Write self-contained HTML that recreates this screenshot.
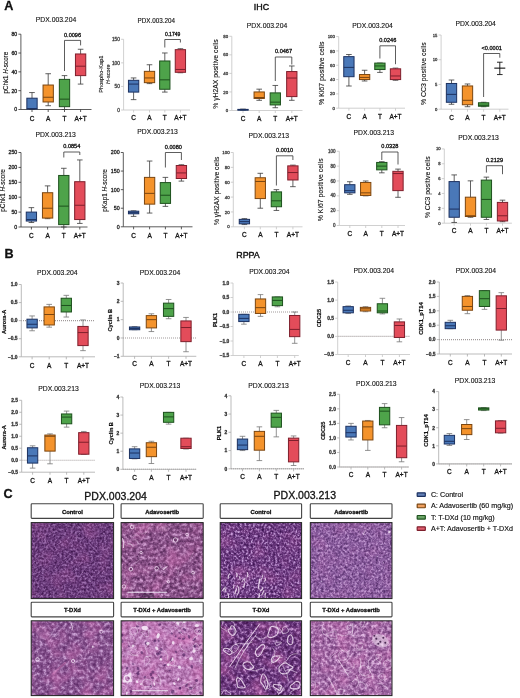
<!DOCTYPE html>
<html><head><meta charset="utf-8"><title>Figure</title>
<style>html,body{margin:0;padding:0;background:#fff;width:520px;height:698px;overflow:hidden}svg{display:block}</style>
</head><body>
<svg width="520" height="698" viewBox="0 0 520 698" font-family="'Liberation Sans', Arial, Helvetica, sans-serif">
<style>text{stroke:#111;stroke-width:0.3px;stroke-linejoin:round}</style>
<defs>
<filter id="tex00" x="0" y="0" width="1" height="1" color-interpolation-filters="sRGB"><feTurbulence type="fractalNoise" baseFrequency="0.45" numOctaves="3" seed="1"/><feColorMatrix type="matrix" values="1 0 0 0 0 1 0 0 0 0 1 0 0 0 0 0 0 0 0 1"/><feComponentTransfer result="base"><feFuncR type="table" tableValues="0.251 0.251 0.251 0.251 0.261 0.287 0.313 0.338 0.364 0.390 0.416 0.450 0.484 0.519 0.553 0.587 0.622 0.635 0.635 0.635 0.635"/><feFuncG type="table" tableValues="0.094 0.094 0.094 0.094 0.103 0.124 0.146 0.167 0.188 0.210 0.231 0.268 0.304 0.340 0.376 0.412 0.448 0.463 0.463 0.463 0.463"/><feFuncB type="table" tableValues="0.310 0.310 0.310 0.310 0.321 0.348 0.375 0.401 0.428 0.455 0.482 0.517 0.552 0.587 0.622 0.657 0.692 0.706 0.706 0.706 0.706"/></feComponentTransfer><feTurbulence type="fractalNoise" baseFrequency="0.06" numOctaves="2" seed="41"/><feColorMatrix type="matrix" values="0 0 0 0 0.86 0 0 0 0 0.45 0 0 0 0 0.72 0.60 0 0 0 -0.270" result="pink"/><feMerge><feMergeNode in="base"/><feMergeNode in="pink"/></feMerge><feGaussianBlur stdDeviation="0.3"/><feComposite in2="SourceGraphic" operator="in"/></filter>
<filter id="tex01" x="0" y="0" width="1" height="1" color-interpolation-filters="sRGB"><feTurbulence type="fractalNoise" baseFrequency="0.3" numOctaves="3" seed="2"/><feColorMatrix type="matrix" values="1 0 0 0 0 1 0 0 0 0 1 0 0 0 0 0 0 0 0 1"/><feComponentTransfer result="base"><feFuncR type="table" tableValues="0.333 0.333 0.333 0.333 0.346 0.379 0.411 0.444 0.476 0.509 0.541 0.585 0.629 0.674 0.718 0.762 0.806 0.824 0.824 0.824 0.824"/><feFuncG type="table" tableValues="0.157 0.157 0.157 0.157 0.167 0.193 0.219 0.244 0.270 0.296 0.322 0.369 0.417 0.465 0.513 0.561 0.608 0.627 0.627 0.627 0.627"/><feFuncB type="table" tableValues="0.345 0.345 0.345 0.345 0.357 0.387 0.417 0.447 0.477 0.507 0.537 0.582 0.627 0.671 0.716 0.761 0.806 0.824 0.824 0.824 0.824"/></feComponentTransfer><feTurbulence type="fractalNoise" baseFrequency="0.06" numOctaves="2" seed="42"/><feColorMatrix type="matrix" values="0 0 0 0 0.86 0 0 0 0 0.45 0 0 0 0 0.72 1.00 0 0 0 -0.450" result="pink"/><feMerge><feMergeNode in="base"/><feMergeNode in="pink"/></feMerge><feGaussianBlur stdDeviation="0.3"/><feComposite in2="SourceGraphic" operator="in"/></filter>
<filter id="tex02" x="0" y="0" width="1" height="1" color-interpolation-filters="sRGB"><feTurbulence type="fractalNoise" baseFrequency="0.45" numOctaves="3" seed="3"/><feColorMatrix type="matrix" values="1 0 0 0 0 1 0 0 0 0 1 0 0 0 0 0 0 0 0 1"/><feComponentTransfer result="base"><feFuncR type="table" tableValues="0.235 0.235 0.235 0.235 0.248 0.278 0.309 0.339 0.370 0.401 0.431 0.487 0.542 0.597 0.652 0.707 0.762 0.784 0.784 0.784 0.784"/><feFuncG type="table" tableValues="0.078 0.078 0.078 0.078 0.088 0.113 0.137 0.162 0.186 0.211 0.235 0.297 0.358 0.419 0.480 0.542 0.603 0.627 0.627 0.627 0.627"/><feFuncB type="table" tableValues="0.322 0.322 0.322 0.322 0.333 0.363 0.392 0.422 0.451 0.480 0.510 0.565 0.620 0.675 0.730 0.786 0.841 0.863 0.863 0.863 0.863"/></feComponentTransfer><feTurbulence type="fractalNoise" baseFrequency="0.06" numOctaves="2" seed="43"/><feColorMatrix type="matrix" values="0 0 0 0 0.86 0 0 0 0 0.45 0 0 0 0 0.72 0.60 0 0 0 -0.270" result="pink"/><feMerge><feMergeNode in="base"/><feMergeNode in="pink"/></feMerge><feGaussianBlur stdDeviation="0.3"/><feComposite in2="SourceGraphic" operator="in"/></filter>
<filter id="tex03" x="0" y="0" width="1" height="1" color-interpolation-filters="sRGB"><feTurbulence type="fractalNoise" baseFrequency="0.42" numOctaves="3" seed="4"/><feColorMatrix type="matrix" values="1 0 0 0 0 1 0 0 0 0 1 0 0 0 0 0 0 0 0 1"/><feComponentTransfer result="base"><feFuncR type="table" tableValues="0.337 0.337 0.337 0.337 0.350 0.382 0.414 0.446 0.477 0.509 0.541 0.579 0.617 0.655 0.693 0.731 0.769 0.784 0.784 0.784 0.784"/><feFuncG type="table" tableValues="0.188 0.188 0.188 0.188 0.199 0.226 0.253 0.280 0.307 0.334 0.361 0.402 0.444 0.486 0.527 0.569 0.611 0.627 0.627 0.627 0.627"/><feFuncB type="table" tableValues="0.424 0.424 0.424 0.424 0.436 0.466 0.497 0.528 0.558 0.589 0.620 0.655 0.689 0.724 0.759 0.794 0.829 0.843 0.843 0.843 0.843"/></feComponentTransfer><feTurbulence type="fractalNoise" baseFrequency="0.06" numOctaves="2" seed="44"/><feColorMatrix type="matrix" values="0 0 0 0 0.86 0 0 0 0 0.45 0 0 0 0 0.72 0.40 0 0 0 -0.180" result="pink"/><feMerge><feMergeNode in="base"/><feMergeNode in="pink"/></feMerge><feGaussianBlur stdDeviation="0.3"/><feComposite in2="SourceGraphic" operator="in"/></filter>
<filter id="tex10" x="0" y="0" width="1" height="1" color-interpolation-filters="sRGB"><feTurbulence type="fractalNoise" baseFrequency="0.3" numOctaves="3" seed="5"/><feColorMatrix type="matrix" values="1 0 0 0 0 1 0 0 0 0 1 0 0 0 0 0 0 0 0 1"/><feComponentTransfer result="base"><feFuncR type="table" tableValues="0.369 0.369 0.369 0.369 0.379 0.404 0.429 0.454 0.479 0.504 0.529 0.572 0.615 0.658 0.701 0.744 0.787 0.804 0.804 0.804 0.804"/><feFuncG type="table" tableValues="0.173 0.173 0.173 0.173 0.182 0.206 0.230 0.254 0.278 0.302 0.325 0.376 0.426 0.476 0.526 0.577 0.627 0.647 0.647 0.647 0.647"/><feFuncB type="table" tableValues="0.408 0.408 0.408 0.408 0.417 0.441 0.465 0.489 0.513 0.537 0.561 0.605 0.649 0.693 0.737 0.781 0.825 0.843 0.843 0.843 0.843"/></feComponentTransfer><feTurbulence type="fractalNoise" baseFrequency="0.06" numOctaves="2" seed="45"/><feColorMatrix type="matrix" values="0 0 0 0 0.86 0 0 0 0 0.45 0 0 0 0 0.72 1.20 0 0 0 -0.540" result="pink"/><feMerge><feMergeNode in="base"/><feMergeNode in="pink"/></feMerge><feGaussianBlur stdDeviation="0.3"/><feComposite in2="SourceGraphic" operator="in"/></filter>
<filter id="tex11" x="0" y="0" width="1" height="1" color-interpolation-filters="sRGB"><feTurbulence type="fractalNoise" baseFrequency="0.3" numOctaves="3" seed="6"/><feColorMatrix type="matrix" values="1 0 0 0 0 1 0 0 0 0 1 0 0 0 0 0 0 0 0 1"/><feComponentTransfer result="base"><feFuncR type="table" tableValues="0.518 0.518 0.518 0.518 0.530 0.562 0.594 0.626 0.658 0.690 0.722 0.747 0.773 0.799 0.825 0.850 0.876 0.886 0.886 0.886 0.886"/><feFuncG type="table" tableValues="0.275 0.275 0.275 0.275 0.287 0.319 0.351 0.383 0.415 0.447 0.478 0.514 0.550 0.585 0.621 0.656 0.692 0.706 0.706 0.706 0.706"/><feFuncB type="table" tableValues="0.498 0.498 0.498 0.498 0.512 0.545 0.579 0.613 0.646 0.680 0.714 0.741 0.768 0.795 0.822 0.849 0.875 0.886 0.886 0.886 0.886"/></feComponentTransfer><feTurbulence type="fractalNoise" baseFrequency="0.06" numOctaves="2" seed="46"/><feColorMatrix type="matrix" values="0 0 0 0 0.86 0 0 0 0 0.45 0 0 0 0 0.72 1.20 0 0 0 -0.540" result="pink"/><feMerge><feMergeNode in="base"/><feMergeNode in="pink"/></feMerge><feGaussianBlur stdDeviation="0.3"/><feComposite in2="SourceGraphic" operator="in"/></filter>
<filter id="tex12" x="0" y="0" width="1" height="1" color-interpolation-filters="sRGB"><feTurbulence type="fractalNoise" baseFrequency="0.32" numOctaves="3" seed="7"/><feColorMatrix type="matrix" values="1 0 0 0 0 1 0 0 0 0 1 0 0 0 0 0 0 0 0 1"/><feComponentTransfer result="base"><feFuncR type="table" tableValues="0.259 0.259 0.259 0.259 0.268 0.290 0.312 0.334 0.356 0.378 0.400 0.460 0.520 0.580 0.640 0.700 0.760 0.784 0.784 0.784 0.784"/><feFuncG type="table" tableValues="0.078 0.078 0.078 0.078 0.086 0.106 0.125 0.145 0.165 0.184 0.204 0.265 0.326 0.388 0.449 0.510 0.572 0.596 0.596 0.596 0.596"/><feFuncB type="table" tableValues="0.310 0.310 0.310 0.310 0.320 0.347 0.373 0.399 0.426 0.452 0.478 0.534 0.589 0.644 0.699 0.754 0.809 0.831 0.831 0.831 0.831"/></feComponentTransfer><feTurbulence type="fractalNoise" baseFrequency="0.06" numOctaves="2" seed="47"/><feColorMatrix type="matrix" values="0 0 0 0 0.86 0 0 0 0 0.45 0 0 0 0 0.72 1.20 0 0 0 -0.540" result="pink"/><feMerge><feMergeNode in="base"/><feMergeNode in="pink"/></feMerge><feGaussianBlur stdDeviation="0.3"/><feComposite in2="SourceGraphic" operator="in"/></filter>
<filter id="tex13" x="0" y="0" width="1" height="1" color-interpolation-filters="sRGB"><feTurbulence type="fractalNoise" baseFrequency="0.32" numOctaves="3" seed="8"/><feColorMatrix type="matrix" values="1 0 0 0 0 1 0 0 0 0 1 0 0 0 0 0 0 0 0 1"/><feComponentTransfer result="base"><feFuncR type="table" tableValues="0.416 0.416 0.416 0.416 0.429 0.462 0.495 0.528 0.561 0.594 0.627 0.670 0.713 0.756 0.799 0.842 0.885 0.902 0.902 0.902 0.902"/><feFuncG type="table" tableValues="0.212 0.212 0.212 0.212 0.224 0.255 0.285 0.316 0.347 0.377 0.408 0.461 0.513 0.566 0.619 0.671 0.724 0.745 0.745 0.745 0.745"/><feFuncB type="table" tableValues="0.447 0.447 0.447 0.447 0.459 0.490 0.521 0.551 0.582 0.613 0.643 0.685 0.726 0.768 0.810 0.851 0.893 0.910 0.910 0.910 0.910"/></feComponentTransfer><feTurbulence type="fractalNoise" baseFrequency="0.06" numOctaves="2" seed="48"/><feColorMatrix type="matrix" values="0 0 0 0 0.86 0 0 0 0 0.45 0 0 0 0 0.72 1.00 0 0 0 -0.450" result="pink"/><feMerge><feMergeNode in="base"/><feMergeNode in="pink"/></feMerge><feGaussianBlur stdDeviation="0.3"/><feComposite in2="SourceGraphic" operator="in"/></filter>
<filter id="soft" x="-0.1" y="-0.1" width="1.2" height="1.2"><feGaussianBlur stdDeviation="0.3"/></filter>
</defs>
<rect width="520" height="698" fill="#fff"/>
<text x="4.3" y="10.2" font-size="12.6" font-weight="bold" fill="#111">A</text>
<text x="261.5" y="9.8" font-size="8.9" text-anchor="middle" fill="#111" style="stroke-width:0.4px">IHC</text>
<text x="4.5" y="258.3" font-size="12.6" font-weight="bold" fill="#111">B</text>
<text x="248" y="258.2" font-size="8.9" text-anchor="middle" fill="#111" style="stroke-width:0.4px">RPPA</text>
<text x="3.6" y="497.9" font-size="12.6" font-weight="bold" fill="#111">C</text>
<text x="56" y="22" font-size="6.8" text-anchor="middle" fill="#111" style="stroke-width:0.12px">PDX.003.204</text>
<text transform="translate(8.29,72.70) rotate(-90)" font-size="6.28" text-anchor="middle" fill="#111" style="stroke-width:0.12px">pChk1 <tspan font-style="italic">H</tspan>-score</text>
<line x1="20.90" y1="34.20" x2="20.90" y2="109.50" stroke="#333" stroke-width="0.8"/>
<line x1="20.90" y1="109.50" x2="91.50" y2="109.50" stroke="#333" stroke-width="0.8"/>
<line x1="18.40" y1="109.50" x2="20.90" y2="109.50" stroke="#333" stroke-width="0.8"/>
<text x="17.20" y="111.37" font-size="5.2" text-anchor="end" fill="#222" style="stroke:#222">0</text>
<line x1="18.40" y1="90.67" x2="20.90" y2="90.67" stroke="#333" stroke-width="0.8"/>
<text x="17.20" y="92.55" font-size="5.2" text-anchor="end" fill="#222" style="stroke:#222">20</text>
<line x1="18.40" y1="71.85" x2="20.90" y2="71.85" stroke="#333" stroke-width="0.8"/>
<text x="17.20" y="73.72" font-size="5.2" text-anchor="end" fill="#222" style="stroke:#222">40</text>
<line x1="18.40" y1="53.02" x2="20.90" y2="53.02" stroke="#333" stroke-width="0.8"/>
<text x="17.20" y="54.90" font-size="5.2" text-anchor="end" fill="#222" style="stroke:#222">60</text>
<line x1="18.40" y1="34.20" x2="20.90" y2="34.20" stroke="#333" stroke-width="0.8"/>
<text x="17.20" y="36.07" font-size="5.2" text-anchor="end" fill="#222" style="stroke:#222">80</text>
<line x1="32.00" y1="109.50" x2="32.00" y2="112.00" stroke="#333" stroke-width="0.8"/>
<text x="32.00" y="121.20" font-size="6.5" text-anchor="middle" fill="#111">C</text>
<line x1="48.20" y1="109.50" x2="48.20" y2="112.00" stroke="#333" stroke-width="0.8"/>
<text x="48.20" y="121.20" font-size="6.5" text-anchor="middle" fill="#111">A</text>
<line x1="64.50" y1="109.50" x2="64.50" y2="112.00" stroke="#333" stroke-width="0.8"/>
<text x="64.50" y="121.20" font-size="6.5" text-anchor="middle" fill="#111">T</text>
<line x1="80.60" y1="109.50" x2="80.60" y2="112.00" stroke="#333" stroke-width="0.8"/>
<text x="80.60" y="121.20" font-size="6.5" text-anchor="middle" fill="#111">A+T</text>
<line x1="32.00" y1="92.56" x2="32.00" y2="98.20" stroke="#3a3a3a" stroke-width="0.8"/>
<line x1="32.00" y1="109.03" x2="32.00" y2="109.50" stroke="#3a3a3a" stroke-width="0.8"/>
<line x1="29.20" y1="109.50" x2="34.80" y2="109.50" stroke="#3a3a3a" stroke-width="0.8"/>
<line x1="29.20" y1="92.56" x2="34.80" y2="92.56" stroke="#3a3a3a" stroke-width="0.8"/>
<rect x="26.85" y="98.20" width="10.30" height="10.82" fill="#4a78b8" stroke="#1c3160" stroke-width="1.0"/>
<line x1="26.85" y1="108.56" x2="37.15" y2="108.56" stroke="#1c3160" stroke-width="1"/>
<line x1="48.20" y1="73.73" x2="48.20" y2="85.03" stroke="#3a3a3a" stroke-width="0.8"/>
<line x1="48.20" y1="101.97" x2="48.20" y2="105.73" stroke="#3a3a3a" stroke-width="0.8"/>
<line x1="45.40" y1="105.73" x2="51.00" y2="105.73" stroke="#3a3a3a" stroke-width="0.8"/>
<line x1="45.40" y1="73.73" x2="51.00" y2="73.73" stroke="#3a3a3a" stroke-width="0.8"/>
<rect x="43.05" y="85.03" width="10.30" height="16.94" fill="#f4932c" stroke="#7a4510" stroke-width="1.0"/>
<line x1="43.05" y1="97.26" x2="53.35" y2="97.26" stroke="#7a4510" stroke-width="1"/>
<line x1="64.50" y1="75.62" x2="64.50" y2="79.38" stroke="#3a3a3a" stroke-width="0.8"/>
<line x1="64.50" y1="106.68" x2="64.50" y2="109.50" stroke="#3a3a3a" stroke-width="0.8"/>
<line x1="61.70" y1="109.50" x2="67.30" y2="109.50" stroke="#3a3a3a" stroke-width="0.8"/>
<line x1="61.70" y1="75.62" x2="67.30" y2="75.62" stroke="#3a3a3a" stroke-width="0.8"/>
<rect x="59.35" y="79.38" width="10.30" height="27.30" fill="#4ea34a" stroke="#1d501d" stroke-width="1.0"/>
<line x1="59.35" y1="99.15" x2="69.65" y2="99.15" stroke="#1d501d" stroke-width="1"/>
<line x1="80.60" y1="49.26" x2="80.60" y2="53.97" stroke="#3a3a3a" stroke-width="0.8"/>
<line x1="80.60" y1="75.62" x2="80.60" y2="84.09" stroke="#3a3a3a" stroke-width="0.8"/>
<line x1="77.80" y1="84.09" x2="83.40" y2="84.09" stroke="#3a3a3a" stroke-width="0.8"/>
<line x1="77.80" y1="49.26" x2="83.40" y2="49.26" stroke="#3a3a3a" stroke-width="0.8"/>
<rect x="75.45" y="53.97" width="10.30" height="21.65" fill="#e34c5a" stroke="#7e1f2c" stroke-width="1.0"/>
<line x1="75.45" y1="66.20" x2="85.75" y2="66.20" stroke="#7e1f2c" stroke-width="1"/>
<polyline points="64.50,71.00 64.50,40.40 80.60,40.40 80.60,45.40" fill="none" stroke="#333" stroke-width="0.8"/>
<text x="72.55" y="36.80" font-size="5.6" text-anchor="middle" fill="#111">0.0096</text>
<text x="156.3" y="22.6" font-size="6.3" text-anchor="middle" fill="#111" style="stroke-width:0.12px">PDX.003.204</text>
<text transform="translate(102.62,74.15) rotate(-90)" font-size="5.62" text-anchor="middle" fill="#111" style="stroke-width:0.12px">Phospho-Kap1</text>
<text transform="translate(110.01,74.15) rotate(-90)" font-size="5.62" text-anchor="middle" fill="#111" style="stroke-width:0.12px"><tspan font-style="italic">H</tspan>-score</text>
<line x1="123.60" y1="39.30" x2="123.60" y2="110.00" stroke="#c4c4c4" stroke-width="0.8"/>
<line x1="123.60" y1="110.00" x2="190.00" y2="110.00" stroke="#c4c4c4" stroke-width="0.8"/>
<line x1="121.10" y1="110.00" x2="123.60" y2="110.00" stroke="#c4c4c4" stroke-width="0.8"/>
<text x="119.90" y="111.73" font-size="4.8" text-anchor="end" fill="#444" style="stroke:#444">0</text>
<line x1="121.10" y1="86.43" x2="123.60" y2="86.43" stroke="#c4c4c4" stroke-width="0.8"/>
<text x="119.90" y="88.16" font-size="4.8" text-anchor="end" fill="#444" style="stroke:#444">50</text>
<line x1="121.10" y1="62.87" x2="123.60" y2="62.87" stroke="#c4c4c4" stroke-width="0.8"/>
<text x="119.90" y="64.59" font-size="4.8" text-anchor="end" fill="#444" style="stroke:#444">100</text>
<line x1="121.10" y1="39.30" x2="123.60" y2="39.30" stroke="#c4c4c4" stroke-width="0.8"/>
<text x="119.90" y="41.03" font-size="4.8" text-anchor="end" fill="#444" style="stroke:#444">150</text>
<line x1="133.60" y1="110.00" x2="133.60" y2="112.50" stroke="#c4c4c4" stroke-width="0.8"/>
<text x="133.60" y="120.40" font-size="6.5" text-anchor="middle" fill="#111">C</text>
<line x1="149.50" y1="110.00" x2="149.50" y2="112.50" stroke="#c4c4c4" stroke-width="0.8"/>
<text x="149.50" y="120.40" font-size="6.5" text-anchor="middle" fill="#111">A</text>
<line x1="164.80" y1="110.00" x2="164.80" y2="112.50" stroke="#c4c4c4" stroke-width="0.8"/>
<text x="164.80" y="120.40" font-size="6.5" text-anchor="middle" fill="#111">T</text>
<line x1="180.40" y1="110.00" x2="180.40" y2="112.50" stroke="#c4c4c4" stroke-width="0.8"/>
<text x="180.40" y="120.40" font-size="6.5" text-anchor="middle" fill="#111">A+T</text>
<line x1="133.60" y1="77.95" x2="133.60" y2="80.31" stroke="#3a3a3a" stroke-width="0.8"/>
<line x1="133.60" y1="92.09" x2="133.60" y2="99.63" stroke="#3a3a3a" stroke-width="0.8"/>
<line x1="130.80" y1="99.63" x2="136.40" y2="99.63" stroke="#3a3a3a" stroke-width="0.8"/>
<line x1="130.80" y1="77.95" x2="136.40" y2="77.95" stroke="#3a3a3a" stroke-width="0.8"/>
<rect x="128.45" y="80.31" width="10.30" height="11.78" fill="#4a78b8" stroke="#1c3160" stroke-width="1.0"/>
<line x1="128.45" y1="84.08" x2="138.75" y2="84.08" stroke="#1c3160" stroke-width="1"/>
<line x1="149.50" y1="64.75" x2="149.50" y2="71.35" stroke="#3a3a3a" stroke-width="0.8"/>
<line x1="149.50" y1="82.66" x2="149.50" y2="83.61" stroke="#3a3a3a" stroke-width="0.8"/>
<line x1="146.70" y1="83.61" x2="152.30" y2="83.61" stroke="#3a3a3a" stroke-width="0.8"/>
<line x1="146.70" y1="64.75" x2="152.30" y2="64.75" stroke="#3a3a3a" stroke-width="0.8"/>
<rect x="144.35" y="71.35" width="10.30" height="11.31" fill="#f4932c" stroke="#7a4510" stroke-width="1.0"/>
<line x1="144.35" y1="77.95" x2="154.65" y2="77.95" stroke="#7a4510" stroke-width="1"/>
<line x1="164.80" y1="52.97" x2="164.80" y2="60.98" stroke="#3a3a3a" stroke-width="0.8"/>
<line x1="164.80" y1="89.26" x2="164.80" y2="92.09" stroke="#3a3a3a" stroke-width="0.8"/>
<line x1="162.00" y1="92.09" x2="167.60" y2="92.09" stroke="#3a3a3a" stroke-width="0.8"/>
<line x1="162.00" y1="52.97" x2="167.60" y2="52.97" stroke="#3a3a3a" stroke-width="0.8"/>
<rect x="159.65" y="60.98" width="10.30" height="28.28" fill="#4ea34a" stroke="#1d501d" stroke-width="1.0"/>
<line x1="159.65" y1="79.83" x2="169.95" y2="79.83" stroke="#1d501d" stroke-width="1"/>
<line x1="180.40" y1="48.73" x2="180.40" y2="49.67" stroke="#3a3a3a" stroke-width="0.8"/>
<line x1="180.40" y1="72.29" x2="180.40" y2="72.76" stroke="#3a3a3a" stroke-width="0.8"/>
<line x1="177.60" y1="72.76" x2="183.20" y2="72.76" stroke="#3a3a3a" stroke-width="0.8"/>
<line x1="177.60" y1="48.73" x2="183.20" y2="48.73" stroke="#3a3a3a" stroke-width="0.8"/>
<rect x="175.25" y="49.67" width="10.30" height="22.62" fill="#e34c5a" stroke="#7e1f2c" stroke-width="1.0"/>
<line x1="175.25" y1="69.47" x2="185.55" y2="69.47" stroke="#7e1f2c" stroke-width="1"/>
<polyline points="164.80,47.50 164.80,39.50 180.40,39.50 180.40,42.50" fill="none" stroke="#333" stroke-width="0.8"/>
<text x="172.60" y="35.90" font-size="5.0" text-anchor="middle" fill="#111">0.1749</text>
<text x="267" y="27.5" font-size="6.8" text-anchor="middle" fill="#111" style="stroke-width:0.12px">PDX.003.204</text>
<text transform="translate(217.92,74.10) rotate(-90)" font-size="6.79" text-anchor="middle" fill="#111" style="stroke-width:0.12px">% γH2AX positive cells</text>
<line x1="231.80" y1="36.30" x2="231.80" y2="110.50" stroke="#c4c4c4" stroke-width="0.8"/>
<line x1="231.80" y1="110.50" x2="302.50" y2="110.50" stroke="#c4c4c4" stroke-width="0.8"/>
<line x1="229.30" y1="110.50" x2="231.80" y2="110.50" stroke="#c4c4c4" stroke-width="0.8"/>
<text x="228.10" y="112.08" font-size="4.4" text-anchor="end" fill="#444" style="stroke:#444">0</text>
<line x1="229.30" y1="91.95" x2="231.80" y2="91.95" stroke="#c4c4c4" stroke-width="0.8"/>
<text x="228.10" y="93.53" font-size="4.4" text-anchor="end" fill="#444" style="stroke:#444">20</text>
<line x1="229.30" y1="73.40" x2="231.80" y2="73.40" stroke="#c4c4c4" stroke-width="0.8"/>
<text x="228.10" y="74.98" font-size="4.4" text-anchor="end" fill="#444" style="stroke:#444">40</text>
<line x1="229.30" y1="54.85" x2="231.80" y2="54.85" stroke="#c4c4c4" stroke-width="0.8"/>
<text x="228.10" y="56.43" font-size="4.4" text-anchor="end" fill="#444" style="stroke:#444">60</text>
<line x1="229.30" y1="36.30" x2="231.80" y2="36.30" stroke="#c4c4c4" stroke-width="0.8"/>
<text x="228.10" y="37.88" font-size="4.4" text-anchor="end" fill="#444" style="stroke:#444">80</text>
<line x1="243.00" y1="110.50" x2="243.00" y2="113.00" stroke="#c4c4c4" stroke-width="0.8"/>
<text x="243.00" y="121.20" font-size="6.5" text-anchor="middle" fill="#111">C</text>
<line x1="259.20" y1="110.50" x2="259.20" y2="113.00" stroke="#c4c4c4" stroke-width="0.8"/>
<text x="259.20" y="121.20" font-size="6.5" text-anchor="middle" fill="#111">A</text>
<line x1="275.30" y1="110.50" x2="275.30" y2="113.00" stroke="#c4c4c4" stroke-width="0.8"/>
<text x="275.30" y="121.20" font-size="6.5" text-anchor="middle" fill="#111">T</text>
<line x1="291.80" y1="110.50" x2="291.80" y2="113.00" stroke="#c4c4c4" stroke-width="0.8"/>
<text x="291.80" y="121.20" font-size="6.5" text-anchor="middle" fill="#111">A+T</text>
<line x1="243.00" y1="109.11" x2="243.00" y2="109.39" stroke="#3a3a3a" stroke-width="0.8"/>
<line x1="243.00" y1="109.76" x2="243.00" y2="110.04" stroke="#3a3a3a" stroke-width="0.8"/>
<line x1="240.20" y1="110.04" x2="245.80" y2="110.04" stroke="#3a3a3a" stroke-width="0.8"/>
<line x1="240.20" y1="109.11" x2="245.80" y2="109.11" stroke="#3a3a3a" stroke-width="0.8"/>
<rect x="237.85" y="109.39" width="10.30" height="0.80" fill="#4a78b8" stroke="#1c3160" stroke-width="1.0"/>
<line x1="237.85" y1="109.57" x2="248.15" y2="109.57" stroke="#1c3160" stroke-width="1"/>
<line x1="259.20" y1="89.17" x2="259.20" y2="91.95" stroke="#3a3a3a" stroke-width="0.8"/>
<line x1="259.20" y1="98.44" x2="259.20" y2="100.30" stroke="#3a3a3a" stroke-width="0.8"/>
<line x1="256.40" y1="100.30" x2="262.00" y2="100.30" stroke="#3a3a3a" stroke-width="0.8"/>
<line x1="256.40" y1="89.17" x2="262.00" y2="89.17" stroke="#3a3a3a" stroke-width="0.8"/>
<rect x="254.05" y="91.95" width="10.30" height="6.49" fill="#f4932c" stroke="#7a4510" stroke-width="1.0"/>
<line x1="254.05" y1="97.52" x2="264.35" y2="97.52" stroke="#7a4510" stroke-width="1"/>
<line x1="275.30" y1="85.46" x2="275.30" y2="92.88" stroke="#3a3a3a" stroke-width="0.8"/>
<line x1="275.30" y1="104.94" x2="275.30" y2="107.72" stroke="#3a3a3a" stroke-width="0.8"/>
<line x1="272.50" y1="107.72" x2="278.10" y2="107.72" stroke="#3a3a3a" stroke-width="0.8"/>
<line x1="272.50" y1="85.46" x2="278.10" y2="85.46" stroke="#3a3a3a" stroke-width="0.8"/>
<rect x="270.15" y="92.88" width="10.30" height="12.06" fill="#4ea34a" stroke="#1d501d" stroke-width="1.0"/>
<line x1="270.15" y1="102.15" x2="280.45" y2="102.15" stroke="#1d501d" stroke-width="1"/>
<line x1="291.80" y1="65.98" x2="291.80" y2="71.55" stroke="#3a3a3a" stroke-width="0.8"/>
<line x1="291.80" y1="96.59" x2="291.80" y2="100.30" stroke="#3a3a3a" stroke-width="0.8"/>
<line x1="289.00" y1="100.30" x2="294.60" y2="100.30" stroke="#3a3a3a" stroke-width="0.8"/>
<line x1="289.00" y1="65.98" x2="294.60" y2="65.98" stroke="#3a3a3a" stroke-width="0.8"/>
<rect x="286.65" y="71.55" width="10.30" height="25.04" fill="#e34c5a" stroke="#7e1f2c" stroke-width="1.0"/>
<line x1="286.65" y1="78.04" x2="296.95" y2="78.04" stroke="#7e1f2c" stroke-width="1"/>
<polyline points="275.30,81.00 275.30,57.00 291.80,57.00 291.80,64.50" fill="none" stroke="#333" stroke-width="0.8"/>
<text x="283.55" y="53.40" font-size="5.6" text-anchor="middle" fill="#111">0.0467</text>
<text x="372.5" y="27.5" font-size="6.8" text-anchor="middle" fill="#111" style="stroke-width:0.12px">PDX.003.204</text>
<text transform="translate(323.96,73.30) rotate(-90)" font-size="6.96" text-anchor="middle" fill="#111" style="stroke-width:0.12px">% Ki67 positive cells</text>
<line x1="338.70" y1="36.60" x2="338.70" y2="108.20" stroke="#c4c4c4" stroke-width="0.8"/>
<line x1="338.70" y1="108.20" x2="405.00" y2="108.20" stroke="#c4c4c4" stroke-width="0.8"/>
<line x1="336.20" y1="108.20" x2="338.70" y2="108.20" stroke="#c4c4c4" stroke-width="0.8"/>
<text x="335.00" y="109.78" font-size="4.4" text-anchor="end" fill="#444" style="stroke:#444">0</text>
<line x1="336.20" y1="93.88" x2="338.70" y2="93.88" stroke="#c4c4c4" stroke-width="0.8"/>
<text x="335.00" y="95.46" font-size="4.4" text-anchor="end" fill="#444" style="stroke:#444">20</text>
<line x1="336.20" y1="79.56" x2="338.70" y2="79.56" stroke="#c4c4c4" stroke-width="0.8"/>
<text x="335.00" y="81.14" font-size="4.4" text-anchor="end" fill="#444" style="stroke:#444">40</text>
<line x1="336.20" y1="65.24" x2="338.70" y2="65.24" stroke="#c4c4c4" stroke-width="0.8"/>
<text x="335.00" y="66.82" font-size="4.4" text-anchor="end" fill="#444" style="stroke:#444">60</text>
<line x1="336.20" y1="50.92" x2="338.70" y2="50.92" stroke="#c4c4c4" stroke-width="0.8"/>
<text x="335.00" y="52.50" font-size="4.4" text-anchor="end" fill="#444" style="stroke:#444">80</text>
<line x1="336.20" y1="36.60" x2="338.70" y2="36.60" stroke="#c4c4c4" stroke-width="0.8"/>
<text x="335.00" y="38.18" font-size="4.4" text-anchor="end" fill="#444" style="stroke:#444">100</text>
<line x1="348.90" y1="108.20" x2="348.90" y2="110.70" stroke="#c4c4c4" stroke-width="0.8"/>
<text x="348.90" y="119.20" font-size="6.5" text-anchor="middle" fill="#111">C</text>
<line x1="364.60" y1="108.20" x2="364.60" y2="110.70" stroke="#c4c4c4" stroke-width="0.8"/>
<text x="364.60" y="119.20" font-size="6.5" text-anchor="middle" fill="#111">A</text>
<line x1="379.90" y1="108.20" x2="379.90" y2="110.70" stroke="#c4c4c4" stroke-width="0.8"/>
<text x="379.90" y="119.20" font-size="6.5" text-anchor="middle" fill="#111">T</text>
<line x1="395.50" y1="108.20" x2="395.50" y2="110.70" stroke="#c4c4c4" stroke-width="0.8"/>
<text x="395.50" y="119.20" font-size="6.5" text-anchor="middle" fill="#111">A+T</text>
<line x1="348.90" y1="54.50" x2="348.90" y2="56.65" stroke="#3a3a3a" stroke-width="0.8"/>
<line x1="348.90" y1="76.70" x2="348.90" y2="86.00" stroke="#3a3a3a" stroke-width="0.8"/>
<line x1="346.10" y1="86.00" x2="351.70" y2="86.00" stroke="#3a3a3a" stroke-width="0.8"/>
<line x1="346.10" y1="54.50" x2="351.70" y2="54.50" stroke="#3a3a3a" stroke-width="0.8"/>
<rect x="343.75" y="56.65" width="10.30" height="20.05" fill="#4a78b8" stroke="#1c3160" stroke-width="1.0"/>
<line x1="343.75" y1="67.39" x2="354.05" y2="67.39" stroke="#1c3160" stroke-width="1"/>
<line x1="364.60" y1="70.25" x2="364.60" y2="74.55" stroke="#3a3a3a" stroke-width="0.8"/>
<line x1="364.60" y1="79.56" x2="364.60" y2="80.99" stroke="#3a3a3a" stroke-width="0.8"/>
<line x1="361.80" y1="80.99" x2="367.40" y2="80.99" stroke="#3a3a3a" stroke-width="0.8"/>
<line x1="361.80" y1="70.25" x2="367.40" y2="70.25" stroke="#3a3a3a" stroke-width="0.8"/>
<rect x="359.45" y="74.55" width="10.30" height="5.01" fill="#f4932c" stroke="#7a4510" stroke-width="1.0"/>
<line x1="359.45" y1="77.41" x2="369.75" y2="77.41" stroke="#7a4510" stroke-width="1"/>
<line x1="379.90" y1="63.09" x2="379.90" y2="63.09" stroke="#3a3a3a" stroke-width="0.8"/>
<line x1="379.90" y1="69.54" x2="379.90" y2="72.40" stroke="#3a3a3a" stroke-width="0.8"/>
<line x1="377.10" y1="72.40" x2="382.70" y2="72.40" stroke="#3a3a3a" stroke-width="0.8"/>
<line x1="377.10" y1="63.09" x2="382.70" y2="63.09" stroke="#3a3a3a" stroke-width="0.8"/>
<rect x="374.75" y="63.09" width="10.30" height="6.44" fill="#4ea34a" stroke="#1d501d" stroke-width="1.0"/>
<line x1="374.75" y1="65.96" x2="385.05" y2="65.96" stroke="#1d501d" stroke-width="1"/>
<line x1="395.50" y1="68.10" x2="395.50" y2="68.82" stroke="#3a3a3a" stroke-width="0.8"/>
<line x1="395.50" y1="79.56" x2="395.50" y2="80.28" stroke="#3a3a3a" stroke-width="0.8"/>
<line x1="392.70" y1="80.28" x2="398.30" y2="80.28" stroke="#3a3a3a" stroke-width="0.8"/>
<line x1="392.70" y1="68.10" x2="398.30" y2="68.10" stroke="#3a3a3a" stroke-width="0.8"/>
<rect x="390.35" y="68.82" width="10.30" height="10.74" fill="#e34c5a" stroke="#7e1f2c" stroke-width="1.0"/>
<line x1="390.35" y1="75.98" x2="400.65" y2="75.98" stroke="#7e1f2c" stroke-width="1"/>
<polyline points="379.90,58.50 379.90,45.80 395.50,45.80 395.50,64.20" fill="none" stroke="#333" stroke-width="0.8"/>
<text x="387.70" y="42.20" font-size="5.6" text-anchor="middle" fill="#111">0.0246</text>
<text x="475.6" y="26.3" font-size="6.8" text-anchor="middle" fill="#111" style="stroke-width:0.12px">PDX.003.204</text>
<text transform="translate(425.75,73.60) rotate(-90)" font-size="6.9" text-anchor="middle" fill="#111" style="stroke-width:0.12px">% CC3 positive cells</text>
<line x1="441.10" y1="35.00" x2="441.10" y2="109.20" stroke="#c4c4c4" stroke-width="0.8"/>
<line x1="441.10" y1="109.20" x2="508.50" y2="109.20" stroke="#c4c4c4" stroke-width="0.8"/>
<line x1="438.60" y1="109.20" x2="441.10" y2="109.20" stroke="#c4c4c4" stroke-width="0.8"/>
<text x="437.40" y="110.71" font-size="4.2" text-anchor="end" fill="#444" style="stroke:#444">0</text>
<line x1="438.60" y1="84.47" x2="441.10" y2="84.47" stroke="#c4c4c4" stroke-width="0.8"/>
<text x="437.40" y="85.98" font-size="4.2" text-anchor="end" fill="#444" style="stroke:#444">5</text>
<line x1="438.60" y1="59.73" x2="441.10" y2="59.73" stroke="#c4c4c4" stroke-width="0.8"/>
<text x="437.40" y="61.25" font-size="4.2" text-anchor="end" fill="#444" style="stroke:#444">10</text>
<line x1="438.60" y1="35.00" x2="441.10" y2="35.00" stroke="#c4c4c4" stroke-width="0.8"/>
<text x="437.40" y="36.51" font-size="4.2" text-anchor="end" fill="#444" style="stroke:#444">15</text>
<line x1="451.50" y1="109.20" x2="451.50" y2="111.70" stroke="#c4c4c4" stroke-width="0.8"/>
<text x="451.50" y="120.10" font-size="6.5" text-anchor="middle" fill="#111">C</text>
<line x1="467.50" y1="109.20" x2="467.50" y2="111.70" stroke="#c4c4c4" stroke-width="0.8"/>
<text x="467.50" y="120.10" font-size="6.5" text-anchor="middle" fill="#111">A</text>
<line x1="483.60" y1="109.20" x2="483.60" y2="111.70" stroke="#c4c4c4" stroke-width="0.8"/>
<text x="483.60" y="120.10" font-size="6.5" text-anchor="middle" fill="#111">T</text>
<line x1="499.80" y1="109.20" x2="499.80" y2="111.70" stroke="#c4c4c4" stroke-width="0.8"/>
<text x="499.80" y="120.10" font-size="6.5" text-anchor="middle" fill="#111">A+T</text>
<line x1="451.50" y1="80.01" x2="451.50" y2="83.48" stroke="#3a3a3a" stroke-width="0.8"/>
<line x1="451.50" y1="102.27" x2="451.50" y2="104.25" stroke="#3a3a3a" stroke-width="0.8"/>
<line x1="448.70" y1="104.25" x2="454.30" y2="104.25" stroke="#3a3a3a" stroke-width="0.8"/>
<line x1="448.70" y1="80.01" x2="454.30" y2="80.01" stroke="#3a3a3a" stroke-width="0.8"/>
<rect x="446.35" y="83.48" width="10.30" height="18.80" fill="#4a78b8" stroke="#1c3160" stroke-width="1.0"/>
<line x1="446.35" y1="94.36" x2="456.65" y2="94.36" stroke="#1c3160" stroke-width="1"/>
<line x1="467.50" y1="83.97" x2="467.50" y2="85.95" stroke="#3a3a3a" stroke-width="0.8"/>
<line x1="467.50" y1="104.75" x2="467.50" y2="106.73" stroke="#3a3a3a" stroke-width="0.8"/>
<line x1="464.70" y1="106.73" x2="470.30" y2="106.73" stroke="#3a3a3a" stroke-width="0.8"/>
<line x1="464.70" y1="83.97" x2="470.30" y2="83.97" stroke="#3a3a3a" stroke-width="0.8"/>
<rect x="462.35" y="85.95" width="10.30" height="18.80" fill="#f4932c" stroke="#7a4510" stroke-width="1.0"/>
<line x1="462.35" y1="100.30" x2="472.65" y2="100.30" stroke="#7a4510" stroke-width="1"/>
<line x1="483.60" y1="102.27" x2="483.60" y2="102.77" stroke="#3a3a3a" stroke-width="0.8"/>
<line x1="483.60" y1="106.23" x2="483.60" y2="106.73" stroke="#3a3a3a" stroke-width="0.8"/>
<line x1="480.80" y1="106.73" x2="486.40" y2="106.73" stroke="#3a3a3a" stroke-width="0.8"/>
<line x1="480.80" y1="102.27" x2="486.40" y2="102.27" stroke="#3a3a3a" stroke-width="0.8"/>
<rect x="478.45" y="102.77" width="10.30" height="3.46" fill="#4ea34a" stroke="#1d501d" stroke-width="1.0"/>
<line x1="478.45" y1="105.24" x2="488.75" y2="105.24" stroke="#1d501d" stroke-width="1"/>
<line x1="499.80" y1="74.57" x2="499.80" y2="62.21" stroke="#111" stroke-width="0.9"/>
<line x1="494.30" y1="68.14" x2="505.30" y2="68.14" stroke="#111" stroke-width="1.1"/>
<line x1="497.00" y1="74.57" x2="502.60" y2="74.57" stroke="#111" stroke-width="0.9"/>
<line x1="497.00" y1="62.21" x2="502.60" y2="62.21" stroke="#111" stroke-width="0.9"/>
<polyline points="483.60,97.00 483.60,53.50 499.80,53.50 499.80,57.70" fill="none" stroke="#333" stroke-width="0.8"/>
<text x="491.70" y="49.90" font-size="5.6" text-anchor="middle" fill="#111">&lt;0.0001</text>
<text x="55.6" y="136.8" font-size="6.8" text-anchor="middle" fill="#111" style="stroke-width:0.12px">PDX.003.213</text>
<text transform="translate(5.32,190.45) rotate(-90)" font-size="6.39" text-anchor="middle" fill="#111" style="stroke-width:0.12px">pChk1 <tspan font-style="italic">H</tspan>-score</text>
<line x1="21.00" y1="152.50" x2="21.00" y2="227.00" stroke="#333" stroke-width="0.8"/>
<line x1="21.00" y1="227.00" x2="87.50" y2="227.00" stroke="#333" stroke-width="0.8"/>
<line x1="18.50" y1="227.00" x2="21.00" y2="227.00" stroke="#333" stroke-width="0.8"/>
<text x="17.30" y="228.91" font-size="5.3" text-anchor="end" fill="#222" style="stroke:#222">0</text>
<line x1="18.50" y1="212.10" x2="21.00" y2="212.10" stroke="#333" stroke-width="0.8"/>
<text x="17.30" y="214.01" font-size="5.3" text-anchor="end" fill="#222" style="stroke:#222">50</text>
<line x1="18.50" y1="197.20" x2="21.00" y2="197.20" stroke="#333" stroke-width="0.8"/>
<text x="17.30" y="199.11" font-size="5.3" text-anchor="end" fill="#222" style="stroke:#222">100</text>
<line x1="18.50" y1="182.30" x2="21.00" y2="182.30" stroke="#333" stroke-width="0.8"/>
<text x="17.30" y="184.21" font-size="5.3" text-anchor="end" fill="#222" style="stroke:#222">150</text>
<line x1="18.50" y1="167.40" x2="21.00" y2="167.40" stroke="#333" stroke-width="0.8"/>
<text x="17.30" y="169.31" font-size="5.3" text-anchor="end" fill="#222" style="stroke:#222">200</text>
<line x1="18.50" y1="152.50" x2="21.00" y2="152.50" stroke="#333" stroke-width="0.8"/>
<text x="17.30" y="154.41" font-size="5.3" text-anchor="end" fill="#222" style="stroke:#222">250</text>
<line x1="31.40" y1="227.00" x2="31.40" y2="229.50" stroke="#333" stroke-width="0.8"/>
<text x="31.40" y="238.20" font-size="6.5" text-anchor="middle" fill="#111">C</text>
<line x1="47.60" y1="227.00" x2="47.60" y2="229.50" stroke="#333" stroke-width="0.8"/>
<text x="47.60" y="238.20" font-size="6.5" text-anchor="middle" fill="#111">A</text>
<line x1="63.80" y1="227.00" x2="63.80" y2="229.50" stroke="#333" stroke-width="0.8"/>
<text x="63.80" y="238.20" font-size="6.5" text-anchor="middle" fill="#111">T</text>
<line x1="79.80" y1="227.00" x2="79.80" y2="229.50" stroke="#333" stroke-width="0.8"/>
<text x="79.80" y="238.20" font-size="6.5" text-anchor="middle" fill="#111">A+T</text>
<line x1="31.40" y1="207.63" x2="31.40" y2="212.10" stroke="#3a3a3a" stroke-width="0.8"/>
<line x1="31.40" y1="221.04" x2="31.40" y2="222.53" stroke="#3a3a3a" stroke-width="0.8"/>
<line x1="28.60" y1="222.53" x2="34.20" y2="222.53" stroke="#3a3a3a" stroke-width="0.8"/>
<line x1="28.60" y1="207.63" x2="34.20" y2="207.63" stroke="#3a3a3a" stroke-width="0.8"/>
<rect x="26.25" y="212.10" width="10.30" height="8.94" fill="#4a78b8" stroke="#1c3160" stroke-width="1.0"/>
<line x1="26.25" y1="219.55" x2="36.55" y2="219.55" stroke="#1c3160" stroke-width="1"/>
<line x1="47.60" y1="185.88" x2="47.60" y2="192.73" stroke="#3a3a3a" stroke-width="0.8"/>
<line x1="47.60" y1="218.06" x2="47.60" y2="218.66" stroke="#3a3a3a" stroke-width="0.8"/>
<line x1="44.80" y1="218.66" x2="50.40" y2="218.66" stroke="#3a3a3a" stroke-width="0.8"/>
<line x1="44.80" y1="185.88" x2="50.40" y2="185.88" stroke="#3a3a3a" stroke-width="0.8"/>
<rect x="42.45" y="192.73" width="10.30" height="25.33" fill="#f4932c" stroke="#7a4510" stroke-width="1.0"/>
<line x1="42.45" y1="208.23" x2="52.75" y2="208.23" stroke="#7a4510" stroke-width="1"/>
<line x1="63.80" y1="168.29" x2="63.80" y2="175.45" stroke="#3a3a3a" stroke-width="0.8"/>
<line x1="63.80" y1="224.62" x2="63.80" y2="227.00" stroke="#3a3a3a" stroke-width="0.8"/>
<line x1="61.00" y1="227.00" x2="66.60" y2="227.00" stroke="#3a3a3a" stroke-width="0.8"/>
<line x1="61.00" y1="168.29" x2="66.60" y2="168.29" stroke="#3a3a3a" stroke-width="0.8"/>
<rect x="58.65" y="175.45" width="10.30" height="49.17" fill="#4ea34a" stroke="#1d501d" stroke-width="1.0"/>
<line x1="58.65" y1="206.14" x2="68.95" y2="206.14" stroke="#1d501d" stroke-width="1"/>
<line x1="79.80" y1="159.95" x2="79.80" y2="181.70" stroke="#3a3a3a" stroke-width="0.8"/>
<line x1="79.80" y1="219.55" x2="79.80" y2="223.42" stroke="#3a3a3a" stroke-width="0.8"/>
<line x1="77.00" y1="223.42" x2="82.60" y2="223.42" stroke="#3a3a3a" stroke-width="0.8"/>
<line x1="77.00" y1="159.95" x2="82.60" y2="159.95" stroke="#3a3a3a" stroke-width="0.8"/>
<rect x="74.65" y="181.70" width="10.30" height="37.85" fill="#e34c5a" stroke="#7e1f2c" stroke-width="1.0"/>
<line x1="74.65" y1="205.25" x2="84.95" y2="205.25" stroke="#7e1f2c" stroke-width="1"/>
<polyline points="63.80,157.50 63.80,152.00 79.80,152.00 79.80,155.00" fill="none" stroke="#333" stroke-width="0.8"/>
<text x="71.80" y="148.40" font-size="5.6" text-anchor="middle" fill="#111">0.0854</text>
<text x="157.5" y="133.8" font-size="6.8" text-anchor="middle" fill="#111" style="stroke-width:0.12px">PDX.003.213</text>
<text transform="translate(107.02,190.45) rotate(-90)" font-size="6.39" text-anchor="middle" fill="#111" style="stroke-width:0.12px">pKap1 <tspan font-style="italic">H</tspan>-score</text>
<line x1="123.30" y1="152.50" x2="123.30" y2="226.80" stroke="#333" stroke-width="0.8"/>
<line x1="123.30" y1="226.80" x2="192.50" y2="226.80" stroke="#333" stroke-width="0.8"/>
<line x1="120.80" y1="226.80" x2="123.30" y2="226.80" stroke="#333" stroke-width="0.8"/>
<text x="119.60" y="228.71" font-size="5.3" text-anchor="end" fill="#222" style="stroke:#222">0</text>
<line x1="120.80" y1="208.23" x2="123.30" y2="208.23" stroke="#333" stroke-width="0.8"/>
<text x="119.60" y="210.13" font-size="5.3" text-anchor="end" fill="#222" style="stroke:#222">50</text>
<line x1="120.80" y1="189.65" x2="123.30" y2="189.65" stroke="#333" stroke-width="0.8"/>
<text x="119.60" y="191.56" font-size="5.3" text-anchor="end" fill="#222" style="stroke:#222">100</text>
<line x1="120.80" y1="171.07" x2="123.30" y2="171.07" stroke="#333" stroke-width="0.8"/>
<text x="119.60" y="172.98" font-size="5.3" text-anchor="end" fill="#222" style="stroke:#222">150</text>
<line x1="120.80" y1="152.50" x2="123.30" y2="152.50" stroke="#333" stroke-width="0.8"/>
<text x="119.60" y="154.41" font-size="5.3" text-anchor="end" fill="#222" style="stroke:#222">200</text>
<line x1="133.60" y1="226.80" x2="133.60" y2="229.30" stroke="#333" stroke-width="0.8"/>
<text x="133.60" y="237.70" font-size="6.5" text-anchor="middle" fill="#111">C</text>
<line x1="149.60" y1="226.80" x2="149.60" y2="229.30" stroke="#333" stroke-width="0.8"/>
<text x="149.60" y="237.70" font-size="6.5" text-anchor="middle" fill="#111">A</text>
<line x1="165.40" y1="226.80" x2="165.40" y2="229.30" stroke="#333" stroke-width="0.8"/>
<text x="165.40" y="237.70" font-size="6.5" text-anchor="middle" fill="#111">T</text>
<line x1="181.40" y1="226.80" x2="181.40" y2="229.30" stroke="#333" stroke-width="0.8"/>
<text x="181.40" y="237.70" font-size="6.5" text-anchor="middle" fill="#111">A+T</text>
<line x1="133.60" y1="210.83" x2="133.60" y2="211.20" stroke="#3a3a3a" stroke-width="0.8"/>
<line x1="133.60" y1="213.80" x2="133.60" y2="216.40" stroke="#3a3a3a" stroke-width="0.8"/>
<line x1="130.80" y1="216.40" x2="136.40" y2="216.40" stroke="#3a3a3a" stroke-width="0.8"/>
<line x1="130.80" y1="210.83" x2="136.40" y2="210.83" stroke="#3a3a3a" stroke-width="0.8"/>
<rect x="128.45" y="211.20" width="10.30" height="2.60" fill="#4a78b8" stroke="#1c3160" stroke-width="1.0"/>
<line x1="128.45" y1="212.68" x2="138.75" y2="212.68" stroke="#1c3160" stroke-width="1"/>
<line x1="149.60" y1="161.04" x2="149.60" y2="177.39" stroke="#3a3a3a" stroke-width="0.8"/>
<line x1="149.60" y1="204.14" x2="149.60" y2="213.05" stroke="#3a3a3a" stroke-width="0.8"/>
<line x1="146.80" y1="213.05" x2="152.40" y2="213.05" stroke="#3a3a3a" stroke-width="0.8"/>
<line x1="146.80" y1="161.04" x2="152.40" y2="161.04" stroke="#3a3a3a" stroke-width="0.8"/>
<rect x="144.45" y="177.39" width="10.30" height="26.75" fill="#f4932c" stroke="#7a4510" stroke-width="1.0"/>
<line x1="144.45" y1="193.37" x2="154.75" y2="193.37" stroke="#7a4510" stroke-width="1"/>
<line x1="165.40" y1="177.39" x2="165.40" y2="182.59" stroke="#3a3a3a" stroke-width="0.8"/>
<line x1="165.40" y1="203.40" x2="165.40" y2="206.37" stroke="#3a3a3a" stroke-width="0.8"/>
<line x1="162.60" y1="206.37" x2="168.20" y2="206.37" stroke="#3a3a3a" stroke-width="0.8"/>
<line x1="162.60" y1="177.39" x2="168.20" y2="177.39" stroke="#3a3a3a" stroke-width="0.8"/>
<rect x="160.25" y="182.59" width="10.30" height="20.80" fill="#4ea34a" stroke="#1d501d" stroke-width="1.0"/>
<line x1="160.25" y1="195.22" x2="170.55" y2="195.22" stroke="#1d501d" stroke-width="1"/>
<line x1="181.40" y1="164.76" x2="181.40" y2="165.50" stroke="#3a3a3a" stroke-width="0.8"/>
<line x1="181.40" y1="178.50" x2="181.40" y2="181.11" stroke="#3a3a3a" stroke-width="0.8"/>
<line x1="178.60" y1="181.11" x2="184.20" y2="181.11" stroke="#3a3a3a" stroke-width="0.8"/>
<line x1="178.60" y1="164.76" x2="184.20" y2="164.76" stroke="#3a3a3a" stroke-width="0.8"/>
<rect x="176.25" y="165.50" width="10.30" height="13.00" fill="#e34c5a" stroke="#7e1f2c" stroke-width="1.0"/>
<line x1="176.25" y1="172.93" x2="186.55" y2="172.93" stroke="#7e1f2c" stroke-width="1"/>
<polyline points="165.40,167.50 165.40,152.50 181.40,152.50 181.40,160.00" fill="none" stroke="#333" stroke-width="0.8"/>
<text x="173.40" y="148.90" font-size="5.6" text-anchor="middle" fill="#111">0.0080</text>
<text x="268.8" y="138" font-size="6.8" text-anchor="middle" fill="#111" style="stroke-width:0.12px">PDX.003.213</text>
<text transform="translate(218.90,190.75) rotate(-90)" font-size="6.7" text-anchor="middle" fill="#111" style="stroke-width:0.12px">% γH2AX positive cells</text>
<line x1="233.30" y1="152.50" x2="233.30" y2="226.80" stroke="#c4c4c4" stroke-width="0.8"/>
<line x1="233.30" y1="226.80" x2="302.50" y2="226.80" stroke="#c4c4c4" stroke-width="0.8"/>
<line x1="230.80" y1="226.80" x2="233.30" y2="226.80" stroke="#c4c4c4" stroke-width="0.8"/>
<text x="229.60" y="228.38" font-size="4.4" text-anchor="end" fill="#444" style="stroke:#444">0</text>
<line x1="230.80" y1="211.94" x2="233.30" y2="211.94" stroke="#c4c4c4" stroke-width="0.8"/>
<text x="229.60" y="213.52" font-size="4.4" text-anchor="end" fill="#444" style="stroke:#444">20</text>
<line x1="230.80" y1="197.08" x2="233.30" y2="197.08" stroke="#c4c4c4" stroke-width="0.8"/>
<text x="229.60" y="198.66" font-size="4.4" text-anchor="end" fill="#444" style="stroke:#444">40</text>
<line x1="230.80" y1="182.22" x2="233.30" y2="182.22" stroke="#c4c4c4" stroke-width="0.8"/>
<text x="229.60" y="183.80" font-size="4.4" text-anchor="end" fill="#444" style="stroke:#444">60</text>
<line x1="230.80" y1="167.36" x2="233.30" y2="167.36" stroke="#c4c4c4" stroke-width="0.8"/>
<text x="229.60" y="168.94" font-size="4.4" text-anchor="end" fill="#444" style="stroke:#444">80</text>
<line x1="230.80" y1="152.50" x2="233.30" y2="152.50" stroke="#c4c4c4" stroke-width="0.8"/>
<text x="229.60" y="154.08" font-size="4.4" text-anchor="end" fill="#444" style="stroke:#444">100</text>
<line x1="244.40" y1="226.80" x2="244.40" y2="229.30" stroke="#c4c4c4" stroke-width="0.8"/>
<text x="244.40" y="237.10" font-size="6.5" text-anchor="middle" fill="#111">C</text>
<line x1="260.30" y1="226.80" x2="260.30" y2="229.30" stroke="#c4c4c4" stroke-width="0.8"/>
<text x="260.30" y="237.10" font-size="6.5" text-anchor="middle" fill="#111">A</text>
<line x1="276.40" y1="226.80" x2="276.40" y2="229.30" stroke="#c4c4c4" stroke-width="0.8"/>
<text x="276.40" y="237.10" font-size="6.5" text-anchor="middle" fill="#111">T</text>
<line x1="292.90" y1="226.80" x2="292.90" y2="229.30" stroke="#c4c4c4" stroke-width="0.8"/>
<text x="292.90" y="237.10" font-size="6.5" text-anchor="middle" fill="#111">A+T</text>
<line x1="244.40" y1="218.63" x2="244.40" y2="219.37" stroke="#3a3a3a" stroke-width="0.8"/>
<line x1="244.40" y1="223.83" x2="244.40" y2="224.57" stroke="#3a3a3a" stroke-width="0.8"/>
<line x1="241.60" y1="224.57" x2="247.20" y2="224.57" stroke="#3a3a3a" stroke-width="0.8"/>
<line x1="241.60" y1="218.63" x2="247.20" y2="218.63" stroke="#3a3a3a" stroke-width="0.8"/>
<rect x="239.25" y="219.37" width="10.30" height="4.46" fill="#4a78b8" stroke="#1c3160" stroke-width="1.0"/>
<line x1="239.25" y1="221.60" x2="249.55" y2="221.60" stroke="#1c3160" stroke-width="1"/>
<line x1="260.30" y1="173.30" x2="260.30" y2="177.76" stroke="#3a3a3a" stroke-width="0.8"/>
<line x1="260.30" y1="198.57" x2="260.30" y2="208.23" stroke="#3a3a3a" stroke-width="0.8"/>
<line x1="257.50" y1="208.23" x2="263.10" y2="208.23" stroke="#3a3a3a" stroke-width="0.8"/>
<line x1="257.50" y1="173.30" x2="263.10" y2="173.30" stroke="#3a3a3a" stroke-width="0.8"/>
<rect x="255.15" y="177.76" width="10.30" height="20.80" fill="#f4932c" stroke="#7a4510" stroke-width="1.0"/>
<line x1="255.15" y1="181.48" x2="265.45" y2="181.48" stroke="#7a4510" stroke-width="1"/>
<line x1="276.40" y1="189.65" x2="276.40" y2="191.88" stroke="#3a3a3a" stroke-width="0.8"/>
<line x1="276.40" y1="206.74" x2="276.40" y2="210.45" stroke="#3a3a3a" stroke-width="0.8"/>
<line x1="273.60" y1="210.45" x2="279.20" y2="210.45" stroke="#3a3a3a" stroke-width="0.8"/>
<line x1="273.60" y1="189.65" x2="279.20" y2="189.65" stroke="#3a3a3a" stroke-width="0.8"/>
<rect x="271.25" y="191.88" width="10.30" height="14.86" fill="#4ea34a" stroke="#1d501d" stroke-width="1.0"/>
<line x1="271.25" y1="200.80" x2="281.55" y2="200.80" stroke="#1d501d" stroke-width="1"/>
<line x1="292.90" y1="165.13" x2="292.90" y2="165.87" stroke="#3a3a3a" stroke-width="0.8"/>
<line x1="292.90" y1="179.99" x2="292.90" y2="186.68" stroke="#3a3a3a" stroke-width="0.8"/>
<line x1="290.10" y1="186.68" x2="295.70" y2="186.68" stroke="#3a3a3a" stroke-width="0.8"/>
<line x1="290.10" y1="165.13" x2="295.70" y2="165.13" stroke="#3a3a3a" stroke-width="0.8"/>
<rect x="287.75" y="165.87" width="10.30" height="14.12" fill="#e34c5a" stroke="#7e1f2c" stroke-width="1.0"/>
<line x1="287.75" y1="172.56" x2="298.05" y2="172.56" stroke="#7e1f2c" stroke-width="1"/>
<polyline points="276.40,185.50 276.40,155.80 292.90,155.80 292.90,160.00" fill="none" stroke="#333" stroke-width="0.8"/>
<text x="284.65" y="152.20" font-size="5.6" text-anchor="middle" fill="#111">0.0010</text>
<text x="373.8" y="134.5" font-size="6.8" text-anchor="middle" fill="#111" style="stroke-width:0.12px">PDX.003.213</text>
<text transform="translate(323.35,189.80) rotate(-90)" font-size="6.9" text-anchor="middle" fill="#111" style="stroke-width:0.12px">% Ki67 positive cells</text>
<line x1="339.30" y1="151.30" x2="339.30" y2="225.50" stroke="#c4c4c4" stroke-width="0.8"/>
<line x1="339.30" y1="225.50" x2="405.00" y2="225.50" stroke="#c4c4c4" stroke-width="0.8"/>
<line x1="336.80" y1="225.50" x2="339.30" y2="225.50" stroke="#c4c4c4" stroke-width="0.8"/>
<text x="335.60" y="227.12" font-size="4.5" text-anchor="end" fill="#444" style="stroke:#444">0</text>
<line x1="336.80" y1="210.66" x2="339.30" y2="210.66" stroke="#c4c4c4" stroke-width="0.8"/>
<text x="335.60" y="212.28" font-size="4.5" text-anchor="end" fill="#444" style="stroke:#444">20</text>
<line x1="336.80" y1="195.82" x2="339.30" y2="195.82" stroke="#c4c4c4" stroke-width="0.8"/>
<text x="335.60" y="197.44" font-size="4.5" text-anchor="end" fill="#444" style="stroke:#444">40</text>
<line x1="336.80" y1="180.98" x2="339.30" y2="180.98" stroke="#c4c4c4" stroke-width="0.8"/>
<text x="335.60" y="182.60" font-size="4.5" text-anchor="end" fill="#444" style="stroke:#444">60</text>
<line x1="336.80" y1="166.14" x2="339.30" y2="166.14" stroke="#c4c4c4" stroke-width="0.8"/>
<text x="335.60" y="167.76" font-size="4.5" text-anchor="end" fill="#444" style="stroke:#444">80</text>
<line x1="336.80" y1="151.30" x2="339.30" y2="151.30" stroke="#c4c4c4" stroke-width="0.8"/>
<text x="335.60" y="152.92" font-size="4.5" text-anchor="end" fill="#444" style="stroke:#444">100</text>
<line x1="349.80" y1="225.50" x2="349.80" y2="228.00" stroke="#c4c4c4" stroke-width="0.8"/>
<text x="349.80" y="235.70" font-size="6.5" text-anchor="middle" fill="#111">C</text>
<line x1="365.70" y1="225.50" x2="365.70" y2="228.00" stroke="#c4c4c4" stroke-width="0.8"/>
<text x="365.70" y="235.70" font-size="6.5" text-anchor="middle" fill="#111">A</text>
<line x1="381.80" y1="225.50" x2="381.80" y2="228.00" stroke="#c4c4c4" stroke-width="0.8"/>
<text x="381.80" y="235.70" font-size="6.5" text-anchor="middle" fill="#111">T</text>
<line x1="398.00" y1="225.50" x2="398.00" y2="228.00" stroke="#c4c4c4" stroke-width="0.8"/>
<text x="398.00" y="235.70" font-size="6.5" text-anchor="middle" fill="#111">A+T</text>
<line x1="349.80" y1="181.72" x2="349.80" y2="184.69" stroke="#3a3a3a" stroke-width="0.8"/>
<line x1="349.80" y1="192.85" x2="349.80" y2="194.34" stroke="#3a3a3a" stroke-width="0.8"/>
<line x1="347.00" y1="194.34" x2="352.60" y2="194.34" stroke="#3a3a3a" stroke-width="0.8"/>
<line x1="347.00" y1="181.72" x2="352.60" y2="181.72" stroke="#3a3a3a" stroke-width="0.8"/>
<rect x="344.65" y="184.69" width="10.30" height="8.16" fill="#4a78b8" stroke="#1c3160" stroke-width="1.0"/>
<line x1="344.65" y1="190.63" x2="354.95" y2="190.63" stroke="#1c3160" stroke-width="1"/>
<line x1="365.70" y1="180.98" x2="365.70" y2="182.46" stroke="#3a3a3a" stroke-width="0.8"/>
<line x1="365.70" y1="195.45" x2="365.70" y2="195.82" stroke="#3a3a3a" stroke-width="0.8"/>
<line x1="362.90" y1="195.82" x2="368.50" y2="195.82" stroke="#3a3a3a" stroke-width="0.8"/>
<line x1="362.90" y1="180.98" x2="368.50" y2="180.98" stroke="#3a3a3a" stroke-width="0.8"/>
<rect x="360.55" y="182.46" width="10.30" height="12.99" fill="#f4932c" stroke="#7a4510" stroke-width="1.0"/>
<line x1="360.55" y1="192.85" x2="370.85" y2="192.85" stroke="#7a4510" stroke-width="1"/>
<line x1="381.80" y1="161.69" x2="381.80" y2="162.43" stroke="#3a3a3a" stroke-width="0.8"/>
<line x1="381.80" y1="169.85" x2="381.80" y2="172.82" stroke="#3a3a3a" stroke-width="0.8"/>
<line x1="379.00" y1="172.82" x2="384.60" y2="172.82" stroke="#3a3a3a" stroke-width="0.8"/>
<line x1="379.00" y1="161.69" x2="384.60" y2="161.69" stroke="#3a3a3a" stroke-width="0.8"/>
<rect x="376.65" y="162.43" width="10.30" height="7.42" fill="#4ea34a" stroke="#1d501d" stroke-width="1.0"/>
<line x1="376.65" y1="166.14" x2="386.95" y2="166.14" stroke="#1d501d" stroke-width="1"/>
<line x1="398.00" y1="169.11" x2="398.00" y2="171.33" stroke="#3a3a3a" stroke-width="0.8"/>
<line x1="398.00" y1="190.63" x2="398.00" y2="197.30" stroke="#3a3a3a" stroke-width="0.8"/>
<line x1="395.20" y1="197.30" x2="400.80" y2="197.30" stroke="#3a3a3a" stroke-width="0.8"/>
<line x1="395.20" y1="169.11" x2="400.80" y2="169.11" stroke="#3a3a3a" stroke-width="0.8"/>
<rect x="392.85" y="171.33" width="10.30" height="19.29" fill="#e34c5a" stroke="#7e1f2c" stroke-width="1.0"/>
<line x1="392.85" y1="173.56" x2="403.15" y2="173.56" stroke="#7e1f2c" stroke-width="1"/>
<polyline points="381.80,160.00 381.80,152.00 398.00,152.00 398.00,164.50" fill="none" stroke="#333" stroke-width="0.8"/>
<text x="389.90" y="148.40" font-size="5.6" text-anchor="middle" fill="#111">0.0328</text>
<text x="478.5" y="139.8" font-size="6.8" text-anchor="middle" fill="#111" style="stroke-width:0.12px">PDX.003.213</text>
<text transform="translate(429.51,187.25) rotate(-90)" font-size="6.77" text-anchor="middle" fill="#111" style="stroke-width:0.12px">% CC3 positive cells</text>
<line x1="444.30" y1="148.90" x2="444.30" y2="223.20" stroke="#c4c4c4" stroke-width="0.8"/>
<line x1="444.30" y1="223.20" x2="511.90" y2="223.20" stroke="#c4c4c4" stroke-width="0.8"/>
<line x1="441.80" y1="223.20" x2="444.30" y2="223.20" stroke="#c4c4c4" stroke-width="0.8"/>
<text x="440.60" y="224.71" font-size="4.2" text-anchor="end" fill="#444" style="stroke:#444">0</text>
<line x1="441.80" y1="208.34" x2="444.30" y2="208.34" stroke="#c4c4c4" stroke-width="0.8"/>
<text x="440.60" y="209.85" font-size="4.2" text-anchor="end" fill="#444" style="stroke:#444">2</text>
<line x1="441.80" y1="193.48" x2="444.30" y2="193.48" stroke="#c4c4c4" stroke-width="0.8"/>
<text x="440.60" y="194.99" font-size="4.2" text-anchor="end" fill="#444" style="stroke:#444">4</text>
<line x1="441.80" y1="178.62" x2="444.30" y2="178.62" stroke="#c4c4c4" stroke-width="0.8"/>
<text x="440.60" y="180.13" font-size="4.2" text-anchor="end" fill="#444" style="stroke:#444">6</text>
<line x1="441.80" y1="163.76" x2="444.30" y2="163.76" stroke="#c4c4c4" stroke-width="0.8"/>
<text x="440.60" y="165.27" font-size="4.2" text-anchor="end" fill="#444" style="stroke:#444">8</text>
<line x1="441.80" y1="148.90" x2="444.30" y2="148.90" stroke="#c4c4c4" stroke-width="0.8"/>
<text x="440.60" y="150.41" font-size="4.2" text-anchor="end" fill="#444" style="stroke:#444">10</text>
<line x1="454.20" y1="223.20" x2="454.20" y2="225.70" stroke="#c4c4c4" stroke-width="0.8"/>
<text x="454.20" y="233.40" font-size="6.5" text-anchor="middle" fill="#111">C</text>
<line x1="470.50" y1="223.20" x2="470.50" y2="225.70" stroke="#c4c4c4" stroke-width="0.8"/>
<text x="470.50" y="233.40" font-size="6.5" text-anchor="middle" fill="#111">A</text>
<line x1="486.40" y1="223.20" x2="486.40" y2="225.70" stroke="#c4c4c4" stroke-width="0.8"/>
<text x="486.40" y="233.40" font-size="6.5" text-anchor="middle" fill="#111">T</text>
<line x1="502.50" y1="223.20" x2="502.50" y2="225.70" stroke="#c4c4c4" stroke-width="0.8"/>
<text x="502.50" y="233.40" font-size="6.5" text-anchor="middle" fill="#111">A+T</text>
<line x1="454.20" y1="174.91" x2="454.20" y2="181.59" stroke="#3a3a3a" stroke-width="0.8"/>
<line x1="454.20" y1="217.26" x2="454.20" y2="222.46" stroke="#3a3a3a" stroke-width="0.8"/>
<line x1="451.40" y1="222.46" x2="457.00" y2="222.46" stroke="#3a3a3a" stroke-width="0.8"/>
<line x1="451.40" y1="174.91" x2="457.00" y2="174.91" stroke="#3a3a3a" stroke-width="0.8"/>
<rect x="449.05" y="181.59" width="10.30" height="35.66" fill="#4a78b8" stroke="#1c3160" stroke-width="1.0"/>
<line x1="449.05" y1="209.08" x2="459.35" y2="209.08" stroke="#1c3160" stroke-width="1"/>
<line x1="470.50" y1="180.85" x2="470.50" y2="197.19" stroke="#3a3a3a" stroke-width="0.8"/>
<line x1="470.50" y1="216.51" x2="470.50" y2="217.26" stroke="#3a3a3a" stroke-width="0.8"/>
<line x1="467.70" y1="217.26" x2="473.30" y2="217.26" stroke="#3a3a3a" stroke-width="0.8"/>
<line x1="467.70" y1="180.85" x2="473.30" y2="180.85" stroke="#3a3a3a" stroke-width="0.8"/>
<rect x="465.35" y="197.19" width="10.30" height="19.32" fill="#f4932c" stroke="#7a4510" stroke-width="1.0"/>
<line x1="465.35" y1="215.77" x2="475.65" y2="215.77" stroke="#7a4510" stroke-width="1"/>
<line x1="486.40" y1="177.13" x2="486.40" y2="180.11" stroke="#3a3a3a" stroke-width="0.8"/>
<line x1="486.40" y1="217.26" x2="486.40" y2="219.48" stroke="#3a3a3a" stroke-width="0.8"/>
<line x1="483.60" y1="219.48" x2="489.20" y2="219.48" stroke="#3a3a3a" stroke-width="0.8"/>
<line x1="483.60" y1="177.13" x2="489.20" y2="177.13" stroke="#3a3a3a" stroke-width="0.8"/>
<rect x="481.25" y="180.11" width="10.30" height="37.15" fill="#4ea34a" stroke="#1d501d" stroke-width="1.0"/>
<line x1="481.25" y1="199.42" x2="491.55" y2="199.42" stroke="#1d501d" stroke-width="1"/>
<line x1="502.50" y1="200.17" x2="502.50" y2="202.40" stroke="#3a3a3a" stroke-width="0.8"/>
<line x1="502.50" y1="220.97" x2="502.50" y2="221.71" stroke="#3a3a3a" stroke-width="0.8"/>
<line x1="499.70" y1="221.71" x2="505.30" y2="221.71" stroke="#3a3a3a" stroke-width="0.8"/>
<line x1="499.70" y1="200.17" x2="505.30" y2="200.17" stroke="#3a3a3a" stroke-width="0.8"/>
<rect x="497.35" y="202.40" width="10.30" height="18.57" fill="#e34c5a" stroke="#7e1f2c" stroke-width="1.0"/>
<line x1="497.35" y1="215.77" x2="507.65" y2="215.77" stroke="#7e1f2c" stroke-width="1"/>
<polyline points="486.40,172.60 486.40,165.70 502.50,165.70 502.50,174.20" fill="none" stroke="#333" stroke-width="0.8"/>
<text x="494.45" y="162.10" font-size="5.6" text-anchor="middle" fill="#111">0.2129</text>
<text x="57.3" y="275" font-size="6.8" text-anchor="middle" fill="#111" style="stroke-width:0.12px">PDX.003.204</text>
<text transform="translate(5.70,321.75) rotate(-90)" font-size="5.6" font-weight="bold" text-anchor="middle" fill="#111" style="stroke-width:0.2px">Aurora-A</text>
<line x1="21.30" y1="320.65" x2="95.00" y2="320.65" stroke="#7a7070" stroke-width="1.1" stroke-dasharray="0.7,1.3"/>
<line x1="21.30" y1="284.50" x2="21.30" y2="356.80" stroke="#aaa" stroke-width="0.8"/>
<line x1="21.30" y1="356.80" x2="95.00" y2="356.80" stroke="#aaa" stroke-width="0.8"/>
<line x1="18.80" y1="356.80" x2="21.30" y2="356.80" stroke="#aaa" stroke-width="0.8"/>
<text x="17.60" y="358.56" font-size="4.9" font-weight="bold" text-anchor="end" fill="#333" style="stroke:#333">−1.0</text>
<line x1="18.80" y1="338.73" x2="21.30" y2="338.73" stroke="#aaa" stroke-width="0.8"/>
<text x="17.60" y="340.49" font-size="4.9" font-weight="bold" text-anchor="end" fill="#333" style="stroke:#333">−0.5</text>
<line x1="18.80" y1="320.65" x2="21.30" y2="320.65" stroke="#aaa" stroke-width="0.8"/>
<text x="17.60" y="322.41" font-size="4.9" font-weight="bold" text-anchor="end" fill="#333" style="stroke:#333">0.0</text>
<line x1="18.80" y1="302.57" x2="21.30" y2="302.57" stroke="#aaa" stroke-width="0.8"/>
<text x="17.60" y="304.34" font-size="4.9" font-weight="bold" text-anchor="end" fill="#333" style="stroke:#333">0.5</text>
<line x1="18.80" y1="284.50" x2="21.30" y2="284.50" stroke="#aaa" stroke-width="0.8"/>
<text x="17.60" y="286.26" font-size="4.9" font-weight="bold" text-anchor="end" fill="#333" style="stroke:#333">1.0</text>
<line x1="32.10" y1="356.80" x2="32.10" y2="359.30" stroke="#aaa" stroke-width="0.8"/>
<text x="32.10" y="367.70" font-size="6.5" text-anchor="middle" fill="#111">C</text>
<line x1="49.20" y1="356.80" x2="49.20" y2="359.30" stroke="#aaa" stroke-width="0.8"/>
<text x="49.20" y="367.70" font-size="6.5" text-anchor="middle" fill="#111">A</text>
<line x1="66.30" y1="356.80" x2="66.30" y2="359.30" stroke="#aaa" stroke-width="0.8"/>
<text x="66.30" y="367.70" font-size="6.5" text-anchor="middle" fill="#111">T</text>
<line x1="83.00" y1="356.80" x2="83.00" y2="359.30" stroke="#aaa" stroke-width="0.8"/>
<text x="83.00" y="367.70" font-size="6.5" text-anchor="middle" fill="#111">A+T</text>
<line x1="32.10" y1="315.95" x2="32.10" y2="319.20" stroke="#777" stroke-width="0.8"/>
<line x1="32.10" y1="327.88" x2="32.10" y2="330.77" stroke="#777" stroke-width="0.8"/>
<line x1="29.30" y1="330.77" x2="34.90" y2="330.77" stroke="#777" stroke-width="0.8"/>
<line x1="29.30" y1="315.95" x2="34.90" y2="315.95" stroke="#777" stroke-width="0.8"/>
<rect x="26.95" y="319.20" width="10.30" height="8.68" fill="#4a78b8" stroke="#1c3160" stroke-width="1.0"/>
<line x1="26.95" y1="324.26" x2="37.25" y2="324.26" stroke="#1c3160" stroke-width="1"/>
<line x1="49.20" y1="304.38" x2="49.20" y2="306.91" stroke="#777" stroke-width="0.8"/>
<line x1="49.20" y1="324.99" x2="49.20" y2="327.16" stroke="#777" stroke-width="0.8"/>
<line x1="46.40" y1="327.16" x2="52.00" y2="327.16" stroke="#777" stroke-width="0.8"/>
<line x1="46.40" y1="304.38" x2="52.00" y2="304.38" stroke="#777" stroke-width="0.8"/>
<rect x="44.05" y="306.91" width="10.30" height="18.07" fill="#f4932c" stroke="#7a4510" stroke-width="1.0"/>
<line x1="44.05" y1="314.50" x2="54.35" y2="314.50" stroke="#7a4510" stroke-width="1"/>
<line x1="66.30" y1="295.35" x2="66.30" y2="298.24" stroke="#777" stroke-width="0.8"/>
<line x1="66.30" y1="311.97" x2="66.30" y2="317.04" stroke="#777" stroke-width="0.8"/>
<line x1="63.50" y1="317.04" x2="69.10" y2="317.04" stroke="#777" stroke-width="0.8"/>
<line x1="63.50" y1="295.35" x2="69.10" y2="295.35" stroke="#777" stroke-width="0.8"/>
<rect x="61.15" y="298.24" width="10.30" height="13.74" fill="#4ea34a" stroke="#1d501d" stroke-width="1.0"/>
<line x1="61.15" y1="305.47" x2="71.45" y2="305.47" stroke="#1d501d" stroke-width="1"/>
<line x1="83.00" y1="319.93" x2="83.00" y2="326.43" stroke="#777" stroke-width="0.8"/>
<line x1="83.00" y1="345.59" x2="83.00" y2="350.65" stroke="#777" stroke-width="0.8"/>
<line x1="80.20" y1="350.65" x2="85.80" y2="350.65" stroke="#777" stroke-width="0.8"/>
<line x1="80.20" y1="319.93" x2="85.80" y2="319.93" stroke="#777" stroke-width="0.8"/>
<rect x="77.85" y="326.43" width="10.30" height="19.16" fill="#e34c5a" stroke="#7e1f2c" stroke-width="1.0"/>
<line x1="77.85" y1="332.58" x2="88.15" y2="332.58" stroke="#7e1f2c" stroke-width="1"/>
<text x="160" y="275" font-size="6.8" text-anchor="middle" fill="#111" style="stroke-width:0.12px">PDX.003.204</text>
<text transform="translate(111.82,320.25) rotate(-90)" font-size="5.6" font-weight="bold" text-anchor="middle" fill="#111" style="stroke-width:0.2px">Cyclin B</text>
<line x1="123.20" y1="337.98" x2="196.30" y2="337.98" stroke="#7a7070" stroke-width="1.1" stroke-dasharray="0.7,1.3"/>
<line x1="123.20" y1="283.00" x2="123.20" y2="356.30" stroke="#aaa" stroke-width="0.8"/>
<line x1="123.20" y1="356.30" x2="196.30" y2="356.30" stroke="#aaa" stroke-width="0.8"/>
<line x1="120.70" y1="356.30" x2="123.20" y2="356.30" stroke="#aaa" stroke-width="0.8"/>
<text x="119.50" y="358.06" font-size="4.9" font-weight="bold" text-anchor="end" fill="#333" style="stroke:#333">−1</text>
<line x1="120.70" y1="337.98" x2="123.20" y2="337.98" stroke="#aaa" stroke-width="0.8"/>
<text x="119.50" y="339.74" font-size="4.9" font-weight="bold" text-anchor="end" fill="#333" style="stroke:#333">0</text>
<line x1="120.70" y1="319.65" x2="123.20" y2="319.65" stroke="#aaa" stroke-width="0.8"/>
<text x="119.50" y="321.41" font-size="4.9" font-weight="bold" text-anchor="end" fill="#333" style="stroke:#333">1</text>
<line x1="120.70" y1="301.32" x2="123.20" y2="301.32" stroke="#aaa" stroke-width="0.8"/>
<text x="119.50" y="303.09" font-size="4.9" font-weight="bold" text-anchor="end" fill="#333" style="stroke:#333">2</text>
<line x1="120.70" y1="283.00" x2="123.20" y2="283.00" stroke="#aaa" stroke-width="0.8"/>
<text x="119.50" y="284.76" font-size="4.9" font-weight="bold" text-anchor="end" fill="#333" style="stroke:#333">3</text>
<line x1="134.60" y1="356.30" x2="134.60" y2="358.80" stroke="#aaa" stroke-width="0.8"/>
<text x="134.60" y="366.20" font-size="6.5" text-anchor="middle" fill="#111">C</text>
<line x1="151.40" y1="356.30" x2="151.40" y2="358.80" stroke="#aaa" stroke-width="0.8"/>
<text x="151.40" y="366.20" font-size="6.5" text-anchor="middle" fill="#111">A</text>
<line x1="168.60" y1="356.30" x2="168.60" y2="358.80" stroke="#aaa" stroke-width="0.8"/>
<text x="168.60" y="366.20" font-size="6.5" text-anchor="middle" fill="#111">T</text>
<line x1="186.00" y1="356.30" x2="186.00" y2="358.80" stroke="#aaa" stroke-width="0.8"/>
<text x="186.00" y="366.20" font-size="6.5" text-anchor="middle" fill="#111">A+T</text>
<line x1="134.60" y1="326.61" x2="134.60" y2="326.98" stroke="#777" stroke-width="0.8"/>
<line x1="134.60" y1="329.73" x2="134.60" y2="329.73" stroke="#777" stroke-width="0.8"/>
<line x1="131.80" y1="329.73" x2="137.40" y2="329.73" stroke="#777" stroke-width="0.8"/>
<line x1="131.80" y1="326.61" x2="137.40" y2="326.61" stroke="#777" stroke-width="0.8"/>
<rect x="129.45" y="326.98" width="10.30" height="2.75" fill="#4a78b8" stroke="#1c3160" stroke-width="1.0"/>
<line x1="129.45" y1="328.45" x2="139.75" y2="328.45" stroke="#1c3160" stroke-width="1"/>
<line x1="151.40" y1="313.79" x2="151.40" y2="315.62" stroke="#777" stroke-width="0.8"/>
<line x1="151.40" y1="327.90" x2="151.40" y2="331.56" stroke="#777" stroke-width="0.8"/>
<line x1="148.60" y1="331.56" x2="154.20" y2="331.56" stroke="#777" stroke-width="0.8"/>
<line x1="148.60" y1="313.79" x2="154.20" y2="313.79" stroke="#777" stroke-width="0.8"/>
<rect x="146.25" y="315.62" width="10.30" height="12.28" fill="#f4932c" stroke="#7a4510" stroke-width="1.0"/>
<line x1="146.25" y1="319.65" x2="156.55" y2="319.65" stroke="#7a4510" stroke-width="1"/>
<line x1="168.60" y1="299.49" x2="168.60" y2="303.16" stroke="#777" stroke-width="0.8"/>
<line x1="168.60" y1="316.35" x2="168.60" y2="318.73" stroke="#777" stroke-width="0.8"/>
<line x1="165.80" y1="318.73" x2="171.40" y2="318.73" stroke="#777" stroke-width="0.8"/>
<line x1="165.80" y1="299.49" x2="171.40" y2="299.49" stroke="#777" stroke-width="0.8"/>
<rect x="163.45" y="303.16" width="10.30" height="13.19" fill="#4ea34a" stroke="#1d501d" stroke-width="1.0"/>
<line x1="163.45" y1="308.65" x2="173.75" y2="308.65" stroke="#1d501d" stroke-width="1"/>
<line x1="186.00" y1="317.45" x2="186.00" y2="320.93" stroke="#777" stroke-width="0.8"/>
<line x1="186.00" y1="341.64" x2="186.00" y2="351.72" stroke="#777" stroke-width="0.8"/>
<line x1="183.20" y1="351.72" x2="188.80" y2="351.72" stroke="#777" stroke-width="0.8"/>
<line x1="183.20" y1="317.45" x2="188.80" y2="317.45" stroke="#777" stroke-width="0.8"/>
<rect x="180.85" y="320.93" width="10.30" height="20.71" fill="#e34c5a" stroke="#7e1f2c" stroke-width="1.0"/>
<line x1="180.85" y1="327.53" x2="191.15" y2="327.53" stroke="#7e1f2c" stroke-width="1"/>
<text x="269.4" y="273.8" font-size="6.8" text-anchor="middle" fill="#111" style="stroke-width:0.12px">PDX.003.204</text>
<text transform="translate(216.80,319.95) rotate(-90)" font-size="5.6" font-weight="bold" text-anchor="middle" fill="#111" style="stroke-width:0.2px">PLK1</text>
<line x1="233.00" y1="312.00" x2="298.80" y2="312.00" stroke="#7a7070" stroke-width="1.1" stroke-dasharray="0.7,1.3"/>
<line x1="233.00" y1="283.00" x2="233.00" y2="355.50" stroke="#c4c4c4" stroke-width="0.8"/>
<line x1="233.00" y1="355.50" x2="298.80" y2="355.50" stroke="#c4c4c4" stroke-width="0.8"/>
<line x1="230.50" y1="355.50" x2="233.00" y2="355.50" stroke="#c4c4c4" stroke-width="0.8"/>
<text x="229.30" y="357.26" font-size="4.9" font-weight="bold" text-anchor="end" fill="#333" style="stroke:#333">−1.5</text>
<line x1="230.50" y1="341.00" x2="233.00" y2="341.00" stroke="#c4c4c4" stroke-width="0.8"/>
<text x="229.30" y="342.76" font-size="4.9" font-weight="bold" text-anchor="end" fill="#333" style="stroke:#333">−1.0</text>
<line x1="230.50" y1="326.50" x2="233.00" y2="326.50" stroke="#c4c4c4" stroke-width="0.8"/>
<text x="229.30" y="328.26" font-size="4.9" font-weight="bold" text-anchor="end" fill="#333" style="stroke:#333">−0.5</text>
<line x1="230.50" y1="312.00" x2="233.00" y2="312.00" stroke="#c4c4c4" stroke-width="0.8"/>
<text x="229.30" y="313.76" font-size="4.9" font-weight="bold" text-anchor="end" fill="#333" style="stroke:#333">0.0</text>
<line x1="230.50" y1="297.50" x2="233.00" y2="297.50" stroke="#c4c4c4" stroke-width="0.8"/>
<text x="229.30" y="299.26" font-size="4.9" font-weight="bold" text-anchor="end" fill="#333" style="stroke:#333">0.5</text>
<line x1="230.50" y1="283.00" x2="233.00" y2="283.00" stroke="#c4c4c4" stroke-width="0.8"/>
<text x="229.30" y="284.76" font-size="4.9" font-weight="bold" text-anchor="end" fill="#333" style="stroke:#333">1.0</text>
<line x1="243.90" y1="355.50" x2="243.90" y2="358.00" stroke="#c4c4c4" stroke-width="0.8"/>
<text x="243.90" y="366.20" font-size="6.5" text-anchor="middle" fill="#111">C</text>
<line x1="260.50" y1="355.50" x2="260.50" y2="358.00" stroke="#c4c4c4" stroke-width="0.8"/>
<text x="260.50" y="366.20" font-size="6.5" text-anchor="middle" fill="#111">A</text>
<line x1="277.40" y1="355.50" x2="277.40" y2="358.00" stroke="#c4c4c4" stroke-width="0.8"/>
<text x="277.40" y="366.20" font-size="6.5" text-anchor="middle" fill="#111">T</text>
<line x1="294.70" y1="355.50" x2="294.70" y2="358.00" stroke="#c4c4c4" stroke-width="0.8"/>
<text x="294.70" y="366.20" font-size="6.5" text-anchor="middle" fill="#111">A+T</text>
<line x1="243.90" y1="314.32" x2="243.90" y2="314.32" stroke="#777" stroke-width="0.8"/>
<line x1="243.90" y1="321.57" x2="243.90" y2="324.18" stroke="#777" stroke-width="0.8"/>
<line x1="241.10" y1="324.18" x2="246.70" y2="324.18" stroke="#777" stroke-width="0.8"/>
<line x1="241.10" y1="314.32" x2="246.70" y2="314.32" stroke="#777" stroke-width="0.8"/>
<rect x="238.75" y="314.32" width="10.30" height="7.25" fill="#4a78b8" stroke="#1c3160" stroke-width="1.0"/>
<line x1="238.75" y1="318.38" x2="249.05" y2="318.38" stroke="#1c3160" stroke-width="1"/>
<line x1="260.50" y1="294.60" x2="260.50" y2="298.95" stroke="#777" stroke-width="0.8"/>
<line x1="260.50" y1="313.45" x2="260.50" y2="316.35" stroke="#777" stroke-width="0.8"/>
<line x1="257.70" y1="316.35" x2="263.30" y2="316.35" stroke="#777" stroke-width="0.8"/>
<line x1="257.70" y1="294.60" x2="263.30" y2="294.60" stroke="#777" stroke-width="0.8"/>
<rect x="255.35" y="298.95" width="10.30" height="14.50" fill="#f4932c" stroke="#7a4510" stroke-width="1.0"/>
<line x1="255.35" y1="307.65" x2="265.65" y2="307.65" stroke="#7a4510" stroke-width="1"/>
<line x1="277.40" y1="296.92" x2="277.40" y2="296.92" stroke="#777" stroke-width="0.8"/>
<line x1="277.40" y1="305.62" x2="277.40" y2="306.78" stroke="#777" stroke-width="0.8"/>
<line x1="274.60" y1="306.78" x2="280.20" y2="306.78" stroke="#777" stroke-width="0.8"/>
<line x1="274.60" y1="296.92" x2="280.20" y2="296.92" stroke="#777" stroke-width="0.8"/>
<rect x="272.25" y="296.92" width="10.30" height="8.70" fill="#4ea34a" stroke="#1d501d" stroke-width="1.0"/>
<line x1="272.25" y1="300.40" x2="282.55" y2="300.40" stroke="#1d501d" stroke-width="1"/>
<line x1="294.70" y1="312.00" x2="294.70" y2="315.48" stroke="#777" stroke-width="0.8"/>
<line x1="294.70" y1="336.65" x2="294.70" y2="343.32" stroke="#777" stroke-width="0.8"/>
<line x1="291.90" y1="343.32" x2="297.50" y2="343.32" stroke="#777" stroke-width="0.8"/>
<line x1="291.90" y1="312.00" x2="297.50" y2="312.00" stroke="#777" stroke-width="0.8"/>
<rect x="289.55" y="315.48" width="10.30" height="21.17" fill="#e34c5a" stroke="#7e1f2c" stroke-width="1.0"/>
<line x1="289.55" y1="329.40" x2="299.85" y2="329.40" stroke="#7e1f2c" stroke-width="1"/>
<text x="373.8" y="272.5" font-size="6.8" text-anchor="middle" fill="#111" style="stroke-width:0.12px">PDX.003.204</text>
<text transform="translate(321.00,318.15) rotate(-90)" font-size="5.6" font-weight="bold" text-anchor="middle" fill="#111" style="stroke-width:0.2px">CDC25</text>
<line x1="337.70" y1="336.38" x2="410.00" y2="336.38" stroke="#7a7070" stroke-width="1.1" stroke-dasharray="0.7,1.3"/>
<line x1="337.70" y1="282.00" x2="337.70" y2="354.50" stroke="#c4c4c4" stroke-width="0.8"/>
<line x1="337.70" y1="354.50" x2="410.00" y2="354.50" stroke="#c4c4c4" stroke-width="0.8"/>
<line x1="335.20" y1="354.50" x2="337.70" y2="354.50" stroke="#c4c4c4" stroke-width="0.8"/>
<text x="334.00" y="356.26" font-size="4.9" font-weight="bold" text-anchor="end" fill="#333" style="stroke:#333">−0.5</text>
<line x1="335.20" y1="336.38" x2="337.70" y2="336.38" stroke="#c4c4c4" stroke-width="0.8"/>
<text x="334.00" y="338.14" font-size="4.9" font-weight="bold" text-anchor="end" fill="#333" style="stroke:#333">0.0</text>
<line x1="335.20" y1="318.25" x2="337.70" y2="318.25" stroke="#c4c4c4" stroke-width="0.8"/>
<text x="334.00" y="320.01" font-size="4.9" font-weight="bold" text-anchor="end" fill="#333" style="stroke:#333">0.5</text>
<line x1="335.20" y1="300.12" x2="337.70" y2="300.12" stroke="#c4c4c4" stroke-width="0.8"/>
<text x="334.00" y="301.89" font-size="4.9" font-weight="bold" text-anchor="end" fill="#333" style="stroke:#333">1.0</text>
<line x1="335.20" y1="282.00" x2="337.70" y2="282.00" stroke="#c4c4c4" stroke-width="0.8"/>
<text x="334.00" y="283.76" font-size="4.9" font-weight="bold" text-anchor="end" fill="#333" style="stroke:#333">1.5</text>
<line x1="348.20" y1="354.50" x2="348.20" y2="357.00" stroke="#c4c4c4" stroke-width="0.8"/>
<text x="348.20" y="365.10" font-size="6.5" text-anchor="middle" fill="#111">C</text>
<line x1="365.50" y1="354.50" x2="365.50" y2="357.00" stroke="#c4c4c4" stroke-width="0.8"/>
<text x="365.50" y="365.10" font-size="6.5" text-anchor="middle" fill="#111">A</text>
<line x1="382.40" y1="354.50" x2="382.40" y2="357.00" stroke="#c4c4c4" stroke-width="0.8"/>
<text x="382.40" y="365.10" font-size="6.5" text-anchor="middle" fill="#111">T</text>
<line x1="399.40" y1="354.50" x2="399.40" y2="357.00" stroke="#c4c4c4" stroke-width="0.8"/>
<text x="399.40" y="365.10" font-size="6.5" text-anchor="middle" fill="#111">A+T</text>
<line x1="348.20" y1="305.93" x2="348.20" y2="306.65" stroke="#777" stroke-width="0.8"/>
<line x1="348.20" y1="312.81" x2="348.20" y2="313.54" stroke="#777" stroke-width="0.8"/>
<line x1="345.40" y1="313.54" x2="351.00" y2="313.54" stroke="#777" stroke-width="0.8"/>
<line x1="345.40" y1="305.93" x2="351.00" y2="305.93" stroke="#777" stroke-width="0.8"/>
<rect x="343.05" y="306.65" width="10.30" height="6.16" fill="#4a78b8" stroke="#1c3160" stroke-width="1.0"/>
<line x1="343.05" y1="310.27" x2="353.35" y2="310.27" stroke="#1c3160" stroke-width="1"/>
<line x1="365.50" y1="306.65" x2="365.50" y2="307.38" stroke="#777" stroke-width="0.8"/>
<line x1="365.50" y1="311.00" x2="365.50" y2="311.73" stroke="#777" stroke-width="0.8"/>
<line x1="362.70" y1="311.73" x2="368.30" y2="311.73" stroke="#777" stroke-width="0.8"/>
<line x1="362.70" y1="306.65" x2="368.30" y2="306.65" stroke="#777" stroke-width="0.8"/>
<rect x="360.35" y="307.38" width="10.30" height="3.62" fill="#f4932c" stroke="#7a4510" stroke-width="1.0"/>
<line x1="360.35" y1="308.82" x2="370.65" y2="308.82" stroke="#7a4510" stroke-width="1"/>
<line x1="382.40" y1="298.31" x2="382.40" y2="303.75" stroke="#777" stroke-width="0.8"/>
<line x1="382.40" y1="312.81" x2="382.40" y2="313.90" stroke="#777" stroke-width="0.8"/>
<line x1="379.60" y1="313.90" x2="385.20" y2="313.90" stroke="#777" stroke-width="0.8"/>
<line x1="379.60" y1="298.31" x2="385.20" y2="298.31" stroke="#777" stroke-width="0.8"/>
<rect x="377.25" y="303.75" width="10.30" height="9.06" fill="#4ea34a" stroke="#1d501d" stroke-width="1.0"/>
<line x1="377.25" y1="311.00" x2="387.55" y2="311.00" stroke="#1d501d" stroke-width="1"/>
<line x1="399.40" y1="318.98" x2="399.40" y2="321.88" stroke="#777" stroke-width="0.8"/>
<line x1="399.40" y1="337.46" x2="399.40" y2="341.81" stroke="#777" stroke-width="0.8"/>
<line x1="396.60" y1="341.81" x2="402.20" y2="341.81" stroke="#777" stroke-width="0.8"/>
<line x1="396.60" y1="318.98" x2="402.20" y2="318.98" stroke="#777" stroke-width="0.8"/>
<rect x="394.25" y="321.88" width="10.30" height="15.59" fill="#e34c5a" stroke="#7e1f2c" stroke-width="1.0"/>
<line x1="394.25" y1="325.50" x2="404.55" y2="325.50" stroke="#7e1f2c" stroke-width="1"/>
<text x="475.9" y="273" font-size="6.8" text-anchor="middle" fill="#111" style="stroke-width:0.12px">PDX.003.204</text>
<text transform="translate(422.77,318.60) rotate(-90)" font-size="5.8" font-weight="bold" text-anchor="middle" fill="#111" style="stroke-width:0.2px">CDK1_pT14</text>
<line x1="439.30" y1="339.60" x2="512.00" y2="339.60" stroke="#7a7070" stroke-width="1.1" stroke-dasharray="0.7,1.3"/>
<line x1="439.30" y1="282.00" x2="439.30" y2="354.00" stroke="#aaa" stroke-width="0.8"/>
<line x1="439.30" y1="354.00" x2="512.00" y2="354.00" stroke="#aaa" stroke-width="0.8"/>
<line x1="436.80" y1="354.00" x2="439.30" y2="354.00" stroke="#aaa" stroke-width="0.8"/>
<text x="435.60" y="355.76" font-size="4.9" font-weight="bold" text-anchor="end" fill="#333" style="stroke:#333">−0.5</text>
<line x1="436.80" y1="339.60" x2="439.30" y2="339.60" stroke="#aaa" stroke-width="0.8"/>
<text x="435.60" y="341.36" font-size="4.9" font-weight="bold" text-anchor="end" fill="#333" style="stroke:#333">0.0</text>
<line x1="436.80" y1="325.20" x2="439.30" y2="325.20" stroke="#aaa" stroke-width="0.8"/>
<text x="435.60" y="326.96" font-size="4.9" font-weight="bold" text-anchor="end" fill="#333" style="stroke:#333">0.5</text>
<line x1="436.80" y1="310.80" x2="439.30" y2="310.80" stroke="#aaa" stroke-width="0.8"/>
<text x="435.60" y="312.56" font-size="4.9" font-weight="bold" text-anchor="end" fill="#333" style="stroke:#333">1.0</text>
<line x1="436.80" y1="296.40" x2="439.30" y2="296.40" stroke="#aaa" stroke-width="0.8"/>
<text x="435.60" y="298.16" font-size="4.9" font-weight="bold" text-anchor="end" fill="#333" style="stroke:#333">1.5</text>
<line x1="436.80" y1="282.00" x2="439.30" y2="282.00" stroke="#aaa" stroke-width="0.8"/>
<text x="435.60" y="283.76" font-size="4.9" font-weight="bold" text-anchor="end" fill="#333" style="stroke:#333">2.0</text>
<line x1="450.30" y1="354.00" x2="450.30" y2="356.50" stroke="#aaa" stroke-width="0.8"/>
<text x="450.30" y="365.10" font-size="6.5" text-anchor="middle" fill="#111">C</text>
<line x1="467.40" y1="354.00" x2="467.40" y2="356.50" stroke="#aaa" stroke-width="0.8"/>
<text x="467.40" y="365.10" font-size="6.5" text-anchor="middle" fill="#111">A</text>
<line x1="484.50" y1="354.00" x2="484.50" y2="356.50" stroke="#aaa" stroke-width="0.8"/>
<text x="484.50" y="365.10" font-size="6.5" text-anchor="middle" fill="#111">T</text>
<line x1="501.30" y1="354.00" x2="501.30" y2="356.50" stroke="#aaa" stroke-width="0.8"/>
<text x="501.30" y="365.10" font-size="6.5" text-anchor="middle" fill="#111">A+T</text>
<line x1="450.30" y1="320.30" x2="450.30" y2="322.32" stroke="#777" stroke-width="0.8"/>
<line x1="450.30" y1="328.66" x2="450.30" y2="328.66" stroke="#777" stroke-width="0.8"/>
<line x1="447.50" y1="328.66" x2="453.10" y2="328.66" stroke="#777" stroke-width="0.8"/>
<line x1="447.50" y1="320.30" x2="453.10" y2="320.30" stroke="#777" stroke-width="0.8"/>
<rect x="445.15" y="322.32" width="10.30" height="6.34" fill="#4a78b8" stroke="#1c3160" stroke-width="1.0"/>
<line x1="445.15" y1="325.78" x2="455.45" y2="325.78" stroke="#1c3160" stroke-width="1"/>
<line x1="467.40" y1="295.54" x2="467.40" y2="296.40" stroke="#777" stroke-width="0.8"/>
<line x1="467.40" y1="310.22" x2="467.40" y2="313.68" stroke="#777" stroke-width="0.8"/>
<line x1="464.60" y1="313.68" x2="470.20" y2="313.68" stroke="#777" stroke-width="0.8"/>
<line x1="464.60" y1="295.54" x2="470.20" y2="295.54" stroke="#777" stroke-width="0.8"/>
<rect x="462.25" y="296.40" width="10.30" height="13.82" fill="#f4932c" stroke="#7a4510" stroke-width="1.0"/>
<line x1="462.25" y1="306.48" x2="472.55" y2="306.48" stroke="#7a4510" stroke-width="1"/>
<line x1="484.50" y1="290.64" x2="484.50" y2="290.64" stroke="#777" stroke-width="0.8"/>
<line x1="484.50" y1="306.48" x2="484.50" y2="309.36" stroke="#777" stroke-width="0.8"/>
<line x1="481.70" y1="309.36" x2="487.30" y2="309.36" stroke="#777" stroke-width="0.8"/>
<line x1="481.70" y1="290.64" x2="487.30" y2="290.64" stroke="#777" stroke-width="0.8"/>
<rect x="479.35" y="290.64" width="10.30" height="15.84" fill="#4ea34a" stroke="#1d501d" stroke-width="1.0"/>
<line x1="479.35" y1="298.70" x2="489.65" y2="298.70" stroke="#1d501d" stroke-width="1"/>
<line x1="501.30" y1="292.66" x2="501.30" y2="295.82" stroke="#777" stroke-width="0.8"/>
<line x1="501.30" y1="330.10" x2="501.30" y2="340.18" stroke="#777" stroke-width="0.8"/>
<line x1="498.50" y1="340.18" x2="504.10" y2="340.18" stroke="#777" stroke-width="0.8"/>
<line x1="498.50" y1="292.66" x2="504.10" y2="292.66" stroke="#777" stroke-width="0.8"/>
<rect x="496.15" y="295.82" width="10.30" height="34.27" fill="#e34c5a" stroke="#7e1f2c" stroke-width="1.0"/>
<line x1="496.15" y1="308.50" x2="506.45" y2="308.50" stroke="#7e1f2c" stroke-width="1"/>
<text x="58.5" y="391.3" font-size="6.8" text-anchor="middle" fill="#111" style="stroke-width:0.12px">PDX.003.213</text>
<text transform="translate(5.70,437.40) rotate(-90)" font-size="5.6" font-weight="bold" text-anchor="middle" fill="#111" style="stroke-width:0.2px">Aurora-A</text>
<line x1="21.70" y1="460.22" x2="95.00" y2="460.22" stroke="#7a7070" stroke-width="1.1" stroke-dasharray="0.7,1.3"/>
<line x1="21.70" y1="400.30" x2="21.70" y2="472.20" stroke="#aaa" stroke-width="0.8"/>
<line x1="21.70" y1="472.20" x2="95.00" y2="472.20" stroke="#aaa" stroke-width="0.8"/>
<line x1="19.20" y1="472.20" x2="21.70" y2="472.20" stroke="#aaa" stroke-width="0.8"/>
<text x="18.00" y="473.96" font-size="4.9" font-weight="bold" text-anchor="end" fill="#333" style="stroke:#333">−0.5</text>
<line x1="19.20" y1="460.22" x2="21.70" y2="460.22" stroke="#aaa" stroke-width="0.8"/>
<text x="18.00" y="461.98" font-size="4.9" font-weight="bold" text-anchor="end" fill="#333" style="stroke:#333">0.0</text>
<line x1="19.20" y1="448.23" x2="21.70" y2="448.23" stroke="#aaa" stroke-width="0.8"/>
<text x="18.00" y="450.00" font-size="4.9" font-weight="bold" text-anchor="end" fill="#333" style="stroke:#333">0.5</text>
<line x1="19.20" y1="436.25" x2="21.70" y2="436.25" stroke="#aaa" stroke-width="0.8"/>
<text x="18.00" y="438.01" font-size="4.9" font-weight="bold" text-anchor="end" fill="#333" style="stroke:#333">1.0</text>
<line x1="19.20" y1="424.27" x2="21.70" y2="424.27" stroke="#aaa" stroke-width="0.8"/>
<text x="18.00" y="426.03" font-size="4.9" font-weight="bold" text-anchor="end" fill="#333" style="stroke:#333">1.5</text>
<line x1="19.20" y1="412.28" x2="21.70" y2="412.28" stroke="#aaa" stroke-width="0.8"/>
<text x="18.00" y="414.05" font-size="4.9" font-weight="bold" text-anchor="end" fill="#333" style="stroke:#333">2.0</text>
<line x1="19.20" y1="400.30" x2="21.70" y2="400.30" stroke="#aaa" stroke-width="0.8"/>
<text x="18.00" y="402.06" font-size="4.9" font-weight="bold" text-anchor="end" fill="#333" style="stroke:#333">2.5</text>
<line x1="32.60" y1="472.20" x2="32.60" y2="474.70" stroke="#aaa" stroke-width="0.8"/>
<text x="32.60" y="483.10" font-size="6.5" text-anchor="middle" fill="#111">C</text>
<line x1="50.00" y1="472.20" x2="50.00" y2="474.70" stroke="#aaa" stroke-width="0.8"/>
<text x="50.00" y="483.10" font-size="6.5" text-anchor="middle" fill="#111">A</text>
<line x1="66.60" y1="472.20" x2="66.60" y2="474.70" stroke="#aaa" stroke-width="0.8"/>
<text x="66.60" y="483.10" font-size="6.5" text-anchor="middle" fill="#111">T</text>
<line x1="83.80" y1="472.20" x2="83.80" y2="474.70" stroke="#aaa" stroke-width="0.8"/>
<text x="83.80" y="483.10" font-size="6.5" text-anchor="middle" fill="#111">A+T</text>
<line x1="32.60" y1="445.84" x2="32.60" y2="447.75" stroke="#777" stroke-width="0.8"/>
<line x1="32.60" y1="463.09" x2="32.60" y2="468.13" stroke="#777" stroke-width="0.8"/>
<line x1="29.80" y1="468.13" x2="35.40" y2="468.13" stroke="#777" stroke-width="0.8"/>
<line x1="29.80" y1="445.84" x2="35.40" y2="445.84" stroke="#777" stroke-width="0.8"/>
<rect x="27.45" y="447.75" width="10.30" height="15.34" fill="#4a78b8" stroke="#1c3160" stroke-width="1.0"/>
<line x1="27.45" y1="455.90" x2="37.75" y2="455.90" stroke="#1c3160" stroke-width="1"/>
<line x1="50.00" y1="433.85" x2="50.00" y2="435.05" stroke="#777" stroke-width="0.8"/>
<line x1="50.00" y1="451.11" x2="50.00" y2="463.81" stroke="#777" stroke-width="0.8"/>
<line x1="47.20" y1="463.81" x2="52.80" y2="463.81" stroke="#777" stroke-width="0.8"/>
<line x1="47.20" y1="433.85" x2="52.80" y2="433.85" stroke="#777" stroke-width="0.8"/>
<rect x="44.85" y="435.05" width="10.30" height="16.06" fill="#f4932c" stroke="#7a4510" stroke-width="1.0"/>
<line x1="44.85" y1="436.25" x2="55.15" y2="436.25" stroke="#7a4510" stroke-width="1"/>
<line x1="66.60" y1="411.09" x2="66.60" y2="413.96" stroke="#777" stroke-width="0.8"/>
<line x1="66.60" y1="423.79" x2="66.60" y2="427.14" stroke="#777" stroke-width="0.8"/>
<line x1="63.80" y1="427.14" x2="69.40" y2="427.14" stroke="#777" stroke-width="0.8"/>
<line x1="63.80" y1="411.09" x2="69.40" y2="411.09" stroke="#777" stroke-width="0.8"/>
<rect x="61.45" y="413.96" width="10.30" height="9.83" fill="#4ea34a" stroke="#1d501d" stroke-width="1.0"/>
<line x1="61.45" y1="417.08" x2="71.75" y2="417.08" stroke="#1d501d" stroke-width="1"/>
<line x1="83.80" y1="431.46" x2="83.80" y2="432.65" stroke="#777" stroke-width="0.8"/>
<line x1="83.80" y1="454.23" x2="83.80" y2="454.46" stroke="#777" stroke-width="0.8"/>
<line x1="81.00" y1="454.46" x2="86.60" y2="454.46" stroke="#777" stroke-width="0.8"/>
<line x1="81.00" y1="431.46" x2="86.60" y2="431.46" stroke="#777" stroke-width="0.8"/>
<rect x="78.65" y="432.65" width="10.30" height="21.57" fill="#e34c5a" stroke="#7e1f2c" stroke-width="1.0"/>
<line x1="78.65" y1="442.24" x2="88.95" y2="442.24" stroke="#7e1f2c" stroke-width="1"/>
<text x="160" y="387.5" font-size="6.8" text-anchor="middle" fill="#111" style="stroke-width:0.12px">PDX.003.213</text>
<text transform="translate(113.02,433.30) rotate(-90)" font-size="5.6" font-weight="bold" text-anchor="middle" fill="#111" style="stroke-width:0.2px">Cyclin B</text>
<line x1="122.90" y1="469.30" x2="196.30" y2="469.30" stroke="#7a7070" stroke-width="1.1" stroke-dasharray="0.7,1.3"/>
<line x1="122.90" y1="397.00" x2="122.90" y2="469.30" stroke="#aaa" stroke-width="0.8"/>
<line x1="122.90" y1="469.30" x2="196.30" y2="469.30" stroke="#aaa" stroke-width="0.8"/>
<line x1="120.40" y1="469.30" x2="122.90" y2="469.30" stroke="#aaa" stroke-width="0.8"/>
<text x="119.20" y="471.06" font-size="4.9" font-weight="bold" text-anchor="end" fill="#333" style="stroke:#333">0</text>
<line x1="120.40" y1="451.23" x2="122.90" y2="451.23" stroke="#aaa" stroke-width="0.8"/>
<text x="119.20" y="452.99" font-size="4.9" font-weight="bold" text-anchor="end" fill="#333" style="stroke:#333">1</text>
<line x1="120.40" y1="433.15" x2="122.90" y2="433.15" stroke="#aaa" stroke-width="0.8"/>
<text x="119.20" y="434.91" font-size="4.9" font-weight="bold" text-anchor="end" fill="#333" style="stroke:#333">2</text>
<line x1="120.40" y1="415.07" x2="122.90" y2="415.07" stroke="#aaa" stroke-width="0.8"/>
<text x="119.20" y="416.84" font-size="4.9" font-weight="bold" text-anchor="end" fill="#333" style="stroke:#333">3</text>
<line x1="120.40" y1="397.00" x2="122.90" y2="397.00" stroke="#aaa" stroke-width="0.8"/>
<text x="119.20" y="398.76" font-size="4.9" font-weight="bold" text-anchor="end" fill="#333" style="stroke:#333">4</text>
<line x1="134.60" y1="469.30" x2="134.60" y2="471.80" stroke="#aaa" stroke-width="0.8"/>
<text x="134.60" y="479.60" font-size="6.5" text-anchor="middle" fill="#111">C</text>
<line x1="151.40" y1="469.30" x2="151.40" y2="471.80" stroke="#aaa" stroke-width="0.8"/>
<text x="151.40" y="479.60" font-size="6.5" text-anchor="middle" fill="#111">A</text>
<line x1="168.60" y1="469.30" x2="168.60" y2="471.80" stroke="#aaa" stroke-width="0.8"/>
<text x="168.60" y="479.60" font-size="6.5" text-anchor="middle" fill="#111">T</text>
<line x1="186.00" y1="469.30" x2="186.00" y2="471.80" stroke="#aaa" stroke-width="0.8"/>
<text x="186.00" y="479.60" font-size="6.5" text-anchor="middle" fill="#111">A+T</text>
<line x1="134.60" y1="446.71" x2="134.60" y2="448.88" stroke="#777" stroke-width="0.8"/>
<line x1="134.60" y1="458.45" x2="134.60" y2="458.82" stroke="#777" stroke-width="0.8"/>
<line x1="131.80" y1="458.82" x2="137.40" y2="458.82" stroke="#777" stroke-width="0.8"/>
<line x1="131.80" y1="446.71" x2="137.40" y2="446.71" stroke="#777" stroke-width="0.8"/>
<rect x="129.45" y="448.88" width="10.30" height="9.58" fill="#4a78b8" stroke="#1c3160" stroke-width="1.0"/>
<line x1="129.45" y1="453.03" x2="139.75" y2="453.03" stroke="#1c3160" stroke-width="1"/>
<line x1="151.40" y1="441.28" x2="151.40" y2="442.73" stroke="#777" stroke-width="0.8"/>
<line x1="151.40" y1="456.65" x2="151.40" y2="463.52" stroke="#777" stroke-width="0.8"/>
<line x1="148.60" y1="463.52" x2="154.20" y2="463.52" stroke="#777" stroke-width="0.8"/>
<line x1="148.60" y1="441.28" x2="154.20" y2="441.28" stroke="#777" stroke-width="0.8"/>
<rect x="146.25" y="442.73" width="10.30" height="13.92" fill="#f4932c" stroke="#7a4510" stroke-width="1.0"/>
<line x1="146.25" y1="447.25" x2="156.55" y2="447.25" stroke="#7a4510" stroke-width="1"/>
<line x1="168.60" y1="412.36" x2="168.60" y2="412.36" stroke="#777" stroke-width="0.8"/>
<line x1="168.60" y1="422.31" x2="168.60" y2="424.11" stroke="#777" stroke-width="0.8"/>
<line x1="165.80" y1="424.11" x2="171.40" y2="424.11" stroke="#777" stroke-width="0.8"/>
<line x1="165.80" y1="412.36" x2="171.40" y2="412.36" stroke="#777" stroke-width="0.8"/>
<rect x="163.45" y="412.36" width="10.30" height="9.94" fill="#4ea34a" stroke="#1d501d" stroke-width="1.0"/>
<line x1="163.45" y1="416.88" x2="173.75" y2="416.88" stroke="#1d501d" stroke-width="1"/>
<line x1="186.00" y1="438.21" x2="186.00" y2="438.21" stroke="#777" stroke-width="0.8"/>
<line x1="186.00" y1="448.51" x2="186.00" y2="449.06" stroke="#777" stroke-width="0.8"/>
<line x1="183.20" y1="449.06" x2="188.80" y2="449.06" stroke="#777" stroke-width="0.8"/>
<line x1="183.20" y1="438.21" x2="188.80" y2="438.21" stroke="#777" stroke-width="0.8"/>
<rect x="180.85" y="438.21" width="10.30" height="10.30" fill="#e34c5a" stroke="#7e1f2c" stroke-width="1.0"/>
<line x1="180.85" y1="446.71" x2="191.15" y2="446.71" stroke="#7e1f2c" stroke-width="1"/>
<text x="268.5" y="387.5" font-size="6.8" text-anchor="middle" fill="#111" style="stroke-width:0.12px">PDX.003.213</text>
<text transform="translate(221.40,433.00) rotate(-90)" font-size="5.6" font-weight="bold" text-anchor="middle" fill="#111" style="stroke-width:0.2px">PLK1</text>
<line x1="231.00" y1="468.80" x2="303.80" y2="468.80" stroke="#7a7070" stroke-width="1.1" stroke-dasharray="0.7,1.3"/>
<line x1="231.00" y1="395.80" x2="231.00" y2="468.80" stroke="#aaa" stroke-width="0.8"/>
<line x1="231.00" y1="468.80" x2="303.80" y2="468.80" stroke="#aaa" stroke-width="0.8"/>
<line x1="228.50" y1="468.80" x2="231.00" y2="468.80" stroke="#aaa" stroke-width="0.8"/>
<text x="227.30" y="470.56" font-size="4.9" font-weight="bold" text-anchor="end" fill="#333" style="stroke:#333">0</text>
<line x1="228.50" y1="450.55" x2="231.00" y2="450.55" stroke="#aaa" stroke-width="0.8"/>
<text x="227.30" y="452.31" font-size="4.9" font-weight="bold" text-anchor="end" fill="#333" style="stroke:#333">1</text>
<line x1="228.50" y1="432.30" x2="231.00" y2="432.30" stroke="#aaa" stroke-width="0.8"/>
<text x="227.30" y="434.06" font-size="4.9" font-weight="bold" text-anchor="end" fill="#333" style="stroke:#333">2</text>
<line x1="228.50" y1="414.05" x2="231.00" y2="414.05" stroke="#aaa" stroke-width="0.8"/>
<text x="227.30" y="415.81" font-size="4.9" font-weight="bold" text-anchor="end" fill="#333" style="stroke:#333">3</text>
<line x1="228.50" y1="395.80" x2="231.00" y2="395.80" stroke="#aaa" stroke-width="0.8"/>
<text x="227.30" y="397.56" font-size="4.9" font-weight="bold" text-anchor="end" fill="#333" style="stroke:#333">4</text>
<line x1="242.50" y1="468.80" x2="242.50" y2="471.30" stroke="#aaa" stroke-width="0.8"/>
<text x="242.50" y="479.20" font-size="6.5" text-anchor="middle" fill="#111">C</text>
<line x1="259.40" y1="468.80" x2="259.40" y2="471.30" stroke="#aaa" stroke-width="0.8"/>
<text x="259.40" y="479.20" font-size="6.5" text-anchor="middle" fill="#111">A</text>
<line x1="276.30" y1="468.80" x2="276.30" y2="471.30" stroke="#aaa" stroke-width="0.8"/>
<text x="276.30" y="479.20" font-size="6.5" text-anchor="middle" fill="#111">T</text>
<line x1="293.60" y1="468.80" x2="293.60" y2="471.30" stroke="#aaa" stroke-width="0.8"/>
<text x="293.60" y="479.20" font-size="6.5" text-anchor="middle" fill="#111">A+T</text>
<line x1="242.50" y1="436.31" x2="242.50" y2="439.05" stroke="#777" stroke-width="0.8"/>
<line x1="242.50" y1="449.64" x2="242.50" y2="450.55" stroke="#777" stroke-width="0.8"/>
<line x1="239.70" y1="450.55" x2="245.30" y2="450.55" stroke="#777" stroke-width="0.8"/>
<line x1="239.70" y1="436.31" x2="245.30" y2="436.31" stroke="#777" stroke-width="0.8"/>
<rect x="237.35" y="439.05" width="10.30" height="10.58" fill="#4a78b8" stroke="#1c3160" stroke-width="1.0"/>
<line x1="237.35" y1="445.07" x2="247.65" y2="445.07" stroke="#1c3160" stroke-width="1"/>
<line x1="259.40" y1="426.83" x2="259.40" y2="431.39" stroke="#777" stroke-width="0.8"/>
<line x1="259.40" y1="450.19" x2="259.40" y2="460.59" stroke="#777" stroke-width="0.8"/>
<line x1="256.60" y1="460.59" x2="262.20" y2="460.59" stroke="#777" stroke-width="0.8"/>
<line x1="256.60" y1="426.83" x2="262.20" y2="426.83" stroke="#777" stroke-width="0.8"/>
<rect x="254.25" y="431.39" width="10.30" height="18.80" fill="#f4932c" stroke="#7a4510" stroke-width="1.0"/>
<line x1="254.25" y1="436.31" x2="264.55" y2="436.31" stroke="#7a4510" stroke-width="1"/>
<line x1="276.30" y1="410.40" x2="276.30" y2="413.14" stroke="#777" stroke-width="0.8"/>
<line x1="276.30" y1="427.19" x2="276.30" y2="436.86" stroke="#777" stroke-width="0.8"/>
<line x1="273.50" y1="436.86" x2="279.10" y2="436.86" stroke="#777" stroke-width="0.8"/>
<line x1="273.50" y1="410.40" x2="279.10" y2="410.40" stroke="#777" stroke-width="0.8"/>
<rect x="271.15" y="413.14" width="10.30" height="14.05" fill="#4ea34a" stroke="#1d501d" stroke-width="1.0"/>
<line x1="271.15" y1="417.34" x2="281.45" y2="417.34" stroke="#1d501d" stroke-width="1"/>
<line x1="293.60" y1="435.95" x2="293.60" y2="438.14" stroke="#777" stroke-width="0.8"/>
<line x1="293.60" y1="461.87" x2="293.60" y2="465.51" stroke="#777" stroke-width="0.8"/>
<line x1="290.80" y1="465.51" x2="296.40" y2="465.51" stroke="#777" stroke-width="0.8"/>
<line x1="290.80" y1="435.95" x2="296.40" y2="435.95" stroke="#777" stroke-width="0.8"/>
<rect x="288.45" y="438.14" width="10.30" height="23.73" fill="#e34c5a" stroke="#7e1f2c" stroke-width="1.0"/>
<line x1="288.45" y1="440.51" x2="298.75" y2="440.51" stroke="#7e1f2c" stroke-width="1"/>
<text x="376.3" y="385.8" font-size="6.8" text-anchor="middle" fill="#111" style="stroke-width:0.12px">PDX.003.213</text>
<text transform="translate(325.40,430.85) rotate(-90)" font-size="5.6" font-weight="bold" text-anchor="middle" fill="#111" style="stroke-width:0.2px">CDC25</text>
<line x1="339.60" y1="467.00" x2="408.80" y2="467.00" stroke="#7a7070" stroke-width="1.1" stroke-dasharray="0.7,1.3"/>
<line x1="339.60" y1="394.30" x2="339.60" y2="467.00" stroke="#aaa" stroke-width="0.8"/>
<line x1="339.60" y1="467.00" x2="408.80" y2="467.00" stroke="#aaa" stroke-width="0.8"/>
<line x1="337.10" y1="467.00" x2="339.60" y2="467.00" stroke="#aaa" stroke-width="0.8"/>
<text x="335.90" y="468.76" font-size="4.9" font-weight="bold" text-anchor="end" fill="#333" style="stroke:#333">0.0</text>
<line x1="337.10" y1="452.46" x2="339.60" y2="452.46" stroke="#aaa" stroke-width="0.8"/>
<text x="335.90" y="454.22" font-size="4.9" font-weight="bold" text-anchor="end" fill="#333" style="stroke:#333">0.5</text>
<line x1="337.10" y1="437.92" x2="339.60" y2="437.92" stroke="#aaa" stroke-width="0.8"/>
<text x="335.90" y="439.68" font-size="4.9" font-weight="bold" text-anchor="end" fill="#333" style="stroke:#333">1.0</text>
<line x1="337.10" y1="423.38" x2="339.60" y2="423.38" stroke="#aaa" stroke-width="0.8"/>
<text x="335.90" y="425.14" font-size="4.9" font-weight="bold" text-anchor="end" fill="#333" style="stroke:#333">1.5</text>
<line x1="337.10" y1="408.84" x2="339.60" y2="408.84" stroke="#aaa" stroke-width="0.8"/>
<text x="335.90" y="410.60" font-size="4.9" font-weight="bold" text-anchor="end" fill="#333" style="stroke:#333">2.0</text>
<line x1="337.10" y1="394.30" x2="339.60" y2="394.30" stroke="#aaa" stroke-width="0.8"/>
<text x="335.90" y="396.06" font-size="4.9" font-weight="bold" text-anchor="end" fill="#333" style="stroke:#333">2.5</text>
<line x1="351.00" y1="467.00" x2="351.00" y2="469.50" stroke="#aaa" stroke-width="0.8"/>
<text x="351.00" y="477.20" font-size="6.5" text-anchor="middle" fill="#111">C</text>
<line x1="367.80" y1="467.00" x2="367.80" y2="469.50" stroke="#aaa" stroke-width="0.8"/>
<text x="367.80" y="477.20" font-size="6.5" text-anchor="middle" fill="#111">A</text>
<line x1="384.60" y1="467.00" x2="384.60" y2="469.50" stroke="#aaa" stroke-width="0.8"/>
<text x="384.60" y="477.20" font-size="6.5" text-anchor="middle" fill="#111">T</text>
<line x1="401.60" y1="467.00" x2="401.60" y2="469.50" stroke="#aaa" stroke-width="0.8"/>
<text x="401.60" y="477.20" font-size="6.5" text-anchor="middle" fill="#111">A+T</text>
<line x1="351.00" y1="423.38" x2="351.00" y2="426.29" stroke="#777" stroke-width="0.8"/>
<line x1="351.00" y1="437.05" x2="351.00" y2="439.96" stroke="#777" stroke-width="0.8"/>
<line x1="348.20" y1="439.96" x2="353.80" y2="439.96" stroke="#777" stroke-width="0.8"/>
<line x1="348.20" y1="423.38" x2="353.80" y2="423.38" stroke="#777" stroke-width="0.8"/>
<rect x="345.85" y="426.29" width="10.30" height="10.76" fill="#4a78b8" stroke="#1c3160" stroke-width="1.0"/>
<line x1="345.85" y1="432.69" x2="356.15" y2="432.69" stroke="#1c3160" stroke-width="1"/>
<line x1="367.80" y1="420.47" x2="367.80" y2="421.05" stroke="#777" stroke-width="0.8"/>
<line x1="367.80" y1="439.96" x2="367.80" y2="450.42" stroke="#777" stroke-width="0.8"/>
<line x1="365.00" y1="450.42" x2="370.60" y2="450.42" stroke="#777" stroke-width="0.8"/>
<line x1="365.00" y1="420.47" x2="370.60" y2="420.47" stroke="#777" stroke-width="0.8"/>
<rect x="362.65" y="421.05" width="10.30" height="18.90" fill="#f4932c" stroke="#7a4510" stroke-width="1.0"/>
<line x1="362.65" y1="426.87" x2="372.95" y2="426.87" stroke="#7a4510" stroke-width="1"/>
<line x1="384.60" y1="403.61" x2="384.60" y2="407.39" stroke="#777" stroke-width="0.8"/>
<line x1="384.60" y1="424.83" x2="384.60" y2="427.74" stroke="#777" stroke-width="0.8"/>
<line x1="381.80" y1="427.74" x2="387.40" y2="427.74" stroke="#777" stroke-width="0.8"/>
<line x1="381.80" y1="403.61" x2="387.40" y2="403.61" stroke="#777" stroke-width="0.8"/>
<rect x="379.45" y="407.39" width="10.30" height="17.45" fill="#4ea34a" stroke="#1d501d" stroke-width="1.0"/>
<line x1="379.45" y1="411.17" x2="389.75" y2="411.17" stroke="#1d501d" stroke-width="1"/>
<line x1="401.60" y1="417.56" x2="401.60" y2="425.42" stroke="#777" stroke-width="0.8"/>
<line x1="401.60" y1="457.69" x2="401.60" y2="461.77" stroke="#777" stroke-width="0.8"/>
<line x1="398.80" y1="461.77" x2="404.40" y2="461.77" stroke="#777" stroke-width="0.8"/>
<line x1="398.80" y1="417.56" x2="404.40" y2="417.56" stroke="#777" stroke-width="0.8"/>
<rect x="396.45" y="425.42" width="10.30" height="32.28" fill="#e34c5a" stroke="#7e1f2c" stroke-width="1.0"/>
<line x1="396.45" y1="446.06" x2="406.75" y2="446.06" stroke="#7e1f2c" stroke-width="1"/>
<text x="475" y="382.8" font-size="6.8" text-anchor="middle" fill="#111" style="stroke-width:0.12px">PDX.003.213</text>
<text transform="translate(428.47,430.50) rotate(-90)" font-size="5.8" font-weight="bold" text-anchor="middle" fill="#111" style="stroke-width:0.2px">CDK1_pT14</text>
<line x1="438.70" y1="463.90" x2="512.00" y2="463.90" stroke="#7a7070" stroke-width="1.1" stroke-dasharray="0.7,1.3"/>
<line x1="438.70" y1="391.60" x2="438.70" y2="463.90" stroke="#aaa" stroke-width="0.8"/>
<line x1="438.70" y1="463.90" x2="512.00" y2="463.90" stroke="#aaa" stroke-width="0.8"/>
<line x1="436.20" y1="463.90" x2="438.70" y2="463.90" stroke="#aaa" stroke-width="0.8"/>
<text x="435.00" y="465.66" font-size="4.9" font-weight="bold" text-anchor="end" fill="#333" style="stroke:#333">0</text>
<line x1="436.20" y1="445.82" x2="438.70" y2="445.82" stroke="#aaa" stroke-width="0.8"/>
<text x="435.00" y="447.59" font-size="4.9" font-weight="bold" text-anchor="end" fill="#333" style="stroke:#333">1</text>
<line x1="436.20" y1="427.75" x2="438.70" y2="427.75" stroke="#aaa" stroke-width="0.8"/>
<text x="435.00" y="429.51" font-size="4.9" font-weight="bold" text-anchor="end" fill="#333" style="stroke:#333">2</text>
<line x1="436.20" y1="409.68" x2="438.70" y2="409.68" stroke="#aaa" stroke-width="0.8"/>
<text x="435.00" y="411.44" font-size="4.9" font-weight="bold" text-anchor="end" fill="#333" style="stroke:#333">3</text>
<line x1="436.20" y1="391.60" x2="438.70" y2="391.60" stroke="#aaa" stroke-width="0.8"/>
<text x="435.00" y="393.36" font-size="4.9" font-weight="bold" text-anchor="end" fill="#333" style="stroke:#333">4</text>
<line x1="449.40" y1="463.90" x2="449.40" y2="466.40" stroke="#aaa" stroke-width="0.8"/>
<text x="449.40" y="474.20" font-size="6.5" text-anchor="middle" fill="#111">C</text>
<line x1="466.70" y1="463.90" x2="466.70" y2="466.40" stroke="#aaa" stroke-width="0.8"/>
<text x="466.70" y="474.20" font-size="6.5" text-anchor="middle" fill="#111">A</text>
<line x1="483.70" y1="463.90" x2="483.70" y2="466.40" stroke="#aaa" stroke-width="0.8"/>
<text x="483.70" y="474.20" font-size="6.5" text-anchor="middle" fill="#111">T</text>
<line x1="500.60" y1="463.90" x2="500.60" y2="466.40" stroke="#aaa" stroke-width="0.8"/>
<text x="500.60" y="474.20" font-size="6.5" text-anchor="middle" fill="#111">A+T</text>
<line x1="449.40" y1="433.53" x2="449.40" y2="435.34" stroke="#777" stroke-width="0.8"/>
<line x1="449.40" y1="444.02" x2="449.40" y2="445.46" stroke="#777" stroke-width="0.8"/>
<line x1="446.60" y1="445.46" x2="452.20" y2="445.46" stroke="#777" stroke-width="0.8"/>
<line x1="446.60" y1="433.53" x2="452.20" y2="433.53" stroke="#777" stroke-width="0.8"/>
<rect x="444.25" y="435.34" width="10.30" height="8.68" fill="#4a78b8" stroke="#1c3160" stroke-width="1.0"/>
<line x1="444.25" y1="441.31" x2="454.55" y2="441.31" stroke="#1c3160" stroke-width="1"/>
<line x1="466.70" y1="419.62" x2="466.70" y2="424.50" stroke="#777" stroke-width="0.8"/>
<line x1="466.70" y1="434.62" x2="466.70" y2="439.50" stroke="#777" stroke-width="0.8"/>
<line x1="463.90" y1="439.50" x2="469.50" y2="439.50" stroke="#777" stroke-width="0.8"/>
<line x1="463.90" y1="419.62" x2="469.50" y2="419.62" stroke="#777" stroke-width="0.8"/>
<rect x="461.55" y="424.50" width="10.30" height="10.12" fill="#f4932c" stroke="#7a4510" stroke-width="1.0"/>
<line x1="461.55" y1="428.65" x2="471.85" y2="428.65" stroke="#7a4510" stroke-width="1"/>
<line x1="483.70" y1="407.51" x2="483.70" y2="407.87" stroke="#777" stroke-width="0.8"/>
<line x1="483.70" y1="410.04" x2="483.70" y2="410.58" stroke="#777" stroke-width="0.8"/>
<line x1="480.90" y1="410.58" x2="486.50" y2="410.58" stroke="#777" stroke-width="0.8"/>
<line x1="480.90" y1="407.51" x2="486.50" y2="407.51" stroke="#777" stroke-width="0.8"/>
<rect x="478.55" y="407.87" width="10.30" height="2.17" fill="#4ea34a" stroke="#1d501d" stroke-width="1.0"/>
<line x1="478.55" y1="408.77" x2="488.85" y2="408.77" stroke="#1d501d" stroke-width="1"/>
<line x1="500.60" y1="420.52" x2="500.60" y2="420.88" stroke="#777" stroke-width="0.8"/>
<line x1="500.60" y1="432.81" x2="500.60" y2="433.17" stroke="#777" stroke-width="0.8"/>
<line x1="497.80" y1="433.17" x2="503.40" y2="433.17" stroke="#777" stroke-width="0.8"/>
<line x1="497.80" y1="420.52" x2="503.40" y2="420.52" stroke="#777" stroke-width="0.8"/>
<rect x="495.45" y="420.88" width="10.30" height="11.93" fill="#e34c5a" stroke="#7e1f2c" stroke-width="1.0"/>
<line x1="495.45" y1="428.29" x2="505.75" y2="428.29" stroke="#7e1f2c" stroke-width="1"/>
<text x="115.6" y="499.6" font-size="10.5" text-anchor="middle" fill="#111">PDX.003.204</text>
<text x="304.8" y="498.8" font-size="10.5" text-anchor="middle" fill="#111">PDX.003.213</text>
<rect x="31.20" y="503.80" width="82.40" height="14.60" rx="0.8" fill="#fff" stroke="#444" stroke-width="1.1"/>
<text x="72.40" y="513.70" font-size="5.9" font-weight="bold" text-anchor="middle" fill="#111">Control</text>
<rect x="31.20" y="522.60" width="82.40" height="76.00" fill="#000" filter="url(#tex00)"/>
<svg x="31.20" y="522.60" width="82.40" height="76.00" overflow="hidden"><g filter="url(#soft)">
<circle cx="12.0" cy="34.6" r="0.5" fill="#d8c0e4" opacity="0.6"/><circle cx="58.1" cy="55.6" r="0.4" fill="#d8c0e4" opacity="0.6"/><circle cx="65.9" cy="40.5" r="0.3" fill="#d8c0e4" opacity="0.6"/><circle cx="37.6" cy="3.6" r="0.6" fill="#d8c0e4" opacity="0.6"/><circle cx="78.0" cy="25.5" r="0.4" fill="#d8c0e4" opacity="0.6"/><circle cx="63.3" cy="15.5" r="0.4" fill="#d8c0e4" opacity="0.6"/><circle cx="15.5" cy="26.4" r="0.5" fill="#d8c0e4" opacity="0.6"/><circle cx="79.4" cy="16.0" r="0.6" fill="#d8c0e4" opacity="0.6"/><circle cx="45.8" cy="68.5" r="0.5" fill="#d8c0e4" opacity="0.6"/><circle cx="13.2" cy="49.3" r="0.3" fill="#d8c0e4" opacity="0.6"/><circle cx="0.5" cy="30.1" r="0.5" fill="#d8c0e4" opacity="0.6"/><circle cx="46.7" cy="14.6" r="0.6" fill="#d8c0e4" opacity="0.6"/><circle cx="75.3" cy="18.0" r="0.4" fill="#d8c0e4" opacity="0.6"/><circle cx="52.6" cy="68.6" r="0.3" fill="#d8c0e4" opacity="0.6"/><circle cx="45.6" cy="73.6" r="0.5" fill="#d8c0e4" opacity="0.6"/><circle cx="59.1" cy="58.9" r="0.5" fill="#d8c0e4" opacity="0.6"/><circle cx="23.9" cy="44.9" r="0.5" fill="#d8c0e4" opacity="0.6"/><circle cx="28.3" cy="64.9" r="0.4" fill="#d8c0e4" opacity="0.6"/><circle cx="39.8" cy="57.9" r="0.5" fill="#d8c0e4" opacity="0.6"/><circle cx="73.4" cy="49.5" r="0.4" fill="#d8c0e4" opacity="0.6"/><circle cx="69.8" cy="69.1" r="0.5" fill="#d8c0e4" opacity="0.6"/><circle cx="63.2" cy="39.0" r="0.4" fill="#d8c0e4" opacity="0.6"/><circle cx="48.0" cy="11.2" r="0.5" fill="#d8c0e4" opacity="0.6"/><circle cx="71.0" cy="12.5" r="0.5" fill="#d8c0e4" opacity="0.6"/><circle cx="58.2" cy="9.2" r="0.3" fill="#d8c0e4" opacity="0.6"/><circle cx="49.1" cy="16.7" r="0.4" fill="#d8c0e4" opacity="0.6"/><circle cx="51.2" cy="49.5" r="0.5" fill="#d8c0e4" opacity="0.6"/><circle cx="46.8" cy="25.4" r="0.3" fill="#d8c0e4" opacity="0.6"/><circle cx="9.4" cy="14.7" r="0.5" fill="#d8c0e4" opacity="0.6"/><circle cx="59.3" cy="15.9" r="0.4" fill="#d8c0e4" opacity="0.6"/><circle cx="77.2" cy="30.4" r="0.5" fill="#d8c0e4" opacity="0.6"/><circle cx="51.0" cy="50.1" r="0.4" fill="#d8c0e4" opacity="0.6"/><circle cx="44.9" cy="53.3" r="0.3" fill="#d8c0e4" opacity="0.6"/><circle cx="65.8" cy="66.3" r="0.3" fill="#d8c0e4" opacity="0.6"/><circle cx="16.3" cy="18.9" r="0.3" fill="#d8c0e4" opacity="0.6"/><circle cx="11.5" cy="48.7" r="0.3" fill="#d8c0e4" opacity="0.6"/><circle cx="5.5" cy="71.9" r="0.4" fill="#d8c0e4" opacity="0.6"/><circle cx="44.5" cy="36.0" r="0.4" fill="#d8c0e4" opacity="0.6"/><circle cx="37.4" cy="14.8" r="0.5" fill="#d8c0e4" opacity="0.6"/><circle cx="20.7" cy="11.0" r="0.4" fill="#d8c0e4" opacity="0.6"/>
</g></svg>
<rect x="31.20" y="522.60" width="82.40" height="76.00" fill="none" stroke="#222" stroke-width="1"/>
<rect x="121.10" y="503.80" width="82.10" height="14.60" rx="0.8" fill="#fff" stroke="#444" stroke-width="1.1"/>
<text x="162.15" y="513.70" font-size="5.9" font-weight="bold" text-anchor="middle" fill="#111">Adavosertib</text>
<rect x="121.10" y="522.60" width="82.10" height="76.00" fill="#000" filter="url(#tex01)"/>
<svg x="121.10" y="522.60" width="82.10" height="76.00" overflow="hidden"><g filter="url(#soft)">
<circle cx="54.4" cy="17.4" r="2.2" fill="none" stroke="#f4e4f6" stroke-width="0.9" opacity="0.85"/><circle cx="11.0" cy="4.4" r="1.8" fill="none" stroke="#f4e4f6" stroke-width="0.9" opacity="0.85"/><circle cx="9.8" cy="46.5" r="1.8" fill="none" stroke="#f4e4f6" stroke-width="0.9" opacity="0.85"/><circle cx="35.5" cy="45.7" r="1.8" fill="none" stroke="#f4e4f6" stroke-width="0.9" opacity="0.85"/><circle cx="2.8" cy="63.9" r="1.7" fill="none" stroke="#f4e4f6" stroke-width="0.9" opacity="0.85"/><circle cx="47.3" cy="59.1" r="1.2" fill="none" stroke="#f4e4f6" stroke-width="0.9" opacity="0.85"/><circle cx="66.0" cy="12.0" r="1.3" fill="none" stroke="#f4e4f6" stroke-width="0.9" opacity="0.85"/><circle cx="20.0" cy="30.0" r="1.2" fill="none" stroke="#f4e4f6" stroke-width="0.9" opacity="0.85"/><circle cx="72.0" cy="50.0" r="1.4" fill="none" stroke="#f4e4f6" stroke-width="0.9" opacity="0.85"/><path d="M1.5 16.0 Q3.5 20.0 2.5 25.0" fill="none" stroke="#f4e4f6" stroke-width="1.0" stroke-linecap="round" opacity="0.85"/><path d="M7.0 21.0 Q10.0 20.0 12.0 24.0" fill="none" stroke="#f4e4f6" stroke-width="0.9" stroke-linecap="round" opacity="0.8"/><path d="M42.0 47.0 Q44.0 45.0 46.0 44.0" fill="none" stroke="#f4e4f6" stroke-width="1.0" stroke-linecap="round" opacity="0.85"/><ellipse cx="43.0" cy="6.0" rx="5.0" ry="3.0" fill="#e8b0d8" opacity="0.25" transform="rotate(0 43.0 6.0)"/><path d="M47.7 14.8 Q49.5 16.6 51.3 18.2 Q52.5 20.5 54.7 21.5" fill="none" stroke="#f4e4f6" stroke-width="0.6" stroke-linecap="round" opacity="0.45"/><path d="M18.2 21.9 Q16.0 20.7 16.2 18.2 Q14.2 16.8 11.7 17.1" fill="none" stroke="#f4e4f6" stroke-width="0.6" stroke-linecap="round" opacity="0.45"/><path d="M7.3 58.5 Q5.8 60.5 5.1 62.9 Q3.8 65.0 2.9 67.4" fill="none" stroke="#f4e4f6" stroke-width="0.6" stroke-linecap="round" opacity="0.45"/><path d="M17.1 32.7 Q18.5 34.8 18.0 37.2 Q16.6 39.3 14.5 40.6" fill="none" stroke="#f4e4f6" stroke-width="0.6" stroke-linecap="round" opacity="0.45"/><path d="M72.4 30.0 Q71.0 32.0 70.0 34.3 Q68.2 36.1 69.2 38.4" fill="none" stroke="#f4e4f6" stroke-width="0.6" stroke-linecap="round" opacity="0.45"/><path d="M38.1 40.7 Q39.4 42.8 39.6 45.3 Q41.9 46.1 44.1 47.3" fill="none" stroke="#f4e4f6" stroke-width="0.6" stroke-linecap="round" opacity="0.45"/><path d="M12.6 2.6 Q15.1 2.9 16.9 1.2 Q19.3 0.4 21.7 1.0" fill="none" stroke="#f4e4f6" stroke-width="0.6" stroke-linecap="round" opacity="0.45"/><path d="M29.8 49.6 Q27.3 50.0 25.5 48.3 Q23.1 47.6 22.1 45.3" fill="none" stroke="#f4e4f6" stroke-width="0.6" stroke-linecap="round" opacity="0.45"/><path d="M56.7 51.9 Q58.2 49.9 56.9 47.7 Q55.0 46.1 55.5 43.7" fill="none" stroke="#f4e4f6" stroke-width="0.6" stroke-linecap="round" opacity="0.45"/><path d="M71.9 63.7 Q72.7 66.1 71.9 68.5 Q69.7 69.7 67.3 69.2" fill="none" stroke="#f4e4f6" stroke-width="0.6" stroke-linecap="round" opacity="0.45"/><path d="M11.5 13.6 Q13.4 11.9 15.8 12.4 Q18.3 12.6 19.6 14.8" fill="none" stroke="#f4e4f6" stroke-width="0.6" stroke-linecap="round" opacity="0.45"/><path d="M11.4 72.7 Q12.5 70.5 11.2 68.4 Q10.0 66.2 10.0 63.7" fill="none" stroke="#f4e4f6" stroke-width="0.6" stroke-linecap="round" opacity="0.45"/><path d="M28.8 4.4 Q26.7 5.8 26.8 8.3 Q24.6 9.6 23.6 11.9" fill="none" stroke="#f4e4f6" stroke-width="0.6" stroke-linecap="round" opacity="0.45"/><path d="M16.8 8.5 Q18.5 10.4 20.7 11.4 Q22.9 10.0 25.3 9.6" fill="none" stroke="#f4e4f6" stroke-width="0.6" stroke-linecap="round" opacity="0.45"/><line x1="6.3" y1="69.7" x2="46" y2="69.7" stroke="#f0e8f8" stroke-width="1.1" opacity="0.95"/><rect x="21" y="71" width="12" height="3.5" fill="#2a1030" opacity="0.45"/>
</g></svg>
<rect x="121.10" y="522.60" width="82.10" height="76.00" fill="none" stroke="#222" stroke-width="1"/>
<rect x="220.20" y="503.80" width="81.40" height="14.60" rx="0.8" fill="#fff" stroke="#444" stroke-width="1.1"/>
<text x="260.90" y="513.70" font-size="5.9" font-weight="bold" text-anchor="middle" fill="#111">Control</text>
<rect x="220.20" y="522.60" width="81.40" height="76.00" fill="#000" filter="url(#tex02)"/>
<svg x="220.20" y="522.60" width="81.40" height="76.00" overflow="hidden"><g filter="url(#soft)">
<circle cx="12.1" cy="46.8" r="0.4" fill="#e0c8ec" opacity="0.6"/><circle cx="58.0" cy="46.2" r="0.5" fill="#e0c8ec" opacity="0.6"/><circle cx="50.3" cy="43.0" r="0.3" fill="#e0c8ec" opacity="0.6"/><circle cx="43.2" cy="47.1" r="0.5" fill="#e0c8ec" opacity="0.6"/><circle cx="71.6" cy="55.9" r="0.5" fill="#e0c8ec" opacity="0.6"/><circle cx="18.5" cy="9.7" r="0.6" fill="#e0c8ec" opacity="0.6"/><circle cx="56.1" cy="46.3" r="0.5" fill="#e0c8ec" opacity="0.6"/><circle cx="40.8" cy="16.9" r="0.5" fill="#e0c8ec" opacity="0.6"/><circle cx="11.8" cy="47.2" r="0.6" fill="#e0c8ec" opacity="0.6"/><circle cx="54.6" cy="18.7" r="0.3" fill="#e0c8ec" opacity="0.6"/><circle cx="27.1" cy="52.3" r="0.5" fill="#e0c8ec" opacity="0.6"/><circle cx="60.9" cy="32.8" r="0.5" fill="#e0c8ec" opacity="0.6"/><circle cx="73.9" cy="12.7" r="0.4" fill="#e0c8ec" opacity="0.6"/><circle cx="47.9" cy="48.0" r="0.5" fill="#e0c8ec" opacity="0.6"/><circle cx="45.4" cy="33.5" r="0.6" fill="#e0c8ec" opacity="0.6"/><circle cx="72.3" cy="62.7" r="0.6" fill="#e0c8ec" opacity="0.6"/><circle cx="38.3" cy="72.0" r="0.5" fill="#e0c8ec" opacity="0.6"/><circle cx="50.9" cy="66.0" r="0.6" fill="#e0c8ec" opacity="0.6"/><circle cx="31.8" cy="56.5" r="0.5" fill="#e0c8ec" opacity="0.6"/><circle cx="74.5" cy="47.4" r="0.5" fill="#e0c8ec" opacity="0.6"/><circle cx="79.3" cy="40.1" r="0.5" fill="#e0c8ec" opacity="0.6"/><circle cx="76.3" cy="71.7" r="0.4" fill="#e0c8ec" opacity="0.6"/><circle cx="5.9" cy="65.2" r="0.7" fill="#e0c8ec" opacity="0.6"/><circle cx="31.3" cy="19.4" r="0.6" fill="#e0c8ec" opacity="0.6"/><circle cx="76.5" cy="16.2" r="0.5" fill="#e0c8ec" opacity="0.6"/><circle cx="53.9" cy="16.8" r="0.5" fill="#e0c8ec" opacity="0.6"/><circle cx="11.6" cy="36.5" r="0.4" fill="#e0c8ec" opacity="0.6"/><circle cx="6.6" cy="29.6" r="0.4" fill="#e0c8ec" opacity="0.6"/><circle cx="9.7" cy="11.4" r="0.5" fill="#e0c8ec" opacity="0.6"/><circle cx="25.9" cy="55.4" r="0.5" fill="#e0c8ec" opacity="0.6"/><circle cx="19.8" cy="14.3" r="0.4" fill="#e0c8ec" opacity="0.6"/><circle cx="60.5" cy="15.3" r="0.5" fill="#e0c8ec" opacity="0.6"/><circle cx="65.7" cy="63.1" r="0.5" fill="#e0c8ec" opacity="0.6"/><circle cx="68.6" cy="48.8" r="0.4" fill="#e0c8ec" opacity="0.6"/><circle cx="7.6" cy="12.9" r="0.6" fill="#e0c8ec" opacity="0.6"/><circle cx="31.7" cy="63.6" r="0.7" fill="#e0c8ec" opacity="0.6"/><circle cx="74.8" cy="35.7" r="0.3" fill="#e0c8ec" opacity="0.6"/><circle cx="22.5" cy="16.6" r="0.6" fill="#e0c8ec" opacity="0.6"/><circle cx="57.1" cy="70.0" r="0.6" fill="#e0c8ec" opacity="0.6"/><circle cx="78.1" cy="48.5" r="0.5" fill="#e0c8ec" opacity="0.6"/><circle cx="68.1" cy="20.8" r="0.6" fill="#e0c8ec" opacity="0.6"/><circle cx="59.2" cy="65.9" r="0.3" fill="#e0c8ec" opacity="0.6"/><circle cx="15.3" cy="72.2" r="0.4" fill="#e0c8ec" opacity="0.6"/><circle cx="36.7" cy="45.7" r="0.5" fill="#e0c8ec" opacity="0.6"/><circle cx="71.6" cy="72.6" r="0.4" fill="#e0c8ec" opacity="0.6"/><circle cx="10.9" cy="69.5" r="0.5" fill="#e0c8ec" opacity="0.6"/><circle cx="20.2" cy="10.5" r="0.3" fill="#e0c8ec" opacity="0.6"/><circle cx="47.4" cy="21.4" r="0.5" fill="#e0c8ec" opacity="0.6"/><circle cx="75.2" cy="36.8" r="0.7" fill="#e0c8ec" opacity="0.6"/><circle cx="5.4" cy="57.6" r="0.6" fill="#e0c8ec" opacity="0.6"/><path d="M23.3 64.5 Q24.4 62.8 24.1 60.9" fill="none" stroke="#f4e4f6" stroke-width="1.2611294260439099" stroke-linecap="round" opacity="0.85"/><path d="M40.4 68.2 Q42.5 67.2 42.4 64.9" fill="none" stroke="#f4e4f6" stroke-width="1.177609901713221" stroke-linecap="round" opacity="0.85"/><path d="M4.8 69.5 Q6.2 68.3 5.6 66.6" fill="none" stroke="#f4e4f6" stroke-width="0.9269934079113403" stroke-linecap="round" opacity="0.85"/><path d="M8.1 75.4 Q8.9 73.0 7.6 70.8" fill="none" stroke="#f4e4f6" stroke-width="1.0354487203079947" stroke-linecap="round" opacity="0.85"/><path d="M21.7 59.3 Q22.6 58.0 23.3 56.7" fill="none" stroke="#f4e4f6" stroke-width="0.9820579182900443" stroke-linecap="round" opacity="0.85"/><path d="M5.0 68.0 Q4.4 66.1 4.9 64.2" fill="none" stroke="#f4e4f6" stroke-width="0.9355375248077484" stroke-linecap="round" opacity="0.85"/><path d="M2.5 67.9 Q3.3 66.9 3.9 65.7" fill="none" stroke="#f4e4f6" stroke-width="1.2978616181401883" stroke-linecap="round" opacity="0.85"/><path d="M38.3 75.7 Q40.0 73.5 39.0 70.8" fill="none" stroke="#f4e4f6" stroke-width="1.0887866376809097" stroke-linecap="round" opacity="0.85"/><path d="M39.0 60.2 Q39.5 58.4 39.2 56.5" fill="none" stroke="#f4e4f6" stroke-width="1.2251802830398013" stroke-linecap="round" opacity="0.85"/><path d="M14.8 70.9 Q15.1 68.6 16.3 66.6" fill="none" stroke="#f4e4f6" stroke-width="1.265977088205264" stroke-linecap="round" opacity="0.85"/><path d="M38.9 66.5 Q37.7 65.2 38.7 63.8" fill="none" stroke="#f4e4f6" stroke-width="1.243223609975525" stroke-linecap="round" opacity="0.85"/><path d="M41.0 56.9 Q42.6 54.9 42.6 52.3" fill="none" stroke="#f4e4f6" stroke-width="0.9094281426895092" stroke-linecap="round" opacity="0.85"/><path d="M8.0 55.7 Q7.7 53.2 9.3 51.3" fill="none" stroke="#f4e4f6" stroke-width="1.1756386905980754" stroke-linecap="round" opacity="0.85"/><path d="M45.0 75.3 Q44.5 72.8 45.3 70.5" fill="none" stroke="#f4e4f6" stroke-width="0.9980201470897013" stroke-linecap="round" opacity="0.85"/><path d="M26.9 54.4 Q28.5 52.2 27.1 49.9" fill="none" stroke="#f4e4f6" stroke-width="1.1146048993569788" stroke-linecap="round" opacity="0.85"/><path d="M20.0 57.4 Q20.0 55.4 19.0 53.7" fill="none" stroke="#f4e4f6" stroke-width="0.9389515602064793" stroke-linecap="round" opacity="0.85"/><path d="M18.5 67.7 Q19.1 65.2 17.3 63.3" fill="none" stroke="#f4e4f6" stroke-width="1.088232643107889" stroke-linecap="round" opacity="0.85"/><path d="M16.9 72.3 Q18.4 70.6 18.8 68.4" fill="none" stroke="#f4e4f6" stroke-width="1.0298047270049306" stroke-linecap="round" opacity="0.85"/><path d="M37.9 63.3 Q39.4 61.4 39.0 59.1" fill="none" stroke="#f4e4f6" stroke-width="1.0539043701886175" stroke-linecap="round" opacity="0.85"/><path d="M43.9 58.6 Q45.8 57.9 45.1 56.0" fill="none" stroke="#f4e4f6" stroke-width="1.1009777531895188" stroke-linecap="round" opacity="0.85"/><path d="M13.0 65.5 Q13.5 64.3 13.9 63.1" fill="none" stroke="#f4e4f6" stroke-width="1.0494612408353383" stroke-linecap="round" opacity="0.85"/><path d="M41.7 72.0 Q43.1 70.2 43.6 68.1" fill="none" stroke="#f4e4f6" stroke-width="1.147727483465156" stroke-linecap="round" opacity="0.85"/><path d="M25.0 59.6 Q23.7 57.6 24.7 55.5" fill="none" stroke="#f4e4f6" stroke-width="0.9967549868517156" stroke-linecap="round" opacity="0.85"/><path d="M16.4 54.1 Q17.6 52.4 16.4 50.6" fill="none" stroke="#f4e4f6" stroke-width="1.158063666956741" stroke-linecap="round" opacity="0.85"/>
</g></svg>
<rect x="220.20" y="522.60" width="81.40" height="76.00" fill="none" stroke="#222" stroke-width="1"/>
<rect x="310.30" y="503.80" width="81.70" height="14.60" rx="0.8" fill="#fff" stroke="#444" stroke-width="1.1"/>
<text x="351.15" y="513.70" font-size="5.9" font-weight="bold" text-anchor="middle" fill="#111">Adavosertib</text>
<rect x="310.30" y="522.60" width="81.70" height="76.00" fill="#000" filter="url(#tex03)"/>
<svg x="310.30" y="522.60" width="81.70" height="76.00" overflow="hidden"><g filter="url(#soft)">
<circle cx="80.0" cy="34.7" r="0.6" fill="#e4d0f0" opacity="0.6"/><circle cx="60.0" cy="16.3" r="0.3" fill="#e4d0f0" opacity="0.6"/><circle cx="49.2" cy="9.3" r="0.5" fill="#e4d0f0" opacity="0.6"/><circle cx="72.7" cy="66.3" r="0.3" fill="#e4d0f0" opacity="0.6"/><circle cx="6.7" cy="16.9" r="0.6" fill="#e4d0f0" opacity="0.6"/><circle cx="2.0" cy="17.1" r="0.3" fill="#e4d0f0" opacity="0.6"/><circle cx="10.4" cy="39.8" r="0.4" fill="#e4d0f0" opacity="0.6"/><circle cx="33.5" cy="55.7" r="0.6" fill="#e4d0f0" opacity="0.6"/><circle cx="33.9" cy="59.7" r="0.5" fill="#e4d0f0" opacity="0.6"/><circle cx="67.6" cy="18.9" r="0.4" fill="#e4d0f0" opacity="0.6"/><circle cx="47.4" cy="71.9" r="0.5" fill="#e4d0f0" opacity="0.6"/><circle cx="38.8" cy="19.1" r="0.4" fill="#e4d0f0" opacity="0.6"/><circle cx="17.6" cy="75.0" r="0.7" fill="#e4d0f0" opacity="0.6"/><circle cx="73.1" cy="40.2" r="0.6" fill="#e4d0f0" opacity="0.6"/><circle cx="24.2" cy="36.6" r="0.4" fill="#e4d0f0" opacity="0.6"/><circle cx="34.3" cy="19.2" r="0.3" fill="#e4d0f0" opacity="0.6"/><circle cx="75.1" cy="7.3" r="0.6" fill="#e4d0f0" opacity="0.6"/><circle cx="57.2" cy="6.8" r="0.5" fill="#e4d0f0" opacity="0.6"/><circle cx="81.4" cy="75.0" r="0.5" fill="#e4d0f0" opacity="0.6"/><circle cx="63.1" cy="53.9" r="0.4" fill="#e4d0f0" opacity="0.6"/><circle cx="44.9" cy="45.4" r="0.5" fill="#e4d0f0" opacity="0.6"/><circle cx="66.9" cy="33.8" r="0.6" fill="#e4d0f0" opacity="0.6"/><circle cx="5.3" cy="33.8" r="0.3" fill="#e4d0f0" opacity="0.6"/><circle cx="52.8" cy="66.3" r="0.5" fill="#e4d0f0" opacity="0.6"/><circle cx="46.2" cy="47.3" r="0.4" fill="#e4d0f0" opacity="0.6"/><circle cx="31.6" cy="44.0" r="0.6" fill="#e4d0f0" opacity="0.6"/><circle cx="31.1" cy="36.3" r="0.4" fill="#e4d0f0" opacity="0.6"/><circle cx="45.3" cy="51.4" r="0.4" fill="#e4d0f0" opacity="0.6"/><circle cx="56.0" cy="64.5" r="0.5" fill="#e4d0f0" opacity="0.6"/><circle cx="80.1" cy="23.5" r="0.7" fill="#e4d0f0" opacity="0.6"/><circle cx="14.9" cy="27.6" r="0.6" fill="#e4d0f0" opacity="0.6"/><circle cx="2.7" cy="46.7" r="0.6" fill="#e4d0f0" opacity="0.6"/><circle cx="77.1" cy="51.8" r="0.4" fill="#e4d0f0" opacity="0.6"/><circle cx="27.1" cy="48.0" r="0.3" fill="#e4d0f0" opacity="0.6"/><circle cx="2.3" cy="67.0" r="0.6" fill="#e4d0f0" opacity="0.6"/><circle cx="13.3" cy="32.6" r="0.4" fill="#e4d0f0" opacity="0.6"/><circle cx="71.0" cy="21.8" r="0.6" fill="#e4d0f0" opacity="0.6"/><circle cx="60.8" cy="24.2" r="0.4" fill="#e4d0f0" opacity="0.6"/><circle cx="42.6" cy="30.4" r="0.5" fill="#e4d0f0" opacity="0.6"/><circle cx="26.8" cy="60.4" r="0.5" fill="#e4d0f0" opacity="0.6"/><circle cx="11.1" cy="58.9" r="0.7" fill="#e4d0f0" opacity="0.6"/><circle cx="55.7" cy="41.5" r="0.6" fill="#e4d0f0" opacity="0.6"/><circle cx="76.3" cy="0.7" r="0.5" fill="#e4d0f0" opacity="0.6"/><circle cx="1.6" cy="25.3" r="0.4" fill="#e4d0f0" opacity="0.6"/><circle cx="37.7" cy="51.5" r="0.6" fill="#e4d0f0" opacity="0.6"/><path d="M55.0 8.0 Q54.0 10.0 53.0 12.0" fill="none" stroke="#f4e4f6" stroke-width="0.7" stroke-linecap="round" opacity="0.8"/><ellipse cx="79.0" cy="9.5" rx="1.0" ry="1.3" fill="#f4e4f6" opacity="0.8" transform="rotate(0 79.0 9.5)"/>
</g></svg>
<rect x="310.30" y="522.60" width="81.70" height="76.00" fill="none" stroke="#222" stroke-width="1"/>
<rect x="31.20" y="602.20" width="82.40" height="14.70" rx="0.8" fill="#fff" stroke="#444" stroke-width="1.1"/>
<text x="72.40" y="612.15" font-size="5.9" font-weight="bold" text-anchor="middle" fill="#111">T-DXd</text>
<rect x="31.20" y="620.80" width="82.40" height="74.80" fill="#000" filter="url(#tex10)"/>
<svg x="31.20" y="620.80" width="82.40" height="74.80" overflow="hidden"><g filter="url(#soft)">
<circle cx="6.3" cy="38.6" r="1.8" fill="none" stroke="#f4e4f6" stroke-width="0.9" opacity="0.8"/><circle cx="41.8" cy="40.2" r="1.6" fill="none" stroke="#f4e4f6" stroke-width="0.9" opacity="0.8"/><circle cx="70.0" cy="11.0" r="1.5" fill="none" stroke="#f4e4f6" stroke-width="0.8" opacity="0.7"/><path d="M40.0 3.0 Q43.0 6.0 41.0 9.0" fill="none" stroke="#f4e4f6" stroke-width="0.9" stroke-linecap="round" opacity="0.75"/><ellipse cx="61.5" cy="26.0" rx="1.0" ry="1.0" fill="#f4e4f6" opacity="0.8" transform="rotate(0 61.5 26.0)"/><path d="M22.0 53.0 Q28.0 47.0 34.0 42.0" fill="none" stroke="#d070b0" stroke-width="2.2" stroke-linecap="round" opacity="0.35"/><ellipse cx="12.0" cy="12.0" rx="8.0" ry="5.0" fill="#d080c0" opacity="0.2" transform="rotate(30 12.0 12.0)"/><path d="M77.0 29.0 Q76.6 26.6 76.1 24.1 Q74.4 22.3 72.9 20.3" fill="none" stroke="#f4e4f6" stroke-width="0.6" stroke-linecap="round" opacity="0.35"/><path d="M6.2 31.2 Q7.8 33.1 7.6 35.6 Q5.4 36.8 4.9 39.3" fill="none" stroke="#f4e4f6" stroke-width="0.6" stroke-linecap="round" opacity="0.35"/><path d="M52.1 39.5 Q49.7 40.2 47.2 39.9 Q44.9 40.8 43.0 42.5" fill="none" stroke="#f4e4f6" stroke-width="0.6" stroke-linecap="round" opacity="0.35"/><path d="M41.8 74.3 Q44.2 74.9 46.7 75.2 Q47.8 77.4 46.2 79.4" fill="none" stroke="#f4e4f6" stroke-width="0.6" stroke-linecap="round" opacity="0.35"/><path d="M72.8 14.5 Q71.9 16.9 71.3 19.3 Q69.1 20.5 66.9 21.7" fill="none" stroke="#f4e4f6" stroke-width="0.6" stroke-linecap="round" opacity="0.35"/><path d="M27.1 12.3 Q26.9 14.8 24.6 15.8 Q22.5 14.5 20.5 16.1" fill="none" stroke="#f4e4f6" stroke-width="0.6" stroke-linecap="round" opacity="0.35"/><path d="M22.0 10.5 Q20.6 12.6 19.2 14.6 Q18.0 16.8 16.3 18.6" fill="none" stroke="#f4e4f6" stroke-width="0.6" stroke-linecap="round" opacity="0.35"/><path d="M42.4 37.6 Q43.0 40.0 43.9 42.3 Q42.8 44.5 42.6 47.0" fill="none" stroke="#f4e4f6" stroke-width="0.6" stroke-linecap="round" opacity="0.35"/><path d="M7.5 74.1 Q5.8 76.0 3.4 75.3 Q2.7 72.9 0.4 72.0" fill="none" stroke="#f4e4f6" stroke-width="0.6" stroke-linecap="round" opacity="0.35"/><path d="M78.3 9.8 Q80.8 9.7 82.5 11.6 Q83.5 13.9 84.3 16.3" fill="none" stroke="#f4e4f6" stroke-width="0.6" stroke-linecap="round" opacity="0.35"/>
</g></svg>
<rect x="31.20" y="620.80" width="82.40" height="74.80" fill="none" stroke="#222" stroke-width="1"/>
<rect x="121.10" y="602.20" width="82.10" height="14.70" rx="0.8" fill="#fff" stroke="#444" stroke-width="1.1"/>
<text x="162.15" y="612.15" font-size="5.9" font-weight="bold" text-anchor="middle" fill="#111">T-DXd + Adavosertib</text>
<rect x="121.10" y="620.80" width="82.10" height="74.80" fill="#000" filter="url(#tex11)"/>
<svg x="121.10" y="620.80" width="82.10" height="74.80" overflow="hidden"><g filter="url(#soft)">
<ellipse cx="67.9" cy="15.9" rx="2.1" ry="1.2" fill="#4a1f5c" opacity="0.6" transform="rotate(71.5656876195583 67.9 15.9)"/><ellipse cx="50.7" cy="12.7" rx="1.2" ry="1.1" fill="#4a1f5c" opacity="0.6" transform="rotate(41.346807427674 50.7 12.7)"/><ellipse cx="55.0" cy="31.1" rx="1.5" ry="1.0" fill="#4a1f5c" opacity="0.6" transform="rotate(39.74194470892313 55.0 31.1)"/><ellipse cx="58.8" cy="67.5" rx="1.4" ry="1.4" fill="#4a1f5c" opacity="0.6" transform="rotate(56.36424557864883 58.8 67.5)"/><ellipse cx="62.4" cy="17.9" rx="1.7" ry="1.1" fill="#4a1f5c" opacity="0.6" transform="rotate(156.76520941048472 62.4 17.9)"/><ellipse cx="62.5" cy="8.1" rx="1.1" ry="1.2" fill="#4a1f5c" opacity="0.6" transform="rotate(38.7503193418319 62.5 8.1)"/><ellipse cx="19.5" cy="71.1" rx="2.1" ry="0.8" fill="#4a1f5c" opacity="0.6" transform="rotate(4.003029880728636 19.5 71.1)"/><ellipse cx="51.5" cy="70.9" rx="2.1" ry="1.4" fill="#4a1f5c" opacity="0.6" transform="rotate(133.11042464607894 51.5 70.9)"/><ellipse cx="39.6" cy="36.6" rx="2.0" ry="0.9" fill="#4a1f5c" opacity="0.6" transform="rotate(122.82370282984405 39.6 36.6)"/><ellipse cx="59.1" cy="11.7" rx="1.9" ry="0.9" fill="#4a1f5c" opacity="0.6" transform="rotate(174.24801169318656 59.1 11.7)"/><ellipse cx="62.7" cy="34.1" rx="1.7" ry="1.6" fill="#4a1f5c" opacity="0.6" transform="rotate(66.06473881503094 62.7 34.1)"/><ellipse cx="16.8" cy="51.6" rx="2.1" ry="0.9" fill="#4a1f5c" opacity="0.6" transform="rotate(137.54959729502588 16.8 51.6)"/><ellipse cx="31.9" cy="51.4" rx="1.6" ry="1.6" fill="#4a1f5c" opacity="0.6" transform="rotate(103.68747970529233 31.9 51.4)"/><ellipse cx="79.4" cy="72.0" rx="1.2" ry="1.6" fill="#4a1f5c" opacity="0.6" transform="rotate(136.51306069959082 79.4 72.0)"/><ellipse cx="11.8" cy="43.2" rx="1.3" ry="0.8" fill="#4a1f5c" opacity="0.6" transform="rotate(10.348347101269912 11.8 43.2)"/><ellipse cx="29.8" cy="65.4" rx="1.1" ry="1.3" fill="#4a1f5c" opacity="0.6" transform="rotate(157.16395731891092 29.8 65.4)"/><ellipse cx="29.8" cy="53.7" rx="1.7" ry="1.4" fill="#4a1f5c" opacity="0.6" transform="rotate(86.68233557394936 29.8 53.7)"/><ellipse cx="80.6" cy="29.9" rx="1.3" ry="0.9" fill="#4a1f5c" opacity="0.6" transform="rotate(46.2627759504348 80.6 29.9)"/><ellipse cx="9.7" cy="70.4" rx="1.2" ry="1.5" fill="#4a1f5c" opacity="0.6" transform="rotate(138.64115570612256 9.7 70.4)"/><ellipse cx="38.6" cy="3.8" rx="1.2" ry="1.5" fill="#4a1f5c" opacity="0.6" transform="rotate(74.52157895953802 38.6 3.8)"/><ellipse cx="64.1" cy="9.3" rx="1.1" ry="1.1" fill="#4a1f5c" opacity="0.6" transform="rotate(63.09173440029639 64.1 9.3)"/><ellipse cx="16.9" cy="47.9" rx="1.7" ry="1.2" fill="#4a1f5c" opacity="0.6" transform="rotate(56.80958011723376 16.9 47.9)"/><ellipse cx="33.7" cy="20.1" rx="1.7" ry="1.1" fill="#4a1f5c" opacity="0.6" transform="rotate(117.11091117677344 33.7 20.1)"/><ellipse cx="79.1" cy="24.2" rx="1.7" ry="0.9" fill="#4a1f5c" opacity="0.6" transform="rotate(149.30138524281017 79.1 24.2)"/><ellipse cx="43.7" cy="44.4" rx="1.7" ry="0.9" fill="#4a1f5c" opacity="0.6" transform="rotate(158.0442910316615 43.7 44.4)"/><ellipse cx="0.9" cy="14.4" rx="1.6" ry="1.5" fill="#4a1f5c" opacity="0.6" transform="rotate(125.87080242916639 0.9 14.4)"/><ellipse cx="74.1" cy="25.4" rx="1.7" ry="1.3" fill="#4a1f5c" opacity="0.6" transform="rotate(42.16832602178784 74.1 25.4)"/><ellipse cx="7.7" cy="25.4" rx="1.1" ry="0.8" fill="#4a1f5c" opacity="0.6" transform="rotate(31.8875245844523 7.7 25.4)"/><ellipse cx="70.7" cy="45.9" rx="1.9" ry="1.3" fill="#4a1f5c" opacity="0.6" transform="rotate(86.78371493994152 70.7 45.9)"/><ellipse cx="73.0" cy="25.7" rx="1.3" ry="1.0" fill="#4a1f5c" opacity="0.6" transform="rotate(13.333790312015648 73.0 25.7)"/><ellipse cx="1.5" cy="20.3" rx="1.8" ry="1.0" fill="#4a1f5c" opacity="0.6" transform="rotate(85.83318632652389 1.5 20.3)"/><ellipse cx="23.7" cy="56.2" rx="1.3" ry="1.2" fill="#4a1f5c" opacity="0.6" transform="rotate(134.5795840260784 23.7 56.2)"/><ellipse cx="59.1" cy="67.1" rx="1.0" ry="1.2" fill="#4a1f5c" opacity="0.6" transform="rotate(34.4274196417151 59.1 67.1)"/><ellipse cx="73.2" cy="18.6" rx="2.0" ry="1.2" fill="#4a1f5c" opacity="0.6" transform="rotate(138.26250081896987 73.2 18.6)"/><ellipse cx="65.4" cy="64.5" rx="2.1" ry="1.1" fill="#4a1f5c" opacity="0.6" transform="rotate(121.36068222171671 65.4 64.5)"/><ellipse cx="75.4" cy="59.7" rx="1.5" ry="1.5" fill="#4a1f5c" opacity="0.6" transform="rotate(140.73186775912217 75.4 59.7)"/><ellipse cx="36.4" cy="33.1" rx="1.5" ry="1.5" fill="#4a1f5c" opacity="0.6" transform="rotate(41.348700457867245 36.4 33.1)"/><ellipse cx="78.4" cy="10.2" rx="1.3" ry="1.4" fill="#4a1f5c" opacity="0.6" transform="rotate(127.42659671802413 78.4 10.2)"/><ellipse cx="25.1" cy="22.4" rx="1.7" ry="1.4" fill="#4a1f5c" opacity="0.6" transform="rotate(69.2257368089285 25.1 22.4)"/><ellipse cx="38.5" cy="32.2" rx="2.0" ry="1.5" fill="#4a1f5c" opacity="0.6" transform="rotate(113.25702558081755 38.5 32.2)"/><ellipse cx="20.7" cy="31.7" rx="1.5" ry="1.3" fill="#4a1f5c" opacity="0.6" transform="rotate(56.76680753870029 20.7 31.7)"/><ellipse cx="50.0" cy="39.2" rx="1.7" ry="1.6" fill="#4a1f5c" opacity="0.6" transform="rotate(74.81318873168493 50.0 39.2)"/><ellipse cx="20.8" cy="0.5" rx="1.0" ry="1.4" fill="#4a1f5c" opacity="0.6" transform="rotate(160.64802944660178 20.8 0.5)"/><ellipse cx="54.6" cy="15.6" rx="1.0" ry="1.2" fill="#4a1f5c" opacity="0.6" transform="rotate(12.399135407463175 54.6 15.6)"/><ellipse cx="6.1" cy="47.3" rx="1.2" ry="1.2" fill="#4a1f5c" opacity="0.6" transform="rotate(152.292707921076 6.1 47.3)"/><ellipse cx="40.0" cy="28.7" rx="1.6" ry="1.5" fill="#4a1f5c" opacity="0.6" transform="rotate(32.6249927434599 40.0 28.7)"/><ellipse cx="58.5" cy="17.6" rx="1.7" ry="0.8" fill="#4a1f5c" opacity="0.6" transform="rotate(8.735513486852149 58.5 17.6)"/><ellipse cx="17.0" cy="53.2" rx="1.3" ry="1.4" fill="#4a1f5c" opacity="0.6" transform="rotate(55.45212876522703 17.0 53.2)"/><ellipse cx="69.8" cy="67.0" rx="1.9" ry="1.0" fill="#4a1f5c" opacity="0.6" transform="rotate(11.37808763410673 69.8 67.0)"/><ellipse cx="37.5" cy="20.0" rx="1.0" ry="1.4" fill="#4a1f5c" opacity="0.6" transform="rotate(149.16832854862886 37.5 20.0)"/><ellipse cx="69.6" cy="68.1" rx="1.7" ry="1.2" fill="#4a1f5c" opacity="0.6" transform="rotate(178.46146540485566 69.6 68.1)"/><ellipse cx="31.4" cy="57.1" rx="1.3" ry="1.6" fill="#4a1f5c" opacity="0.6" transform="rotate(111.22172702306328 31.4 57.1)"/><ellipse cx="81.9" cy="63.7" rx="1.7" ry="1.2" fill="#4a1f5c" opacity="0.6" transform="rotate(29.686496593262564 81.9 63.7)"/><ellipse cx="16.5" cy="5.7" rx="1.7" ry="1.0" fill="#4a1f5c" opacity="0.6" transform="rotate(3.1407584344447748 16.5 5.7)"/><ellipse cx="48.6" cy="49.8" rx="1.1" ry="1.0" fill="#4a1f5c" opacity="0.6" transform="rotate(160.12644227812285 48.6 49.8)"/><ellipse cx="23.7" cy="7.1" rx="3.0" ry="2.2" fill="#f4e4f6" opacity="0.95" transform="rotate(0 23.7 7.1)"/><ellipse cx="37.0" cy="15.0" rx="1.6" ry="2.8" fill="#f4e4f6" opacity="0.95" transform="rotate(20 37.0 15.0)"/><ellipse cx="70.0" cy="38.0" rx="2.0" ry="1.8" fill="#f4e4f6" opacity="0.9" transform="rotate(0 70.0 38.0)"/><ellipse cx="75.7" cy="4.7" rx="2.2" ry="1.6" fill="#f4e4f6" opacity="0.9" transform="rotate(0 75.7 4.7)"/><circle cx="6.3" cy="58.0" r="3.2" fill="none" stroke="#f4e4f6" stroke-width="1.5" opacity="0.95"/><ellipse cx="52.0" cy="22.0" rx="1.4" ry="1.8" fill="#f4e4f6" opacity="0.85" transform="rotate(0 52.0 22.0)"/><ellipse cx="12.0" cy="25.0" rx="1.4" ry="1.4" fill="#f4e4f6" opacity="0.8" transform="rotate(0 12.0 25.0)"/><ellipse cx="57.2" cy="58.8" rx="1.6" ry="0.8" fill="#f4e4f6" opacity="0.9" transform="rotate(118.65542734154674 57.2 58.8)"/><ellipse cx="47.1" cy="43.9" rx="1.3" ry="1.4" fill="#f4e4f6" opacity="0.9" transform="rotate(151.36305457221525 47.1 43.9)"/><ellipse cx="39.8" cy="38.6" rx="1.4" ry="1.2" fill="#f4e4f6" opacity="0.9" transform="rotate(38.46439016614506 39.8 38.6)"/><ellipse cx="5.8" cy="72.3" rx="1.6" ry="0.9" fill="#f4e4f6" opacity="0.9" transform="rotate(104.63452007643009 5.8 72.3)"/><ellipse cx="16.0" cy="61.0" rx="1.5" ry="1.1" fill="#f4e4f6" opacity="0.9" transform="rotate(52.81133578521469 16.0 61.0)"/><ellipse cx="3.4" cy="60.4" rx="2.0" ry="1.4" fill="#f4e4f6" opacity="0.9" transform="rotate(172.1221498492999 3.4 60.4)"/><ellipse cx="9.8" cy="59.8" rx="1.6" ry="1.7" fill="#f4e4f6" opacity="0.9" transform="rotate(174.22597472594157 9.8 59.8)"/><ellipse cx="33.2" cy="63.1" rx="1.8" ry="0.9" fill="#f4e4f6" opacity="0.9" transform="rotate(75.55584507394195 33.2 63.1)"/><ellipse cx="51.4" cy="38.3" rx="1.9" ry="0.9" fill="#f4e4f6" opacity="0.9" transform="rotate(112.07457979068643 51.4 38.3)"/><ellipse cx="58.4" cy="46.4" rx="1.5" ry="1.5" fill="#f4e4f6" opacity="0.9" transform="rotate(141.61089688858047 58.4 46.4)"/><ellipse cx="26.8" cy="22.7" rx="1.8" ry="1.4" fill="#f4e4f6" opacity="0.9" transform="rotate(171.77147600826518 26.8 22.7)"/><ellipse cx="63.1" cy="0.8" rx="1.6" ry="1.4" fill="#f4e4f6" opacity="0.9" transform="rotate(167.3564182382157 63.1 0.8)"/><ellipse cx="53.2" cy="62.8" rx="1.5" ry="1.1" fill="#f4e4f6" opacity="0.9" transform="rotate(55.30069747840344 53.2 62.8)"/><ellipse cx="8.6" cy="53.7" rx="2.1" ry="1.5" fill="#f4e4f6" opacity="0.9" transform="rotate(126.2297300439846 8.6 53.7)"/><ellipse cx="56.7" cy="2.5" rx="1.9" ry="1.3" fill="#f4e4f6" opacity="0.9" transform="rotate(41.46017684902102 56.7 2.5)"/><ellipse cx="20.0" cy="63.3" rx="1.3" ry="0.8" fill="#f4e4f6" opacity="0.9" transform="rotate(157.73869058337286 20.0 63.3)"/><ellipse cx="72.8" cy="30.4" rx="1.7" ry="1.6" fill="#f4e4f6" opacity="0.9" transform="rotate(111.82169546307674 72.8 30.4)"/><ellipse cx="35.7" cy="27.5" rx="2.1" ry="1.3" fill="#f4e4f6" opacity="0.9" transform="rotate(46.755362841872454 35.7 27.5)"/><path d="M82.8 37.5 C83.6 38.1 83.8 39.1 84.2 39.9 C84.5 40.7 85.3 41.8 85.0 42.2 C84.8 42.7 83.5 42.5 82.6 42.6 C81.7 42.6 80.3 43.1 79.6 42.6 C78.9 42.1 78.5 40.5 78.4 39.5 C78.4 38.6 78.7 37.1 79.4 36.8 C80.1 36.5 82.0 37.0 82.8 37.5Z" fill="none" stroke="#f4e4f6" stroke-width="0.7" opacity="0.6"/><path d="M12.1 6.4 C13.0 6.5 15.0 6.9 15.7 7.9 C16.4 8.8 16.7 11.3 16.4 12.1 C16.0 12.9 14.5 12.6 13.7 12.9 C12.8 13.1 11.9 14.0 11.1 13.6 C10.2 13.2 8.7 11.2 8.6 10.2 C8.4 9.3 9.4 8.3 10.0 7.7 C10.6 7.0 11.1 6.4 12.1 6.4Z" fill="none" stroke="#f4e4f6" stroke-width="0.7" opacity="0.6"/><path d="M5.5 56.0 C5.7 55.3 6.5 54.4 7.2 54.1 C8.0 53.9 9.4 54.2 10.0 54.7 C10.7 55.2 11.1 56.4 11.1 57.3 C11.1 58.1 10.5 59.5 9.9 59.8 C9.3 60.2 7.9 59.6 7.3 59.3 C6.6 59.0 6.2 58.5 5.9 58.0 C5.6 57.4 5.3 56.6 5.5 56.0Z" fill="none" stroke="#f4e4f6" stroke-width="0.7" opacity="0.6"/><path d="M61.8 1.5 C62.0 1.9 61.4 2.7 61.1 3.5 C60.8 4.2 60.5 5.8 60.0 6.1 C59.5 6.4 58.5 5.4 58.0 5.0 C57.4 4.6 56.7 4.3 56.7 3.7 C56.7 3.1 57.4 2.0 58.0 1.6 C58.6 1.1 59.4 1.1 60.0 1.1 C60.7 1.1 61.6 1.2 61.8 1.5Z" fill="none" stroke="#f4e4f6" stroke-width="0.7" opacity="0.6"/><path d="M75.1 8.6 C75.8 8.3 76.6 8.3 77.5 8.4 C78.3 8.6 79.9 8.9 80.3 9.5 C80.7 10.1 80.5 11.6 80.0 12.2 C79.5 12.8 78.1 13.1 77.2 13.1 C76.2 13.1 75.2 12.7 74.5 12.2 C73.9 11.7 73.3 10.7 73.4 10.1 C73.5 9.5 74.4 8.9 75.1 8.6Z" fill="none" stroke="#f4e4f6" stroke-width="0.7" opacity="0.6"/><path d="M77.7 25.3 C78.2 26.4 78.4 28.1 78.0 28.9 C77.7 29.7 76.4 29.8 75.7 30.0 C74.9 30.1 74.0 30.3 73.4 29.9 C72.9 29.5 72.5 28.3 72.4 27.4 C72.2 26.5 72.0 25.3 72.5 24.5 C72.9 23.7 74.2 22.5 75.0 22.7 C75.9 22.8 77.3 24.3 77.7 25.3Z" fill="none" stroke="#f4e4f6" stroke-width="0.7" opacity="0.6"/><path d="M52.5 39.0 C53.1 39.2 53.5 40.8 53.6 41.5 C53.7 42.2 53.4 42.8 53.1 43.3 C52.7 43.8 52.2 44.2 51.5 44.3 C50.9 44.5 50.0 44.6 49.5 44.2 C49.0 43.9 48.5 43.0 48.5 42.3 C48.5 41.7 49.0 40.8 49.6 40.3 C50.3 39.7 51.8 38.8 52.5 39.0Z" fill="none" stroke="#f4e4f6" stroke-width="0.7" opacity="0.6"/><path d="M23.6 58.6 C24.6 58.2 26.0 58.4 27.2 58.8 C28.3 59.2 29.9 59.8 30.4 60.9 C31.0 62.0 31.0 64.6 30.3 65.5 C29.6 66.3 27.3 65.9 26.0 65.9 C24.7 65.9 23.3 66.1 22.5 65.3 C21.7 64.6 20.9 62.7 21.1 61.6 C21.3 60.5 22.6 59.1 23.6 58.6Z" fill="none" stroke="#f4e4f6" stroke-width="0.7" opacity="0.6"/><path d="M23.6 10.2 C24.7 9.8 26.3 8.9 27.0 9.3 C27.6 9.7 27.4 11.4 27.5 12.5 C27.6 13.5 28.0 14.7 27.5 15.3 C26.9 15.9 25.1 16.1 24.3 15.9 C23.5 15.7 23.3 14.7 22.7 14.0 C22.0 13.3 20.4 12.2 20.6 11.6 C20.8 11.0 22.6 10.6 23.6 10.2Z" fill="none" stroke="#f4e4f6" stroke-width="0.7" opacity="0.6"/><path d="M-2.2 64.8 C-1.4 64.1 0.6 63.6 1.7 63.8 C2.9 64.0 4.3 65.0 4.8 65.8 C5.3 66.7 5.2 68.0 4.8 68.8 C4.3 69.6 3.0 70.5 2.2 70.6 C1.3 70.7 0.3 69.8 -0.5 69.4 C-1.4 68.9 -2.6 68.6 -2.9 67.8 C-3.2 67.1 -3.0 65.5 -2.2 64.8Z" fill="none" stroke="#f4e4f6" stroke-width="0.7" opacity="0.6"/><path d="M66.2 66.6 Q68.3 68.8 71.2 68.2 Q72.5 65.5 74.9 63.7" fill="none" stroke="#f4e4f6" stroke-width="0.7" stroke-linecap="round" opacity="0.6"/><path d="M25.2 35.4 Q28.0 36.6 29.0 39.4 Q28.0 42.3 25.3 43.5" fill="none" stroke="#f4e4f6" stroke-width="0.7" stroke-linecap="round" opacity="0.6"/><path d="M30.4 35.1 Q27.6 36.2 24.6 35.7 Q23.0 38.3 23.0 41.3" fill="none" stroke="#f4e4f6" stroke-width="0.7" stroke-linecap="round" opacity="0.6"/><path d="M54.2 2.4 Q52.1 0.2 51.6 -2.7 Q49.8 -5.1 48.1 -7.6" fill="none" stroke="#f4e4f6" stroke-width="0.7" stroke-linecap="round" opacity="0.6"/><path d="M14.7 28.9 Q11.7 28.3 9.9 25.9 Q8.0 23.6 6.8 20.8" fill="none" stroke="#f4e4f6" stroke-width="0.7" stroke-linecap="round" opacity="0.6"/><path d="M57.5 45.8 Q55.1 43.9 52.5 45.4 Q49.6 44.7 46.8 43.5" fill="none" stroke="#f4e4f6" stroke-width="0.7" stroke-linecap="round" opacity="0.6"/><path d="M39.3 64.6 Q39.4 61.6 39.6 58.6 Q38.7 55.7 36.8 53.4" fill="none" stroke="#f4e4f6" stroke-width="0.7" stroke-linecap="round" opacity="0.6"/><path d="M17.0 35.4 Q14.0 34.9 11.3 33.7 Q9.7 31.2 6.7 30.8" fill="none" stroke="#f4e4f6" stroke-width="0.7" stroke-linecap="round" opacity="0.6"/><path d="M7.9 12.4 Q10.6 13.6 12.5 16.0 Q12.5 19.0 14.9 20.8" fill="none" stroke="#f4e4f6" stroke-width="0.7" stroke-linecap="round" opacity="0.6"/><path d="M81.9 54.0 Q84.8 53.4 86.7 55.8 Q87.6 58.6 88.5 61.5" fill="none" stroke="#f4e4f6" stroke-width="0.7" stroke-linecap="round" opacity="0.6"/><path d="M26.5 32.7 Q25.4 29.9 23.9 27.3 Q25.4 24.7 28.1 23.5" fill="none" stroke="#f4e4f6" stroke-width="0.7" stroke-linecap="round" opacity="0.6"/><path d="M2.5 59.4 Q-0.3 58.2 -3.1 59.2 Q-4.2 62.0 -3.5 64.9" fill="none" stroke="#f4e4f6" stroke-width="0.7" stroke-linecap="round" opacity="0.6"/><path d="M8.3 33.7 Q11.0 35.0 13.9 34.4 Q16.9 34.5 18.5 32.0" fill="none" stroke="#f4e4f6" stroke-width="0.7" stroke-linecap="round" opacity="0.6"/><path d="M43.9 29.8 Q46.1 31.8 46.3 34.8 Q47.5 37.5 45.9 40.0" fill="none" stroke="#f4e4f6" stroke-width="0.7" stroke-linecap="round" opacity="0.6"/><path d="M61.6 14.0 Q59.7 11.6 57.6 9.5 Q55.8 7.1 53.0 5.9" fill="none" stroke="#f4e4f6" stroke-width="0.7" stroke-linecap="round" opacity="0.6"/><path d="M78.8 10.1 Q77.9 13.0 75.9 15.3 Q73.0 16.0 72.1 18.8" fill="none" stroke="#f4e4f6" stroke-width="0.7" stroke-linecap="round" opacity="0.6"/><path d="M69.2 72.3 Q71.1 74.6 73.9 73.6 Q76.3 71.7 79.1 70.6" fill="none" stroke="#f4e4f6" stroke-width="0.7" stroke-linecap="round" opacity="0.6"/><path d="M17.0 5.1 Q14.8 3.1 15.9 0.2 Q18.2 -1.6 20.0 -4.1" fill="none" stroke="#f4e4f6" stroke-width="0.7" stroke-linecap="round" opacity="0.6"/><path d="M66.2 31.4 Q63.7 29.9 60.9 28.6 Q58.9 26.4 58.6 23.4" fill="none" stroke="#f4e4f6" stroke-width="0.7" stroke-linecap="round" opacity="0.6"/><path d="M38.8 62.2 Q35.8 62.2 33.3 60.6 Q33.5 57.7 36.2 56.3" fill="none" stroke="#f4e4f6" stroke-width="0.7" stroke-linecap="round" opacity="0.6"/><path d="M69.8 60.5 Q66.8 60.3 65.4 63.0 Q62.5 63.5 60.0 65.2" fill="none" stroke="#f4e4f6" stroke-width="0.7" stroke-linecap="round" opacity="0.6"/><path d="M7.0 54.7 Q9.7 56.1 10.0 59.1 Q7.4 60.5 5.8 63.1" fill="none" stroke="#f4e4f6" stroke-width="0.7" stroke-linecap="round" opacity="0.6"/><line x1="11" y1="69.9" x2="47" y2="69.9" stroke="#f4ecf8" stroke-width="1.1" opacity="0.95"/>
</g></svg>
<rect x="121.10" y="620.80" width="82.10" height="74.80" fill="none" stroke="#222" stroke-width="1"/>
<rect x="220.20" y="602.20" width="81.40" height="14.70" rx="0.8" fill="#fff" stroke="#444" stroke-width="1.1"/>
<text x="260.90" y="612.15" font-size="5.9" font-weight="bold" text-anchor="middle" fill="#111">T-DXd</text>
<rect x="220.20" y="620.80" width="81.40" height="74.80" fill="#000" filter="url(#tex12)"/>
<svg x="220.20" y="620.80" width="81.40" height="74.80" overflow="hidden"><g filter="url(#soft)">
<path d="M39.4 3.2 Q25.0 22.0 9.5 45.7" fill="none" stroke="#f4e4f6" stroke-width="1.0" stroke-linecap="round" opacity="0.85"/><path d="M36.0 14.0 Q22.0 30.0 15.0 47.0" fill="none" stroke="#f4e4f6" stroke-width="0.9" stroke-linecap="round" opacity="0.75"/><path d="M55.0 6.3 C56.2 6.7 57.7 7.5 58.0 8.8 C58.3 10.1 57.5 13.0 56.6 14.2 C55.7 15.5 53.8 15.7 52.7 16.1 C51.6 16.6 50.8 17.0 50.0 16.8 C49.2 16.7 47.9 16.3 47.6 15.4 C47.4 14.5 48.0 12.9 48.5 11.4 C49.0 9.8 49.7 6.8 50.8 6.0 C51.9 5.1 53.8 5.8 55.0 6.3Z" fill="none" stroke="#f4e4f6" stroke-width="1.1" opacity="0.85"/><path d="M46.8 59.0 C47.2 60.4 47.9 62.4 47.7 64.0 C47.5 65.6 46.4 68.6 45.6 68.6 C44.7 68.6 43.6 65.2 42.7 64.0 C41.9 62.8 40.8 62.4 40.5 61.2 C40.2 60.0 40.7 58.2 41.0 56.8 C41.4 55.4 42.0 53.2 42.7 53.0 C43.5 52.8 44.7 54.6 45.4 55.6 C46.1 56.6 46.5 57.6 46.8 59.0Z" fill="none" stroke="#f4e4f6" stroke-width="1.1" opacity="0.85"/><path d="M35.9 34.1 C35.4 33.2 34.9 31.6 35.4 30.3 C35.8 29.0 37.5 27.6 38.7 26.4 C39.8 25.3 41.3 23.6 42.3 23.4 C43.3 23.3 44.6 24.4 44.6 25.5 C44.6 26.5 42.9 28.7 42.3 29.9 C41.7 31.1 41.7 31.7 41.0 32.7 C40.3 33.6 38.9 35.3 38.0 35.6 C37.2 35.8 36.3 35.0 35.9 34.1Z" fill="none" stroke="#f4e4f6" stroke-width="1.1" opacity="0.85"/><path d="M58.7 47.6 C58.8 46.3 60.0 45.1 61.1 44.1 C62.1 43.2 63.8 42.1 65.2 42.1 C66.5 42.1 67.7 43.5 69.0 44.2 C70.3 44.9 72.7 45.6 72.8 46.4 C72.9 47.2 70.7 48.1 69.7 49.2 C68.7 50.2 68.5 52.0 66.9 52.5 C65.4 53.0 61.9 53.0 60.5 52.2 C59.2 51.4 58.6 49.0 58.7 47.6Z" fill="none" stroke="#f4e4f6" stroke-width="1.1" opacity="0.85"/><path d="M17.6 66.2 C16.8 65.3 17.1 63.1 16.9 61.9 C16.6 60.6 16.0 59.7 16.2 58.8 C16.4 58.0 17.3 56.7 18.2 56.9 C19.0 57.0 20.6 58.8 21.3 59.6 C22.1 60.5 22.2 61.0 22.8 62.1 C23.4 63.2 25.2 65.3 25.0 66.2 C24.8 67.0 23.1 67.2 21.8 67.2 C20.6 67.2 18.5 67.1 17.6 66.2Z" fill="none" stroke="#f4e4f6" stroke-width="1.1" opacity="0.85"/><path d="M71.9 15.5 C72.4 16.3 72.7 17.6 72.7 18.9 C72.7 20.1 72.4 22.1 72.0 23.0 C71.5 23.8 70.5 23.9 70.0 23.9 C69.5 23.9 69.2 23.5 68.7 23.0 C68.3 22.5 67.4 22.2 67.2 21.2 C67.0 20.1 67.3 17.8 67.8 16.6 C68.2 15.4 69.3 14.1 70.0 14.0 C70.7 13.8 71.5 14.7 71.9 15.5Z" fill="none" stroke="#f4e4f6" stroke-width="1.1" opacity="0.85"/><path d="M14.4 13.2 C13.9 13.9 13.5 14.7 12.8 14.7 C12.1 14.7 10.9 14.1 10.1 13.2 C9.2 12.3 7.9 10.1 7.9 9.2 C7.9 8.2 9.5 8.2 10.1 7.5 C10.6 6.8 10.5 5.2 11.2 5.1 C11.8 4.9 13.3 5.6 14.1 6.6 C14.8 7.5 15.8 9.7 15.8 10.8 C15.9 11.9 15.0 12.6 14.4 13.2Z" fill="none" stroke="#f4e4f6" stroke-width="1.1" opacity="0.85"/><path d="M53.6 66.1 C53.1 65.5 52.7 64.2 53.3 63.9 C53.9 63.5 55.9 63.9 57.0 64.0 C58.1 64.1 58.9 64.0 59.7 64.3 C60.5 64.7 61.6 65.4 61.7 65.9 C61.8 66.3 60.8 66.5 60.5 67.1 C60.2 67.7 60.5 69.5 59.8 69.6 C59.1 69.7 57.3 68.3 56.2 67.7 C55.2 67.1 54.1 66.8 53.6 66.1Z" fill="none" stroke="#f4e4f6" stroke-width="1.1" opacity="0.85"/><path d="M31.3 43.7 C31.9 44.5 33.7 45.4 33.6 46.2 C33.4 47.0 31.6 48.2 30.4 48.5 C29.2 48.9 27.5 48.6 26.4 48.2 C25.4 47.9 24.8 47.2 24.2 46.5 C23.6 45.7 22.5 44.7 22.7 43.9 C22.9 43.0 24.3 41.7 25.5 41.3 C26.7 40.9 28.7 41.1 29.7 41.5 C30.6 41.9 30.6 42.9 31.3 43.7Z" fill="none" stroke="#f4e4f6" stroke-width="1.1" opacity="0.85"/><path d="M75.9 60.7 C77.0 60.4 78.6 61.2 79.3 61.8 C79.9 62.5 80.0 63.6 79.8 64.6 C79.6 65.5 79.2 67.1 78.2 67.7 C77.3 68.2 75.5 68.1 74.4 68.1 C73.2 68.1 72.0 68.2 71.3 67.8 C70.6 67.3 69.8 66.2 70.0 65.5 C70.2 64.7 71.7 63.9 72.7 63.1 C73.6 62.3 74.8 60.9 75.9 60.7Z" fill="none" stroke="#f4e4f6" stroke-width="1.1" opacity="0.85"/><path d="M51.5 37.8 C51.9 37.0 52.8 35.9 53.6 35.5 C54.5 35.0 55.4 35.3 56.5 35.3 C57.5 35.2 59.6 34.7 59.9 35.2 C60.1 35.7 58.7 37.4 58.0 38.2 C57.4 39.0 56.9 39.4 56.1 40.0 C55.2 40.5 53.9 41.6 53.1 41.6 C52.3 41.7 51.5 40.8 51.2 40.2 C51.0 39.5 51.1 38.6 51.5 37.8Z" fill="none" stroke="#f4e4f6" stroke-width="1.1" opacity="0.85"/><path d="M5.9 31.8 C4.9 31.2 4.0 30.6 3.6 29.9 C3.3 29.2 3.3 28.1 3.9 27.7 C4.5 27.4 6.3 27.5 7.2 27.7 C8.1 27.9 8.9 28.3 9.5 28.7 C10.1 29.1 10.3 29.5 10.7 30.0 C11.1 30.6 12.0 31.5 11.8 32.1 C11.6 32.7 10.3 33.8 9.3 33.8 C8.3 33.7 6.8 32.4 5.9 31.8Z" fill="none" stroke="#f4e4f6" stroke-width="1.1" opacity="0.85"/><path d="M58.3 69.1 C58.7 68.3 59.4 66.7 59.9 66.5 C60.4 66.2 60.7 67.4 61.3 67.6 C62.0 67.7 63.7 66.7 63.8 67.1 C63.8 67.5 62.3 69.0 61.7 69.8 C61.2 70.7 61.1 71.6 60.5 72.1 C59.9 72.5 58.8 72.9 58.3 72.8 C57.8 72.7 57.5 72.0 57.5 71.3 C57.5 70.7 57.9 69.9 58.3 69.1Z" fill="none" stroke="#f4e4f6" stroke-width="0.9" opacity="0.75"/><path d="M59.0 23.5 C58.3 23.9 57.3 25.1 56.8 25.1 C56.2 25.2 55.9 24.1 55.6 23.7 C55.3 23.4 55.0 23.3 55.0 23.0 C54.9 22.7 54.8 22.1 55.3 21.9 C55.8 21.6 57.0 21.5 58.0 21.4 C58.9 21.3 60.4 21.1 60.9 21.3 C61.4 21.4 61.3 22.2 61.0 22.6 C60.7 22.9 59.7 23.1 59.0 23.5Z" fill="none" stroke="#f4e4f6" stroke-width="0.9" opacity="0.75"/><path d="M62.5 7.0 C62.8 6.5 64.0 6.0 64.6 5.9 C65.2 5.8 65.8 6.1 66.3 6.4 C66.8 6.7 67.0 6.9 67.4 7.6 C67.8 8.2 68.9 9.5 68.5 10.3 C68.2 11.1 66.4 12.1 65.3 12.4 C64.2 12.7 62.4 12.7 61.9 12.1 C61.4 11.5 62.2 9.9 62.3 9.0 C62.4 8.2 62.1 7.5 62.5 7.0Z" fill="none" stroke="#f4e4f6" stroke-width="0.9" opacity="0.75"/><path d="M4.5 76.6 C3.2 76.1 0.2 76.9 -0.3 76.3 C-0.7 75.6 0.8 73.8 1.7 72.6 C2.5 71.5 3.6 69.3 4.7 69.1 C5.8 68.9 7.2 70.9 8.2 71.5 C9.2 72.1 10.5 72.3 10.6 72.9 C10.8 73.6 9.6 74.4 9.1 75.4 C8.5 76.4 8.2 78.6 7.4 78.8 C6.6 79.0 5.7 77.0 4.5 76.6Z" fill="none" stroke="#f4e4f6" stroke-width="0.9" opacity="0.75"/><path d="M49.4 64.9 C49.6 65.6 49.7 66.4 49.6 66.9 C49.5 67.3 49.2 67.2 48.8 67.4 C48.4 67.6 47.8 68.7 47.3 68.2 C46.7 67.7 45.8 65.8 45.3 64.5 C44.8 63.1 44.2 61.1 44.4 60.2 C44.5 59.4 45.5 59.0 46.2 59.4 C46.9 59.8 47.8 61.6 48.4 62.5 C48.9 63.5 49.2 64.2 49.4 64.9Z" fill="none" stroke="#f4e4f6" stroke-width="0.9" opacity="0.75"/><path d="M11.2 27.5 C11.4 26.8 11.9 25.6 12.6 24.9 C13.3 24.3 14.7 23.7 15.5 23.6 C16.3 23.6 17.3 24.0 17.7 24.6 C18.1 25.1 18.3 26.1 18.1 27.0 C17.9 27.9 17.1 28.9 16.3 29.7 C15.4 30.5 13.8 32.0 13.0 31.9 C12.3 31.9 12.1 30.2 11.8 29.4 C11.5 28.7 11.1 28.2 11.2 27.5Z" fill="none" stroke="#f4e4f6" stroke-width="0.9" opacity="0.75"/><path d="M6.7 10.2 C6.2 9.9 4.7 9.1 3.7 8.5 C2.7 7.9 1.4 7.5 0.7 6.6 C-0.0 5.8 -0.5 4.6 -0.8 3.5 C-1.0 2.3 -0.6 0.5 -0.6 -0.0" fill="none" stroke="#f4e4f6" stroke-width="0.8" stroke-linecap="round" opacity="0.7"/><path d="M28.8 17.7 C28.4 18.2 27.1 19.7 26.9 20.8 C26.6 21.9 27.3 23.3 27.2 24.5 C27.0 25.6 26.6 27.0 25.8 27.9 C25.1 28.7 23.2 29.4 22.7 29.7" fill="none" stroke="#f4e4f6" stroke-width="0.8" stroke-linecap="round" opacity="0.7"/><path d="M59.5 9.3 C59.2 9.1 58.2 8.7 57.8 8.2 C57.4 7.7 57.3 6.9 57.0 6.3 C56.8 5.7 56.4 5.1 56.2 4.4 C56.0 3.8 55.9 2.8 55.8 2.4" fill="none" stroke="#f4e4f6" stroke-width="0.8" stroke-linecap="round" opacity="0.7"/><path d="M2.6 3.2 C2.5 2.6 2.1 0.6 1.6 -0.6 C1.2 -1.8 0.5 -2.9 0.0 -4.1 C-0.5 -5.3 -0.9 -6.5 -1.4 -7.7 C-1.9 -8.9 -2.6 -10.7 -2.9 -11.3" fill="none" stroke="#f4e4f6" stroke-width="0.8" stroke-linecap="round" opacity="0.7"/><path d="M62.7 45.4 C63.0 46.0 63.7 47.9 64.3 49.1 C65.0 50.3 66.1 51.3 66.6 52.6 C67.1 53.8 67.1 55.3 67.4 56.6 C67.7 57.9 68.5 59.9 68.7 60.5" fill="none" stroke="#f4e4f6" stroke-width="0.8" stroke-linecap="round" opacity="0.7"/><path d="M13.0 0.9 C13.2 1.4 14.1 2.9 14.3 3.9 C14.4 4.9 13.8 6.0 13.8 7.1 C13.8 8.2 14.3 9.3 14.2 10.4 C14.1 11.4 13.6 13.0 13.5 13.5" fill="none" stroke="#f4e4f6" stroke-width="0.8" stroke-linecap="round" opacity="0.7"/><path d="M54.9 41.1 C55.2 40.9 56.3 40.6 56.9 40.1 C57.4 39.6 57.5 38.8 58.0 38.2 C58.5 37.7 59.1 37.1 59.7 36.8 C60.4 36.6 61.6 36.8 61.9 36.8" fill="none" stroke="#f4e4f6" stroke-width="0.8" stroke-linecap="round" opacity="0.7"/><path d="M65.6 49.6 C66.1 49.5 67.4 49.1 68.4 49.0 C69.3 49.0 70.3 49.0 71.2 49.3 C72.0 49.6 72.8 50.3 73.7 50.6 C74.5 51.0 75.9 51.5 76.3 51.6" fill="none" stroke="#f4e4f6" stroke-width="0.8" stroke-linecap="round" opacity="0.7"/><path d="M80.4 30.5 C80.8 31.0 81.8 32.6 82.4 33.6 C83.1 34.7 83.6 35.9 84.5 36.7 C85.4 37.5 86.8 37.7 87.8 38.4 C88.8 39.1 90.0 40.5 90.5 41.0" fill="none" stroke="#f4e4f6" stroke-width="0.8" stroke-linecap="round" opacity="0.7"/><path d="M15.3 23.6 C16.0 23.4 18.1 22.6 19.5 22.5 C20.9 22.5 22.3 23.1 23.7 23.1 C25.1 23.2 26.5 23.0 27.9 22.7 C29.3 22.4 31.2 21.5 31.9 21.3" fill="none" stroke="#f4e4f6" stroke-width="0.8" stroke-linecap="round" opacity="0.7"/><path d="M63.6 41.4 C64.2 41.0 66.2 40.1 67.2 39.1 C68.2 38.1 68.4 36.3 69.4 35.4 C70.4 34.4 71.8 33.7 73.1 33.3 C74.5 32.9 76.7 33.0 77.4 33.0" fill="none" stroke="#f4e4f6" stroke-width="0.8" stroke-linecap="round" opacity="0.7"/><path d="M42.6 47.6 C42.0 47.8 40.2 48.2 39.0 48.5 C37.8 48.9 36.8 49.8 35.6 50.0 C34.4 50.1 33.1 49.9 32.0 49.4 C30.9 49.0 29.6 47.5 29.1 47.1" fill="none" stroke="#f4e4f6" stroke-width="0.8" stroke-linecap="round" opacity="0.7"/><path d="M73.9 69.4 C73.4 69.7 71.7 70.2 71.0 70.9 C70.3 71.6 70.4 73.1 69.7 73.9 C69.1 74.7 67.8 75.0 67.2 75.9 C66.6 76.7 66.5 78.5 66.3 79.0" fill="none" stroke="#f4e4f6" stroke-width="0.8" stroke-linecap="round" opacity="0.7"/><path d="M55.0 5.2 C55.4 5.5 56.5 6.3 57.3 6.8 C58.1 7.2 59.1 7.5 59.7 8.1 C60.4 8.8 60.6 9.8 61.2 10.6 C61.7 11.3 62.6 12.4 62.9 12.8" fill="none" stroke="#f4e4f6" stroke-width="0.8" stroke-linecap="round" opacity="0.7"/><path d="M64.6 69.0 C64.0 69.3 61.9 70.1 60.7 71.0 C59.6 71.8 58.8 73.1 57.8 74.2 C56.9 75.4 56.4 76.9 55.3 77.8 C54.2 78.7 51.9 79.1 51.3 79.4" fill="none" stroke="#f4e4f6" stroke-width="0.8" stroke-linecap="round" opacity="0.7"/><path d="M46.0 15.7 C45.6 16.0 44.4 16.9 43.5 17.4 C42.6 17.8 41.6 18.3 40.6 18.3 C39.7 18.3 38.7 17.7 37.8 17.3 C36.9 16.9 35.6 16.0 35.2 15.7" fill="none" stroke="#f4e4f6" stroke-width="0.8" stroke-linecap="round" opacity="0.7"/><path d="M80.6 13.5 C80.9 14.0 81.7 15.3 82.2 16.2 C82.8 17.0 83.6 17.9 83.8 18.8 C84.1 19.8 83.9 20.9 83.8 21.9 C83.8 22.9 83.4 24.4 83.3 24.9" fill="none" stroke="#f4e4f6" stroke-width="0.8" stroke-linecap="round" opacity="0.7"/><path d="M51.1 43.0 C51.4 42.4 52.1 40.4 52.6 39.1 C53.1 37.8 53.8 36.5 54.1 35.2 C54.4 33.8 54.9 32.3 54.7 31.0 C54.4 29.7 52.9 28.0 52.6 27.4" fill="none" stroke="#f4e4f6" stroke-width="0.8" stroke-linecap="round" opacity="0.7"/>
</g></svg>
<rect x="220.20" y="620.80" width="81.40" height="74.80" fill="none" stroke="#222" stroke-width="1"/>
<rect x="310.30" y="602.20" width="81.70" height="14.70" rx="0.8" fill="#fff" stroke="#444" stroke-width="1.1"/>
<text x="351.15" y="612.15" font-size="5.9" font-weight="bold" text-anchor="middle" fill="#111">T-DXd + Adavosertib</text>
<rect x="310.30" y="620.80" width="81.70" height="74.80" fill="#000" filter="url(#tex13)"/>
<svg x="310.30" y="620.80" width="81.70" height="74.80" overflow="hidden"><g filter="url(#soft)">
<ellipse cx="70" cy="20" rx="8" ry="5.5" fill="#f0e0f0" opacity="0.55" stroke="#f4e4f6" stroke-width="1.3" transform="rotate(25 70 20)"/><circle cx="66" cy="18" r="1.0" fill="#301038" opacity="0.8"/><circle cx="70" cy="21" r="1.0" fill="#301038" opacity="0.8"/><circle cx="73" cy="17" r="1.0" fill="#301038" opacity="0.8"/><circle cx="68" cy="23" r="1.0" fill="#301038" opacity="0.8"/><circle cx="75" cy="22" r="1.0" fill="#301038" opacity="0.8"/><circle cx="64" cy="15" r="1.0" fill="#301038" opacity="0.8"/><path d="M42.6 3.0 Q43.0 8.0 42.0 12.6" fill="none" stroke="#f4e4f6" stroke-width="0.9" stroke-linecap="round" opacity="0.8"/><path d="M50.5 38.0 Q51.0 42.0 50.0 47.0" fill="none" stroke="#f4e4f6" stroke-width="0.9" stroke-linecap="round" opacity="0.8"/><path d="M28.0 39.0 Q33.0 47.0 38.0 55.0" fill="none" stroke="#f4e4f6" stroke-width="0.9" stroke-linecap="round" opacity="0.75"/><path d="M20.0 60.0 Q24.0 67.0 27.0 74.0" fill="none" stroke="#f4e4f6" stroke-width="0.9" stroke-linecap="round" opacity="0.75"/><path d="M1.2 70.2 C0.2 70.0 -1.2 68.3 -1.4 67.2 C-1.6 66.0 -0.6 64.4 0.0 63.3 C0.6 62.1 1.2 60.7 2.0 60.4 C2.8 60.1 4.2 60.8 4.8 61.6 C5.4 62.3 5.4 63.8 5.3 64.9 C5.2 66.0 4.9 67.2 4.3 68.1 C3.6 69.0 2.1 70.3 1.2 70.2Z" fill="none" stroke="#f4e4f6" stroke-width="0.7" opacity="0.65"/><path d="M32.1 29.7 C33.4 29.7 35.8 31.1 36.7 32.1 C37.5 33.2 37.7 34.9 37.4 36.0 C37.1 37.1 35.9 38.4 34.7 38.9 C33.5 39.4 31.0 39.5 30.0 38.9 C29.0 38.4 28.9 36.6 28.6 35.6 C28.4 34.5 28.0 33.6 28.6 32.6 C29.2 31.6 30.7 29.8 32.1 29.7Z" fill="none" stroke="#f4e4f6" stroke-width="0.7" opacity="0.65"/><path d="M26.6 18.1 C26.0 18.7 23.8 17.9 22.4 17.7 C21.1 17.5 19.2 17.7 18.5 16.8 C17.7 15.9 17.3 13.4 17.8 12.6 C18.3 11.7 20.3 11.9 21.5 11.5 C22.8 11.1 24.6 9.7 25.3 10.1 C26.0 10.6 25.6 12.8 25.8 14.1 C26.0 15.5 27.1 17.5 26.6 18.1Z" fill="none" stroke="#f4e4f6" stroke-width="0.7" opacity="0.65"/><path d="M40.4 7.0 C39.8 7.6 39.3 8.3 38.6 8.5 C38.0 8.7 36.8 8.5 36.4 8.2 C36.1 7.8 36.5 7.0 36.6 6.4 C36.8 5.7 36.7 4.7 37.2 4.4 C37.6 4.1 38.5 4.6 39.3 4.7 C40.1 4.8 41.6 4.5 41.8 4.8 C42.0 5.2 40.9 6.4 40.4 7.0Z" fill="none" stroke="#f4e4f6" stroke-width="0.7" opacity="0.65"/><path d="M51.7 54.3 C50.4 53.6 48.8 51.5 48.6 50.0 C48.3 48.6 49.2 46.5 50.2 45.6 C51.3 44.8 53.4 44.5 54.7 44.8 C55.9 45.2 57.0 46.4 57.8 47.6 C58.7 48.7 60.1 50.4 59.9 51.5 C59.6 52.6 57.9 53.8 56.5 54.2 C55.2 54.7 53.1 55.0 51.7 54.3Z" fill="none" stroke="#f4e4f6" stroke-width="0.7" opacity="0.65"/><path d="M71.2 52.7 C72.2 52.7 74.1 53.8 74.5 54.5 C75.0 55.3 74.3 56.5 74.1 57.2 C73.8 58.0 73.8 58.6 73.2 58.9 C72.7 59.3 71.5 59.4 70.7 59.1 C69.9 58.8 68.6 57.7 68.3 56.9 C68.1 56.1 68.6 55.2 69.1 54.5 C69.6 53.8 70.3 52.7 71.2 52.7Z" fill="none" stroke="#f4e4f6" stroke-width="0.7" opacity="0.65"/><path d="M33.7 69.1 C34.0 69.6 33.4 70.6 33.0 71.4 C32.7 72.2 32.6 73.6 31.8 74.0 C31.0 74.4 28.8 74.2 28.2 73.7 C27.5 73.2 27.8 71.9 27.8 71.1 C27.8 70.2 27.6 69.1 28.1 68.6 C28.7 68.2 30.1 68.4 31.1 68.4 C32.0 68.5 33.3 68.6 33.7 69.1Z" fill="none" stroke="#f4e4f6" stroke-width="0.7" opacity="0.65"/><path d="M69.3 41.2 C68.6 41.3 67.6 39.9 67.0 39.2 C66.4 38.5 65.9 38.0 65.7 37.1 C65.6 36.2 65.6 34.3 66.1 33.8 C66.7 33.4 68.0 34.0 68.9 34.2 C69.9 34.5 71.2 34.6 71.6 35.3 C71.9 36.0 71.6 37.6 71.2 38.5 C70.8 39.5 70.0 41.1 69.3 41.2Z" fill="none" stroke="#f4e4f6" stroke-width="0.7" opacity="0.65"/><path d="M74.1 40.8 C74.8 39.9 76.1 39.0 77.2 39.1 C78.3 39.1 80.0 40.3 80.7 41.2 C81.5 42.2 81.9 43.7 81.8 44.7 C81.7 45.6 80.8 46.4 79.9 46.8 C79.1 47.3 77.7 47.7 76.6 47.3 C75.5 46.9 73.7 45.4 73.3 44.4 C72.9 43.3 73.5 41.7 74.1 40.8Z" fill="none" stroke="#f4e4f6" stroke-width="0.7" opacity="0.65"/><path d="M54.3 1.0 C54.5 1.8 53.8 2.7 53.6 3.5 C53.3 4.2 53.3 5.3 52.7 5.7 C52.2 6.1 50.7 6.5 50.2 6.0 C49.7 5.5 49.7 3.6 49.8 2.8 C49.9 1.9 50.3 1.5 50.7 0.9 C51.2 0.2 51.8 -0.9 52.4 -0.9 C53.0 -0.8 54.1 0.3 54.3 1.0Z" fill="none" stroke="#f4e4f6" stroke-width="0.7" opacity="0.65"/><path d="M52.2 25.7 C51.9 26.6 51.6 27.9 50.8 28.3 C50.0 28.6 48.2 28.6 47.4 28.1 C46.5 27.6 45.9 26.0 45.9 25.1 C45.9 24.3 46.8 23.3 47.4 22.9 C48.1 22.5 48.8 22.7 49.7 22.6 C50.5 22.6 52.3 22.3 52.8 22.8 C53.2 23.3 52.6 24.8 52.2 25.7Z" fill="none" stroke="#f4e4f6" stroke-width="0.7" opacity="0.65"/><path d="M12.3 11.5 C11.9 10.7 11.9 10.4 11.9 9.6 C11.8 8.7 11.6 6.6 12.0 6.4 C12.5 6.3 14.0 8.1 14.8 8.8 C15.6 9.4 16.4 9.8 16.7 10.6 C17.0 11.4 17.0 12.8 16.6 13.3 C16.1 13.9 14.7 14.1 14.0 13.8 C13.3 13.5 12.6 12.2 12.3 11.5Z" fill="none" stroke="#f4e4f6" stroke-width="0.7" opacity="0.65"/><path d="M71.3 71.9 C70.8 72.0 69.3 72.3 68.3 72.6 C67.4 73.0 66.3 73.4 65.6 74.0 C64.8 74.6 64.0 76.0 63.7 76.4" fill="none" stroke="#f4e4f6" stroke-width="0.7" stroke-linecap="round" opacity="0.65"/><path d="M39.4 37.9 C39.0 38.1 37.9 38.4 37.4 38.9 C36.9 39.4 36.8 40.4 36.3 40.9 C35.8 41.4 34.6 41.6 34.2 41.8" fill="none" stroke="#f4e4f6" stroke-width="0.7" stroke-linecap="round" opacity="0.65"/><path d="M43.4 42.4 C43.5 42.7 43.9 43.6 43.9 44.2 C43.9 44.8 43.6 45.4 43.4 46.0 C43.2 46.6 42.7 47.4 42.6 47.7" fill="none" stroke="#f4e4f6" stroke-width="0.7" stroke-linecap="round" opacity="0.65"/><path d="M41.0 52.0 C40.7 51.7 39.9 50.5 39.2 50.1 C38.4 49.6 37.4 49.7 36.6 49.4 C35.7 49.0 34.6 48.3 34.2 48.0" fill="none" stroke="#f4e4f6" stroke-width="0.7" stroke-linecap="round" opacity="0.65"/><path d="M33.7 14.5 C33.4 14.5 32.4 14.8 31.7 14.7 C31.0 14.6 30.4 14.2 29.8 14.0 C29.1 13.8 28.1 13.6 27.8 13.5" fill="none" stroke="#f4e4f6" stroke-width="0.7" stroke-linecap="round" opacity="0.65"/><path d="M24.8 32.5 C24.5 32.7 23.4 33.5 22.7 34.0 C22.0 34.6 21.3 35.1 20.8 35.8 C20.3 36.5 19.8 37.8 19.6 38.2" fill="none" stroke="#f4e4f6" stroke-width="0.7" stroke-linecap="round" opacity="0.65"/><path d="M61.5 43.9 C61.3 44.3 61.2 45.6 60.7 46.3 C60.2 46.9 59.4 47.3 58.6 47.7 C57.9 48.1 56.7 48.5 56.3 48.6" fill="none" stroke="#f4e4f6" stroke-width="0.7" stroke-linecap="round" opacity="0.65"/><path d="M76.6 66.6 C76.1 66.4 74.5 65.7 73.6 65.1 C72.6 64.5 71.9 63.5 70.9 63.1 C69.9 62.8 68.1 62.9 67.5 62.9" fill="none" stroke="#f4e4f6" stroke-width="0.7" stroke-linecap="round" opacity="0.65"/><path d="M38.6 52.4 C38.1 52.3 36.7 52.1 35.8 51.8 C34.9 51.6 34.0 51.3 33.1 50.9 C32.2 50.6 30.9 50.0 30.5 49.8" fill="none" stroke="#f4e4f6" stroke-width="0.7" stroke-linecap="round" opacity="0.65"/><path d="M46.2 29.2 C46.7 29.3 48.2 29.7 49.1 29.6 C50.1 29.6 51.0 29.1 52.0 29.0 C53.0 28.9 54.4 29.0 54.9 29.0" fill="none" stroke="#f4e4f6" stroke-width="0.7" stroke-linecap="round" opacity="0.65"/><path d="M5.8 40.8 C5.4 40.6 4.2 40.4 3.5 40.1 C2.8 39.7 2.1 39.3 1.6 38.7 C1.1 38.1 0.6 37.0 0.5 36.6" fill="none" stroke="#f4e4f6" stroke-width="0.7" stroke-linecap="round" opacity="0.65"/><path d="M46.7 65.8 C47.0 65.2 48.0 63.4 48.2 62.1 C48.3 60.8 48.0 59.4 47.6 58.2 C47.3 56.9 46.4 55.1 46.1 54.5" fill="none" stroke="#f4e4f6" stroke-width="0.7" stroke-linecap="round" opacity="0.65"/><path d="M45.2 17.0 C44.7 16.6 43.4 14.9 42.3 14.3 C41.2 13.7 39.7 13.2 38.4 13.3 C37.2 13.5 35.4 14.8 34.8 15.0" fill="none" stroke="#f4e4f6" stroke-width="0.7" stroke-linecap="round" opacity="0.65"/><path d="M41.9 60.9 C42.2 60.6 42.9 59.6 43.6 59.3 C44.3 59.0 45.2 58.8 45.9 59.0 C46.6 59.1 47.6 60.0 47.9 60.2" fill="none" stroke="#f4e4f6" stroke-width="0.7" stroke-linecap="round" opacity="0.65"/><path d="M59.1 49.4 C59.4 49.8 60.4 51.1 60.9 52.0 C61.4 53.0 61.9 54.0 62.1 55.0 C62.3 56.1 62.2 57.7 62.2 58.2" fill="none" stroke="#f4e4f6" stroke-width="0.7" stroke-linecap="round" opacity="0.65"/><path d="M29.8 27.3 C30.0 27.6 30.6 28.3 31.1 28.7 C31.6 29.1 32.1 29.4 32.6 29.9 C33.0 30.3 33.4 31.1 33.6 31.4" fill="none" stroke="#f4e4f6" stroke-width="0.7" stroke-linecap="round" opacity="0.65"/><path d="M72.3 2.2 C72.4 1.9 73.1 1.3 73.4 0.8 C73.6 0.3 73.7 -0.3 73.8 -0.8 C74.0 -1.4 74.2 -2.2 74.3 -2.5" fill="none" stroke="#f4e4f6" stroke-width="0.7" stroke-linecap="round" opacity="0.65"/><path d="M60.5 42.8 C60.9 42.4 62.1 41.0 63.1 40.3 C64.1 39.6 65.4 39.3 66.3 38.5 C67.2 37.8 68.3 36.3 68.7 35.8" fill="none" stroke="#f4e4f6" stroke-width="0.7" stroke-linecap="round" opacity="0.65"/><path d="M62.3 55.4 C61.7 55.6 59.8 56.4 58.6 56.5 C57.3 56.6 55.8 56.5 54.8 55.9 C53.7 55.3 52.6 53.5 52.2 53.0" fill="none" stroke="#f4e4f6" stroke-width="0.7" stroke-linecap="round" opacity="0.65"/><path d="M58.8 47.7 C58.7 47.2 58.4 45.7 58.3 44.8 C58.3 43.8 58.6 42.8 58.5 41.8 C58.4 40.9 57.8 39.5 57.7 39.0" fill="none" stroke="#f4e4f6" stroke-width="0.7" stroke-linecap="round" opacity="0.65"/><path d="M39.4 36.1 C39.2 35.8 38.5 34.8 38.4 34.1 C38.3 33.4 38.6 32.6 38.6 31.9 C38.7 31.1 38.7 30.0 38.7 29.6" fill="none" stroke="#f4e4f6" stroke-width="0.7" stroke-linecap="round" opacity="0.65"/><path d="M55.7 67.6 C55.6 67.1 55.5 65.2 55.0 64.3 C54.5 63.3 53.5 62.4 52.6 61.9 C51.6 61.3 49.8 61.2 49.2 61.1" fill="none" stroke="#f4e4f6" stroke-width="0.7" stroke-linecap="round" opacity="0.65"/>
</g></svg>
<rect x="310.30" y="620.80" width="81.70" height="74.80" fill="none" stroke="#222" stroke-width="1"/>
<rect x="417.2" y="492.80" width="8.1" height="3.6" rx="0.4" fill="#6482b8" stroke="#1c3160" stroke-width="1.2"/>
<text x="430.9" y="497.10" font-size="7.15" fill="#111" style="stroke-width:0.15px">C: Control</text>
<rect x="417.2" y="504.15" width="8.1" height="3.6" rx="0.4" fill="#f0a060" stroke="#7a4510" stroke-width="1.2"/>
<text x="430.9" y="508.45" font-size="7.15" fill="#111" style="stroke-width:0.15px">A: Adavosertib (60 mg/kg)</text>
<rect x="417.2" y="515.50" width="8.1" height="3.6" rx="0.4" fill="#6aa466" stroke="#1d501d" stroke-width="1.2"/>
<text x="430.9" y="519.80" font-size="7.15" fill="#111" style="stroke-width:0.15px">T: T-DXd (10 mg/kg)</text>
<rect x="417.2" y="526.85" width="8.1" height="3.6" rx="0.4" fill="#e06070" stroke="#7e1f2c" stroke-width="1.2"/>
<text x="430.9" y="531.15" font-size="7.15" fill="#111" style="stroke-width:0.15px">A+T: Adavosertib + T-DXd</text>
</svg>
</body></html>
